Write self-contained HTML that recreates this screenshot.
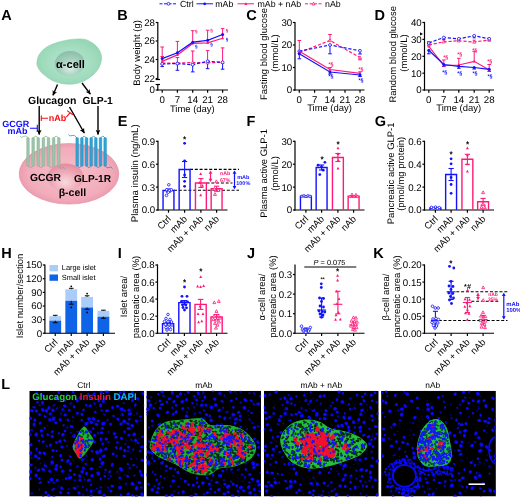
<!DOCTYPE html>
<html><head><meta charset="utf-8"><title>Figure</title>
<style>
html,body{margin:0;padding:0;background:#fff;}
svg{display:block;font-family:'Liberation Sans',Arial,sans-serif;text-rendering:geometricPrecision;}
</style></head><body>
<svg width="520" height="499" viewBox="0 0 520 499">
<rect width="520" height="499" fill="#fff"/>
<text x="1.2" y="19.5" font-size="14.5" font-weight="bold">A</text>
<text x="117.3" y="19.5" font-size="14.5" font-weight="bold">B</text>
<text x="246.3" y="19.5" font-size="14.5" font-weight="bold">C</text>
<text x="374.5" y="19.5" font-size="14.5" font-weight="bold">D</text>
<text x="117.7" y="125.5" font-size="14.5" font-weight="bold">E</text>
<text x="246.5" y="125.5" font-size="14.5" font-weight="bold">F</text>
<text x="374.8" y="125.5" font-size="14.5" font-weight="bold">G</text>
<text x="1.2" y="257.8" font-size="14.5" font-weight="bold">H</text>
<text x="117.8" y="257.8" font-size="14.5" font-weight="bold">I</text>
<text x="247" y="257.8" font-size="14.5" font-weight="bold">J</text>
<text x="373.2" y="257.8" font-size="14.5" font-weight="bold">K</text>
<text x="1.2" y="388.5" font-size="14.5" font-weight="bold">L</text>
<line x1="159.50" y1="3.80" x2="177.50" y2="3.80" stroke="#1212ff" stroke-width="1" stroke-dasharray="3 1.5"/>
<circle cx="168.50" cy="3.80" r="1.4" fill="#fff" stroke="#1212ff" stroke-width="0.8"/>
<text x="180" y="6.6" font-size="8.8">Ctrl</text>
<line x1="196.50" y1="3.80" x2="213.00" y2="3.80" stroke="#1212ff" stroke-width="1"/>
<circle cx="204.70" cy="3.80" r="1.4" fill="#1212ff"/>
<text x="215.2" y="6.6" font-size="8.8">mAb</text>
<line x1="237.50" y1="3.80" x2="254.00" y2="3.80" stroke="#ff1a78" stroke-width="1"/>
<polygon points="245.80,2.17 244.34,4.94 247.26,4.94" fill="#ff1a78"/>
<text x="257.5" y="6.6" font-size="8.8">mAb + nAb</text>
<line x1="305.00" y1="3.80" x2="321.50" y2="3.80" stroke="#ff1a78" stroke-width="1" stroke-dasharray="3 1.5"/>
<polygon points="313.50,2.17 312.04,4.94 314.96,4.94" fill="#fff" stroke="#ff1a78" stroke-width="0.8"/>
<text x="325" y="6.6" font-size="8.8">nAb</text>
<defs>
<radialGradient id="ga" cx="50%" cy="52%" r="58%"><stop offset="0" stop-color="#b8e5cf"/><stop offset="0.6" stop-color="#a3ddc0"/><stop offset="1" stop-color="#93d4b1"/></radialGradient>
<radialGradient id="gan" cx="50%" cy="68%" r="70%"><stop offset="0" stop-color="#dcefe7"/><stop offset="0.5" stop-color="#a6d0be"/><stop offset="1" stop-color="#86bda6"/></radialGradient>
<radialGradient id="gb" cx="50%" cy="50%" r="55%"><stop offset="0" stop-color="#f6bfca"/><stop offset="0.75" stop-color="#f2acbb"/><stop offset="1" stop-color="#e995aa"/></radialGradient>
<radialGradient id="gbn" cx="50%" cy="68%" r="68%"><stop offset="0" stop-color="#fad9df"/><stop offset="0.55" stop-color="#efa9b8"/><stop offset="1" stop-color="#e28b9f"/></radialGradient>
<marker id="ah" viewBox="0 0 10 10" refX="9" refY="5" markerUnits="userSpaceOnUse" markerWidth="5.6" markerHeight="5.2" orient="auto"><path d="M0,0.5 L10,5 L0,9.5 L2.5,5 z" fill="#000"/></marker>
</defs>
<path d="M36.9,63.1C37.0,60.8 37.5,57.3 39.2,54.6C40.9,51.9 43.3,49.1 46.9,46.9C50.5,44.7 56.2,42.8 60.8,41.5C65.4,40.2 70.5,39.5 74.6,39.2C78.7,38.9 82.1,38.6 85.4,39.5C88.7,40.4 92.2,42.6 94.6,44.6C97.0,46.6 98.8,49.1 100.0,51.5C101.2,53.9 101.8,56.4 101.5,59.2C101.2,62.0 100.2,65.7 98.5,68.5C96.8,71.3 94.5,73.9 91.5,76.2C88.5,78.5 84.6,81.0 80.8,82.3C77.0,83.6 72.9,84.3 68.5,84.2C64.1,84.1 58.7,83.1 54.6,81.5C50.5,79.9 46.5,76.8 43.8,74.6C41.1,72.4 39.6,70.4 38.5,68.5C37.4,66.6 36.8,65.4 36.9,63.1Z" fill="url(#ga)" stroke="#8ccfac" stroke-width="0.6"/>
<ellipse cx="69.6" cy="63.5" rx="15" ry="12.5" fill="url(#gan)" transform="rotate(-8 69.6 63.5)"/>
<text x="70.5" y="67.6" font-size="11" text-anchor="middle" font-weight="bold">α-cell</text>
<g stroke="#000" stroke-width="1.4" fill="none">
<line x1="57.5" y1="84.6" x2="53" y2="95.3" marker-end="url(#ah)"/>
<line x1="82" y1="83" x2="90.3" y2="94.2" marker-end="url(#ah)"/>
<line x1="39.2" y1="106" x2="39.2" y2="134.5" marker-end="url(#ah)"/>
<line x1="69.5" y1="107" x2="84.3" y2="133" marker-end="url(#ah)"/>
<line x1="98" y1="106" x2="98" y2="134.5" marker-end="url(#ah)"/>
</g>
<text x="28" y="103.8" font-size="10.5" font-weight="bold">Glucagon</text>
<text x="82.5" y="103.8" font-size="10.3" font-weight="bold">GLP-1</text>
<text x="48.7" y="121" font-size="9" font-weight="bold" fill="#fa0f16">nAb</text>
<g stroke="#fa0f16" stroke-width="1.1" fill="none"><path d="M41.3,115.6 V121 M41.3,118.3 H48"/><path d="M66.3,117.2 L70.2,112.6 M67.2,110.6 L72.8,114.8"/></g>
<text x="2.3" y="127.2" font-size="9" font-weight="bold" fill="#0c0cff">GCGR</text>
<text x="7.5" y="134.2" font-size="9" font-weight="bold" fill="#0c0cff">mAb</text>
<g stroke="#0c0cff" stroke-width="1.1" fill="none"><path d="M30,128.3 H37.3 M37.3,124.8 V132"/></g>
<ellipse cx="69" cy="173.8" rx="49.8" ry="30.3" fill="url(#gb)" stroke="#e693a8" stroke-width="0.7"/>
<ellipse cx="65.5" cy="177.3" rx="18" ry="13.8" fill="url(#gbn)"/>
<path d="M28.0,165.3 Q30.6,169.8 33.1,165.3 M33.1,138.5 Q35.7,134.0 38.3,138.5 M38.3,165.3 Q40.8,169.8 43.4,165.3 M43.4,138.5 Q46.0,134.0 48.5,138.5 M48.5,165.3 Q51.1,169.8 53.6,165.3 M53.6,138.5 Q56.2,134.0 58.8,138.5 " fill="none" stroke="#7aa98c" stroke-width="0.7"/>
<path d="M28.2,138 Q26,134.5 23.5,136.5 T20,136 M58.8,166 Q60,169.5 62,168 T65.5,169.5" fill="none" stroke="#7aa98c" stroke-width="0.7"/>
<rect x="26.65" y="137.5" width="2.7" height="28.8" rx="1.1" fill="#9cc4aa" stroke="#7aa98c" stroke-width="0.35"/>
<rect x="31.78" y="137.5" width="2.7" height="28.8" rx="1.1" fill="#9cc4aa" stroke="#7aa98c" stroke-width="0.35"/>
<rect x="36.91" y="137.5" width="2.7" height="28.8" rx="1.1" fill="#9cc4aa" stroke="#7aa98c" stroke-width="0.35"/>
<rect x="42.04" y="137.5" width="2.7" height="28.8" rx="1.1" fill="#9cc4aa" stroke="#7aa98c" stroke-width="0.35"/>
<rect x="47.17" y="137.5" width="2.7" height="28.8" rx="1.1" fill="#9cc4aa" stroke="#7aa98c" stroke-width="0.35"/>
<rect x="52.30" y="137.5" width="2.7" height="28.8" rx="1.1" fill="#9cc4aa" stroke="#7aa98c" stroke-width="0.35"/>
<rect x="57.43" y="137.5" width="2.7" height="28.8" rx="1.1" fill="#9cc4aa" stroke="#7aa98c" stroke-width="0.35"/>
<path d="M77.2,165.3 Q79.5,169.8 81.9,165.3 M81.9,138.5 Q84.2,134.0 86.5,138.5 M86.5,165.3 Q88.9,169.8 91.2,165.3 M91.2,138.5 Q93.5,134.0 95.8,138.5 M95.8,165.3 Q98.2,169.8 100.5,165.3 M100.5,138.5 Q102.8,134.0 105.2,138.5 " fill="none" stroke="#1b86b8" stroke-width="0.7"/>
<path d="M76.8,138 Q74.5,134 72,135.5 T68.5,134.5 M105.2,166 Q107,169 109,167.5 T112.5,168.5" fill="none" stroke="#1b86b8" stroke-width="0.7"/>
<rect x="75.85" y="137.5" width="2.7" height="28.8" rx="1.1" fill="#2fa3d6" stroke="#1b86b8" stroke-width="0.35"/>
<rect x="80.51" y="137.5" width="2.7" height="28.8" rx="1.1" fill="#2fa3d6" stroke="#1b86b8" stroke-width="0.35"/>
<rect x="85.17" y="137.5" width="2.7" height="28.8" rx="1.1" fill="#2fa3d6" stroke="#1b86b8" stroke-width="0.35"/>
<rect x="89.83" y="137.5" width="2.7" height="28.8" rx="1.1" fill="#2fa3d6" stroke="#1b86b8" stroke-width="0.35"/>
<rect x="94.49" y="137.5" width="2.7" height="28.8" rx="1.1" fill="#2fa3d6" stroke="#1b86b8" stroke-width="0.35"/>
<rect x="99.15" y="137.5" width="2.7" height="28.8" rx="1.1" fill="#2fa3d6" stroke="#1b86b8" stroke-width="0.35"/>
<rect x="103.81" y="137.5" width="2.7" height="28.8" rx="1.1" fill="#2fa3d6" stroke="#1b86b8" stroke-width="0.35"/>
<text x="30" y="181.3" font-size="10.3" font-weight="bold">GCGR</text>
<text x="74" y="182.3" font-size="10.1" font-weight="bold">GLP-1R</text>
<text x="58.7" y="196" font-size="10.5" font-weight="bold">β-cell</text>
<line x1="157.80" y1="21.90" x2="157.80" y2="79.50" stroke="#000" stroke-width="1.2"/>
<line x1="157.80" y1="84.50" x2="157.80" y2="90.60" stroke="#000" stroke-width="1.2"/>
<line x1="155.60" y1="79.50" x2="160.00" y2="79.50" stroke="#000" stroke-width="1.2"/>
<line x1="155.60" y1="84.50" x2="160.00" y2="84.50" stroke="#000" stroke-width="1.2"/>
<line x1="157.20" y1="90.00" x2="228.00" y2="90.00" stroke="#000" stroke-width="1.2"/>
<line x1="155.70" y1="22.50" x2="157.80" y2="22.50" stroke="#000" stroke-width="1.2"/>
<text x="155.00000000000003" y="25.9" font-size="9.7" text-anchor="end">28</text>
<line x1="155.70" y1="41.00" x2="157.80" y2="41.00" stroke="#000" stroke-width="1.2"/>
<text x="155.00000000000003" y="44.4" font-size="9.7" text-anchor="end">26</text>
<line x1="155.70" y1="59.50" x2="157.80" y2="59.50" stroke="#000" stroke-width="1.2"/>
<text x="155.00000000000003" y="62.9" font-size="9.7" text-anchor="end">24</text>
<line x1="155.70" y1="78.50" x2="157.80" y2="78.50" stroke="#000" stroke-width="1.2"/>
<text x="155.00000000000003" y="81.9" font-size="9.7" text-anchor="end">22</text>
<line x1="155.70" y1="90.00" x2="157.80" y2="90.00" stroke="#000" stroke-width="1.2"/>
<text x="155.00000000000003" y="93.4" font-size="9.7" text-anchor="end">0</text>
<line x1="162.20" y1="90.00" x2="162.20" y2="92.70" stroke="#000" stroke-width="1.2"/>
<text x="162.2" y="102.8" font-size="9.7" text-anchor="middle">0</text>
<line x1="177.40" y1="90.00" x2="177.40" y2="92.70" stroke="#000" stroke-width="1.2"/>
<text x="177.4" y="102.8" font-size="9.7" text-anchor="middle">7</text>
<line x1="192.70" y1="90.00" x2="192.70" y2="92.70" stroke="#000" stroke-width="1.2"/>
<text x="192.7" y="102.8" font-size="9.7" text-anchor="middle">14</text>
<line x1="207.60" y1="90.00" x2="207.60" y2="92.70" stroke="#000" stroke-width="1.2"/>
<text x="207.6" y="102.8" font-size="9.7" text-anchor="middle">21</text>
<line x1="222.60" y1="90.00" x2="222.60" y2="92.70" stroke="#000" stroke-width="1.2"/>
<text x="222.6" y="102.8" font-size="9.7" text-anchor="middle">28</text>
<text x="192.3" y="112.4" font-size="9.45" text-anchor="middle">Time (day)</text>
<text x="140.3" y="53" font-size="9.45" text-anchor="middle" transform="rotate(-90 140.3 53)">Body weight (g)</text>
<line x1="162.20" y1="63.20" x2="162.20" y2="56.50" stroke="#ff1a78" stroke-width="1"/>
<line x1="160.40" y1="56.50" x2="164.00" y2="56.50" stroke="#ff1a78" stroke-width="1"/>
<line x1="162.20" y1="63.90" x2="162.20" y2="66.60" stroke="#1212ff" stroke-width="1"/>
<line x1="160.40" y1="66.60" x2="164.00" y2="66.60" stroke="#1212ff" stroke-width="1"/>
<line x1="162.20" y1="61.40" x2="162.20" y2="47.00" stroke="#ff1a78" stroke-width="1"/>
<line x1="160.40" y1="47.00" x2="164.00" y2="47.00" stroke="#ff1a78" stroke-width="1"/>
<line x1="177.40" y1="63.00" x2="177.40" y2="57.50" stroke="#ff1a78" stroke-width="1"/>
<line x1="175.60" y1="57.50" x2="179.20" y2="57.50" stroke="#ff1a78" stroke-width="1"/>
<line x1="177.40" y1="63.60" x2="177.40" y2="70.30" stroke="#1212ff" stroke-width="1"/>
<line x1="175.60" y1="70.30" x2="179.20" y2="70.30" stroke="#1212ff" stroke-width="1"/>
<line x1="177.40" y1="54.90" x2="177.40" y2="41.40" stroke="#ff1a78" stroke-width="1"/>
<line x1="175.60" y1="41.40" x2="179.20" y2="41.40" stroke="#ff1a78" stroke-width="1"/>
<line x1="192.70" y1="62.50" x2="192.70" y2="51.00" stroke="#ff1a78" stroke-width="1"/>
<line x1="190.90" y1="51.00" x2="194.50" y2="51.00" stroke="#ff1a78" stroke-width="1"/>
<line x1="192.70" y1="64.70" x2="192.70" y2="71.90" stroke="#1212ff" stroke-width="1"/>
<line x1="190.90" y1="71.90" x2="194.50" y2="71.90" stroke="#1212ff" stroke-width="1"/>
<line x1="192.70" y1="43.40" x2="192.70" y2="30.70" stroke="#ff1a78" stroke-width="1"/>
<line x1="190.90" y1="30.70" x2="194.50" y2="30.70" stroke="#ff1a78" stroke-width="1"/>
<line x1="207.60" y1="62.80" x2="207.60" y2="50.60" stroke="#ff1a78" stroke-width="1"/>
<line x1="205.80" y1="50.60" x2="209.40" y2="50.60" stroke="#ff1a78" stroke-width="1"/>
<line x1="207.60" y1="61.20" x2="207.60" y2="68.70" stroke="#1212ff" stroke-width="1"/>
<line x1="205.80" y1="68.70" x2="209.40" y2="68.70" stroke="#1212ff" stroke-width="1"/>
<line x1="207.60" y1="42.80" x2="207.60" y2="30.20" stroke="#ff1a78" stroke-width="1"/>
<line x1="205.80" y1="30.20" x2="209.40" y2="30.20" stroke="#ff1a78" stroke-width="1"/>
<line x1="222.60" y1="62.30" x2="222.60" y2="47.90" stroke="#ff1a78" stroke-width="1"/>
<line x1="220.80" y1="47.90" x2="224.40" y2="47.90" stroke="#ff1a78" stroke-width="1"/>
<line x1="222.60" y1="62.30" x2="222.60" y2="69.20" stroke="#1212ff" stroke-width="1"/>
<line x1="220.80" y1="69.20" x2="224.40" y2="69.20" stroke="#1212ff" stroke-width="1"/>
<line x1="222.60" y1="38.20" x2="222.60" y2="28.60" stroke="#ff1a78" stroke-width="1"/>
<line x1="220.80" y1="28.60" x2="224.40" y2="28.60" stroke="#ff1a78" stroke-width="1"/>
<polyline points="162.20,63.20 177.40,63.00 192.70,62.50 207.60,62.80 222.60,62.30" fill="none" stroke="#ff1a78" stroke-width="1.2" stroke-dasharray="3.2 1.8"/>
<polyline points="162.20,63.90 177.40,63.60 192.70,64.70 207.60,61.20 222.60,62.30" fill="none" stroke="#1212ff" stroke-width="1.2" stroke-dasharray="3.2 1.8"/>
<polyline points="162.20,61.40 177.40,54.90 192.70,43.40 207.60,42.80 222.60,38.20" fill="none" stroke="#ff1a78" stroke-width="1.2"/>
<polyline points="162.20,58.60 177.40,52.70 192.70,42.20 207.60,40.30 222.60,34.50" fill="none" stroke="#1212ff" stroke-width="1.2"/>
<polygon points="162.20,61.58 160.74,64.34 163.66,64.34" fill="#fff" stroke="#ff1a78" stroke-width="0.8"/>
<polygon points="177.40,61.38 175.94,64.14 178.86,64.14" fill="#fff" stroke="#ff1a78" stroke-width="0.8"/>
<polygon points="192.70,60.88 191.24,63.64 194.16,63.64" fill="#fff" stroke="#ff1a78" stroke-width="0.8"/>
<polygon points="207.60,61.17 206.14,63.94 209.06,63.94" fill="#fff" stroke="#ff1a78" stroke-width="0.8"/>
<polygon points="222.60,60.67 221.14,63.44 224.06,63.44" fill="#fff" stroke="#ff1a78" stroke-width="0.8"/>
<circle cx="162.20" cy="63.90" r="1.4" fill="#fff" stroke="#1212ff" stroke-width="0.8"/>
<circle cx="177.40" cy="63.60" r="1.4" fill="#fff" stroke="#1212ff" stroke-width="0.8"/>
<circle cx="192.70" cy="64.70" r="1.4" fill="#fff" stroke="#1212ff" stroke-width="0.8"/>
<circle cx="207.60" cy="61.20" r="1.4" fill="#fff" stroke="#1212ff" stroke-width="0.8"/>
<circle cx="222.60" cy="62.30" r="1.4" fill="#fff" stroke="#1212ff" stroke-width="0.8"/>
<polygon points="162.20,59.77 160.74,62.54 163.66,62.54" fill="#ff1a78"/>
<polygon points="177.40,53.27 175.94,56.04 178.86,56.04" fill="#ff1a78"/>
<polygon points="192.70,41.77 191.24,44.54 194.16,44.54" fill="#ff1a78"/>
<polygon points="207.60,41.17 206.14,43.94 209.06,43.94" fill="#ff1a78"/>
<polygon points="222.60,36.58 221.14,39.34 224.06,39.34" fill="#ff1a78"/>
<circle cx="162.20" cy="58.60" r="1.5" fill="#1212ff"/>
<circle cx="177.40" cy="52.70" r="1.5" fill="#1212ff"/>
<circle cx="192.70" cy="42.20" r="1.5" fill="#1212ff"/>
<circle cx="207.60" cy="40.30" r="1.5" fill="#1212ff"/>
<circle cx="222.60" cy="34.50" r="1.5" fill="#1212ff"/>
<text x="196.4" y="32.8" font-size="4.7" text-anchor="middle" font-weight="bold" fill="#ff1a78">§</text>
<text x="211.5" y="32" font-size="4.7" text-anchor="middle" font-weight="bold" fill="#ff1a78">§</text>
<text x="227" y="31.5" font-size="4.7" text-anchor="middle" font-weight="bold" fill="#ff1a78">§</text>
<text x="196.4" y="48" font-size="4.7" text-anchor="middle" font-weight="bold" fill="#1212ff">§</text>
<text x="211.5" y="46.3" font-size="4.7" text-anchor="middle" font-weight="bold" fill="#1212ff">§</text>
<text x="227" y="40.5" font-size="4.7" text-anchor="middle" font-weight="bold" fill="#1212ff">§</text>
<line x1="295.00" y1="21.90" x2="295.00" y2="90.60" stroke="#000" stroke-width="1.2"/>
<line x1="294.40" y1="90.00" x2="364.50" y2="90.00" stroke="#000" stroke-width="1.2"/>
<line x1="292.90" y1="22.50" x2="295.00" y2="22.50" stroke="#000" stroke-width="1.2"/>
<text x="292.2" y="25.9" font-size="9.7" text-anchor="end">30</text>
<line x1="292.90" y1="45.00" x2="295.00" y2="45.00" stroke="#000" stroke-width="1.2"/>
<text x="292.2" y="48.4" font-size="9.7" text-anchor="end">20</text>
<line x1="292.90" y1="67.50" x2="295.00" y2="67.50" stroke="#000" stroke-width="1.2"/>
<text x="292.2" y="70.9" font-size="9.7" text-anchor="end">10</text>
<line x1="292.90" y1="90.00" x2="295.00" y2="90.00" stroke="#000" stroke-width="1.2"/>
<text x="292.2" y="93.4" font-size="9.7" text-anchor="end">0</text>
<line x1="299.30" y1="90.00" x2="299.30" y2="92.70" stroke="#000" stroke-width="1.2"/>
<text x="299.3" y="102.8" font-size="9.7" text-anchor="middle">0</text>
<line x1="314.60" y1="90.00" x2="314.60" y2="92.70" stroke="#000" stroke-width="1.2"/>
<text x="314.6" y="102.8" font-size="9.7" text-anchor="middle">7</text>
<line x1="330.00" y1="90.00" x2="330.00" y2="92.70" stroke="#000" stroke-width="1.2"/>
<text x="330" y="102.8" font-size="9.7" text-anchor="middle">14</text>
<line x1="345.00" y1="90.00" x2="345.00" y2="92.70" stroke="#000" stroke-width="1.2"/>
<text x="345" y="102.8" font-size="9.7" text-anchor="middle">21</text>
<line x1="360.00" y1="90.00" x2="360.00" y2="92.70" stroke="#000" stroke-width="1.2"/>
<text x="360" y="102.8" font-size="9.7" text-anchor="middle">28</text>
<text x="329.5" y="111.2" font-size="9.45" text-anchor="middle">Time (day)</text>
<text x="266.5" y="54" font-size="9.45" text-anchor="middle" transform="rotate(-90 266.5 54)">Fasting blood glucose</text>
<text x="278.3" y="53" font-size="9.45" text-anchor="middle" transform="rotate(-90 278.3 53)">(mmol/L)</text>
<line x1="299.30" y1="52.50" x2="299.30" y2="40.50" stroke="#ff1a78" stroke-width="1"/>
<line x1="297.50" y1="40.50" x2="301.10" y2="40.50" stroke="#ff1a78" stroke-width="1"/>
<line x1="330.00" y1="40.50" x2="330.00" y2="34.50" stroke="#ff1a78" stroke-width="1"/>
<line x1="328.20" y1="34.50" x2="331.80" y2="34.50" stroke="#ff1a78" stroke-width="1"/>
<line x1="360.00" y1="57.50" x2="360.00" y2="59.80" stroke="#ff1a78" stroke-width="1"/>
<line x1="358.20" y1="59.80" x2="361.80" y2="59.80" stroke="#ff1a78" stroke-width="1"/>
<line x1="299.30" y1="53.80" x2="299.30" y2="58.80" stroke="#1212ff" stroke-width="1"/>
<line x1="297.50" y1="58.80" x2="301.10" y2="58.80" stroke="#1212ff" stroke-width="1"/>
<line x1="330.00" y1="45.00" x2="330.00" y2="53.80" stroke="#1212ff" stroke-width="1"/>
<line x1="328.20" y1="53.80" x2="331.80" y2="53.80" stroke="#1212ff" stroke-width="1"/>
<line x1="360.00" y1="50.80" x2="360.00" y2="54.00" stroke="#1212ff" stroke-width="1"/>
<line x1="358.20" y1="54.00" x2="361.80" y2="54.00" stroke="#1212ff" stroke-width="1"/>
<line x1="330.00" y1="72.00" x2="330.00" y2="74.00" stroke="#1212ff" stroke-width="1"/>
<line x1="328.20" y1="74.00" x2="331.80" y2="74.00" stroke="#1212ff" stroke-width="1"/>
<line x1="360.00" y1="75.00" x2="360.00" y2="76.50" stroke="#1212ff" stroke-width="1"/>
<line x1="358.20" y1="76.50" x2="361.80" y2="76.50" stroke="#1212ff" stroke-width="1"/>
<line x1="330.00" y1="69.50" x2="330.00" y2="67.50" stroke="#ff1a78" stroke-width="1"/>
<line x1="328.20" y1="67.50" x2="331.80" y2="67.50" stroke="#ff1a78" stroke-width="1"/>
<line x1="360.00" y1="73.30" x2="360.00" y2="71.80" stroke="#ff1a78" stroke-width="1"/>
<line x1="358.20" y1="71.80" x2="361.80" y2="71.80" stroke="#ff1a78" stroke-width="1"/>
<polyline points="299.30,52.50 330.00,40.50 360.00,57.50" fill="none" stroke="#ff1a78" stroke-width="1.2" stroke-dasharray="3.2 1.8"/>
<polyline points="299.30,51.20 330.00,45.00 360.00,50.80" fill="none" stroke="#1212ff" stroke-width="1.2" stroke-dasharray="3.2 1.8"/>
<polyline points="299.30,51.30 330.00,69.50 360.00,73.30" fill="none" stroke="#ff1a78" stroke-width="1.2"/>
<polyline points="299.30,53.80 330.00,72.00 360.00,75.00" fill="none" stroke="#1212ff" stroke-width="1.2"/>
<polygon points="299.30,50.88 297.84,53.64 300.76,53.64" fill="#fff" stroke="#ff1a78" stroke-width="0.8"/>
<polygon points="330.00,38.88 328.54,41.64 331.46,41.64" fill="#fff" stroke="#ff1a78" stroke-width="0.8"/>
<polygon points="360.00,55.88 358.54,58.64 361.46,58.64" fill="#fff" stroke="#ff1a78" stroke-width="0.8"/>
<circle cx="299.30" cy="51.20" r="1.4" fill="#fff" stroke="#1212ff" stroke-width="0.8"/>
<circle cx="330.00" cy="45.00" r="1.4" fill="#fff" stroke="#1212ff" stroke-width="0.8"/>
<circle cx="360.00" cy="50.80" r="1.4" fill="#fff" stroke="#1212ff" stroke-width="0.8"/>
<polygon points="299.30,49.67 297.84,52.44 300.76,52.44" fill="#ff1a78"/>
<polygon points="330.00,67.88 328.54,70.64 331.46,70.64" fill="#ff1a78"/>
<polygon points="360.00,71.67 358.54,74.44 361.46,74.44" fill="#ff1a78"/>
<circle cx="299.30" cy="53.80" r="1.5" fill="#1212ff"/>
<circle cx="330.00" cy="72.00" r="1.5" fill="#1212ff"/>
<circle cx="360.00" cy="75.00" r="1.5" fill="#1212ff"/>
<text x="331" y="66.3" font-size="5.4" text-anchor="middle" font-weight="bold" fill="#ff1a78">*§</text>
<text x="361" y="70.5" font-size="5.4" text-anchor="middle" font-weight="bold" fill="#ff1a78">*§</text>
<text x="331" y="78" font-size="5.4" text-anchor="middle" font-weight="bold" fill="#1212ff">*§</text>
<text x="361" y="82.3" font-size="5.4" text-anchor="middle" font-weight="bold" fill="#1212ff">*§</text>
<line x1="424.50" y1="21.90" x2="424.50" y2="90.60" stroke="#000" stroke-width="1.2"/>
<line x1="423.90" y1="90.00" x2="494.00" y2="90.00" stroke="#000" stroke-width="1.2"/>
<line x1="422.40" y1="22.50" x2="424.50" y2="22.50" stroke="#000" stroke-width="1.2"/>
<text x="421.7" y="25.9" font-size="9.7" text-anchor="end">40</text>
<line x1="422.40" y1="39.40" x2="424.50" y2="39.40" stroke="#000" stroke-width="1.2"/>
<text x="421.7" y="42.8" font-size="9.7" text-anchor="end">30</text>
<line x1="422.40" y1="56.30" x2="424.50" y2="56.30" stroke="#000" stroke-width="1.2"/>
<text x="421.7" y="59.699999999999996" font-size="9.7" text-anchor="end">20</text>
<line x1="422.40" y1="73.20" x2="424.50" y2="73.20" stroke="#000" stroke-width="1.2"/>
<text x="421.7" y="76.60000000000001" font-size="9.7" text-anchor="end">10</text>
<line x1="422.40" y1="90.00" x2="424.50" y2="90.00" stroke="#000" stroke-width="1.2"/>
<text x="421.7" y="93.4" font-size="9.7" text-anchor="end">0</text>
<line x1="428.80" y1="90.00" x2="428.80" y2="92.70" stroke="#000" stroke-width="1.2"/>
<text x="428.8" y="102.8" font-size="9.7" text-anchor="middle">0</text>
<line x1="443.80" y1="90.00" x2="443.80" y2="92.70" stroke="#000" stroke-width="1.2"/>
<text x="443.8" y="102.8" font-size="9.7" text-anchor="middle">7</text>
<line x1="458.80" y1="90.00" x2="458.80" y2="92.70" stroke="#000" stroke-width="1.2"/>
<text x="458.8" y="102.8" font-size="9.7" text-anchor="middle">14</text>
<line x1="474.20" y1="90.00" x2="474.20" y2="92.70" stroke="#000" stroke-width="1.2"/>
<text x="474.2" y="102.8" font-size="9.7" text-anchor="middle">21</text>
<line x1="489.20" y1="90.00" x2="489.20" y2="92.70" stroke="#000" stroke-width="1.2"/>
<text x="489.2" y="102.8" font-size="9.7" text-anchor="middle">28</text>
<text x="458.7" y="111.2" font-size="9.45" text-anchor="middle">Time (day)</text>
<text x="395.8" y="54.2" font-size="9.45" text-anchor="middle" transform="rotate(-90 395.8 54.2)">Random blood glucose</text>
<text x="407.3" y="53" font-size="9.45" text-anchor="middle" transform="rotate(-90 407.3 53)">(mmol/L)</text>
<polygon points="420,32.3 423,33.9 420,35.5" fill="#000"/>
<line x1="428.80" y1="46.30" x2="428.80" y2="41.50" stroke="#ff1a78" stroke-width="1"/>
<line x1="427.00" y1="41.50" x2="430.60" y2="41.50" stroke="#ff1a78" stroke-width="1"/>
<line x1="428.80" y1="50.20" x2="428.80" y2="53.80" stroke="#1212ff" stroke-width="1"/>
<line x1="427.00" y1="53.80" x2="430.60" y2="53.80" stroke="#1212ff" stroke-width="1"/>
<line x1="428.80" y1="43.00" x2="428.80" y2="45.00" stroke="#1212ff" stroke-width="1"/>
<line x1="427.30" y1="45.00" x2="430.30" y2="45.00" stroke="#1212ff" stroke-width="1"/>
<line x1="428.80" y1="45.00" x2="428.80" y2="43.20" stroke="#ff1a78" stroke-width="1"/>
<line x1="427.30" y1="43.20" x2="430.30" y2="43.20" stroke="#ff1a78" stroke-width="1"/>
<line x1="443.80" y1="65.50" x2="443.80" y2="60.00" stroke="#ff1a78" stroke-width="1"/>
<line x1="442.00" y1="60.00" x2="445.60" y2="60.00" stroke="#ff1a78" stroke-width="1"/>
<line x1="443.80" y1="64.50" x2="443.80" y2="66.50" stroke="#1212ff" stroke-width="1"/>
<line x1="442.00" y1="66.50" x2="445.60" y2="66.50" stroke="#1212ff" stroke-width="1"/>
<line x1="443.80" y1="37.50" x2="443.80" y2="39.50" stroke="#1212ff" stroke-width="1"/>
<line x1="442.30" y1="39.50" x2="445.30" y2="39.50" stroke="#1212ff" stroke-width="1"/>
<line x1="443.80" y1="41.80" x2="443.80" y2="40.00" stroke="#ff1a78" stroke-width="1"/>
<line x1="442.30" y1="40.00" x2="445.30" y2="40.00" stroke="#ff1a78" stroke-width="1"/>
<line x1="458.80" y1="65.00" x2="458.80" y2="58.30" stroke="#ff1a78" stroke-width="1"/>
<line x1="457.00" y1="58.30" x2="460.60" y2="58.30" stroke="#ff1a78" stroke-width="1"/>
<line x1="458.80" y1="66.30" x2="458.80" y2="68.30" stroke="#1212ff" stroke-width="1"/>
<line x1="457.00" y1="68.30" x2="460.60" y2="68.30" stroke="#1212ff" stroke-width="1"/>
<line x1="458.80" y1="38.80" x2="458.80" y2="40.80" stroke="#1212ff" stroke-width="1"/>
<line x1="457.30" y1="40.80" x2="460.30" y2="40.80" stroke="#1212ff" stroke-width="1"/>
<line x1="458.80" y1="40.80" x2="458.80" y2="39.00" stroke="#ff1a78" stroke-width="1"/>
<line x1="457.30" y1="39.00" x2="460.30" y2="39.00" stroke="#ff1a78" stroke-width="1"/>
<line x1="474.20" y1="61.30" x2="474.20" y2="51.30" stroke="#ff1a78" stroke-width="1"/>
<line x1="472.40" y1="51.30" x2="476.00" y2="51.30" stroke="#ff1a78" stroke-width="1"/>
<line x1="474.20" y1="67.50" x2="474.20" y2="69.00" stroke="#1212ff" stroke-width="1"/>
<line x1="472.40" y1="69.00" x2="476.00" y2="69.00" stroke="#1212ff" stroke-width="1"/>
<line x1="474.20" y1="35.80" x2="474.20" y2="37.80" stroke="#1212ff" stroke-width="1"/>
<line x1="472.70" y1="37.80" x2="475.70" y2="37.80" stroke="#1212ff" stroke-width="1"/>
<line x1="474.20" y1="42.00" x2="474.20" y2="40.20" stroke="#ff1a78" stroke-width="1"/>
<line x1="472.70" y1="40.20" x2="475.70" y2="40.20" stroke="#ff1a78" stroke-width="1"/>
<line x1="489.20" y1="70.00" x2="489.20" y2="64.50" stroke="#ff1a78" stroke-width="1"/>
<line x1="487.40" y1="64.50" x2="491.00" y2="64.50" stroke="#ff1a78" stroke-width="1"/>
<line x1="489.20" y1="69.30" x2="489.20" y2="71.30" stroke="#1212ff" stroke-width="1"/>
<line x1="487.40" y1="71.30" x2="491.00" y2="71.30" stroke="#1212ff" stroke-width="1"/>
<line x1="489.20" y1="38.80" x2="489.20" y2="40.80" stroke="#1212ff" stroke-width="1"/>
<line x1="487.70" y1="40.80" x2="490.70" y2="40.80" stroke="#1212ff" stroke-width="1"/>
<line x1="489.20" y1="40.00" x2="489.20" y2="38.20" stroke="#ff1a78" stroke-width="1"/>
<line x1="487.70" y1="38.20" x2="490.70" y2="38.20" stroke="#ff1a78" stroke-width="1"/>
<polyline points="428.80,45.00 443.80,41.80 458.80,40.80 474.20,42.00 489.20,40.00" fill="none" stroke="#ff1a78" stroke-width="1.2" stroke-dasharray="3.2 1.8"/>
<polyline points="428.80,43.00 443.80,37.50 458.80,38.80 474.20,35.80 489.20,38.80" fill="none" stroke="#1212ff" stroke-width="1.2" stroke-dasharray="3.2 1.8"/>
<polyline points="428.80,46.30 443.80,65.50 458.80,65.00 474.20,61.30 489.20,70.00" fill="none" stroke="#ff1a78" stroke-width="1.2"/>
<polyline points="428.80,50.20 443.80,64.50 458.80,66.30 474.20,67.50 489.20,69.30" fill="none" stroke="#1212ff" stroke-width="1.2"/>
<polygon points="428.80,43.38 427.34,46.14 430.26,46.14" fill="#fff" stroke="#ff1a78" stroke-width="0.8"/>
<polygon points="443.80,40.17 442.34,42.94 445.26,42.94" fill="#fff" stroke="#ff1a78" stroke-width="0.8"/>
<polygon points="458.80,39.17 457.34,41.94 460.26,41.94" fill="#fff" stroke="#ff1a78" stroke-width="0.8"/>
<polygon points="474.20,40.38 472.74,43.14 475.66,43.14" fill="#fff" stroke="#ff1a78" stroke-width="0.8"/>
<polygon points="489.20,38.38 487.74,41.14 490.66,41.14" fill="#fff" stroke="#ff1a78" stroke-width="0.8"/>
<circle cx="428.80" cy="43.00" r="1.4" fill="#fff" stroke="#1212ff" stroke-width="0.8"/>
<circle cx="443.80" cy="37.50" r="1.4" fill="#fff" stroke="#1212ff" stroke-width="0.8"/>
<circle cx="458.80" cy="38.80" r="1.4" fill="#fff" stroke="#1212ff" stroke-width="0.8"/>
<circle cx="474.20" cy="35.80" r="1.4" fill="#fff" stroke="#1212ff" stroke-width="0.8"/>
<circle cx="489.20" cy="38.80" r="1.4" fill="#fff" stroke="#1212ff" stroke-width="0.8"/>
<polygon points="428.80,44.67 427.34,47.44 430.26,47.44" fill="#ff1a78"/>
<polygon points="443.80,63.88 442.34,66.64 445.26,66.64" fill="#ff1a78"/>
<polygon points="458.80,63.38 457.34,66.14 460.26,66.14" fill="#ff1a78"/>
<polygon points="474.20,59.67 472.74,62.44 475.66,62.44" fill="#ff1a78"/>
<polygon points="489.20,68.38 487.74,71.14 490.66,71.14" fill="#ff1a78"/>
<circle cx="428.80" cy="50.20" r="1.5" fill="#1212ff"/>
<circle cx="443.80" cy="64.50" r="1.5" fill="#1212ff"/>
<circle cx="458.80" cy="66.30" r="1.5" fill="#1212ff"/>
<circle cx="474.20" cy="67.50" r="1.5" fill="#1212ff"/>
<circle cx="489.20" cy="69.30" r="1.5" fill="#1212ff"/>
<text x="445.7" y="58.8" font-size="5.4" text-anchor="middle" font-weight="bold" fill="#ff1a78">*§</text>
<text x="459.7" y="56.3" font-size="5.4" text-anchor="middle" font-weight="bold" fill="#ff1a78">*§</text>
<text x="474.7" y="51.8" font-size="5.4" text-anchor="middle" font-weight="bold" fill="#ff1a78">*§</text>
<text x="489.7" y="62.5" font-size="5.4" text-anchor="middle" font-weight="bold" fill="#ff1a78">*§</text>
<text x="444.7" y="73.5" font-size="5.4" text-anchor="middle" font-weight="bold" fill="#1212ff">*§</text>
<text x="459.7" y="74.8" font-size="5.4" text-anchor="middle" font-weight="bold" fill="#1212ff">*§</text>
<text x="475" y="75" font-size="5.4" text-anchor="middle" font-weight="bold" fill="#1212ff">*§</text>
<text x="490" y="77.5" font-size="5.4" text-anchor="middle" font-weight="bold" fill="#1212ff">*§</text>
<line x1="158.00" y1="140.70" x2="158.00" y2="210.60" stroke="#000" stroke-width="1.2"/>
<line x1="157.40" y1="210.00" x2="227.50" y2="210.00" stroke="#000" stroke-width="1.2"/>
<line x1="155.90" y1="141.30" x2="158.00" y2="141.30" stroke="#000" stroke-width="1.2"/>
<text x="155.20000000000002" y="144.70000000000002" font-size="9.7" text-anchor="end">0.9</text>
<line x1="155.90" y1="164.20" x2="158.00" y2="164.20" stroke="#000" stroke-width="1.2"/>
<text x="155.20000000000002" y="167.6" font-size="9.7" text-anchor="end">0.6</text>
<line x1="155.90" y1="187.10" x2="158.00" y2="187.10" stroke="#000" stroke-width="1.2"/>
<text x="155.20000000000002" y="190.5" font-size="9.7" text-anchor="end">0.3</text>
<line x1="155.90" y1="210.00" x2="158.00" y2="210.00" stroke="#000" stroke-width="1.2"/>
<text x="155.20000000000002" y="213.4" font-size="9.7" text-anchor="end">0.0</text>
<line x1="168.50" y1="210.00" x2="168.50" y2="212.70" stroke="#000" stroke-width="1.2"/>
<line x1="184.60" y1="210.00" x2="184.60" y2="212.70" stroke="#000" stroke-width="1.2"/>
<line x1="200.90" y1="210.00" x2="200.90" y2="212.70" stroke="#000" stroke-width="1.2"/>
<line x1="216.60" y1="210.00" x2="216.60" y2="212.70" stroke="#000" stroke-width="1.2"/>
<text x="138" y="173.3" font-size="9.65" text-anchor="middle" transform="rotate(-90 138 173.3)">Plasma insulin (ng/mL)</text>
<line x1="190.00" y1="169.40" x2="239.00" y2="169.40" stroke="#000" stroke-width="1.1" stroke-dasharray="3 1.8"/>
<line x1="206.50" y1="183.00" x2="232.50" y2="183.00" stroke="#000" stroke-width="1.1" stroke-dasharray="3 1.8"/>
<line x1="174.00" y1="190.20" x2="239.00" y2="190.20" stroke="#000" stroke-width="1.1" stroke-dasharray="3 1.8"/>
<path d="M163.05,210 V190.50 H173.95 V210" fill="none" stroke="#1212ff" stroke-width="1.4"/>
<line x1="168.50" y1="189.00" x2="168.50" y2="192.00" stroke="#1212ff" stroke-width="1.1"/>
<line x1="165.90" y1="189.00" x2="171.10" y2="189.00" stroke="#1212ff" stroke-width="1.1"/>
<line x1="165.90" y1="192.00" x2="171.10" y2="192.00" stroke="#1212ff" stroke-width="1.1"/>
<path d="M179.15,210 V169.50 H190.05 V210" fill="none" stroke="#1212ff" stroke-width="1.4"/>
<line x1="184.60" y1="161.50" x2="184.60" y2="177.50" stroke="#1212ff" stroke-width="1.1"/>
<line x1="182.00" y1="161.50" x2="187.20" y2="161.50" stroke="#1212ff" stroke-width="1.1"/>
<line x1="182.00" y1="177.50" x2="187.20" y2="177.50" stroke="#1212ff" stroke-width="1.1"/>
<path d="M195.45,210 V183.00 H206.35 V210" fill="none" stroke="#ff1a78" stroke-width="1.4"/>
<line x1="200.90" y1="178.60" x2="200.90" y2="187.40" stroke="#ff1a78" stroke-width="1.1"/>
<line x1="198.30" y1="178.60" x2="203.50" y2="178.60" stroke="#ff1a78" stroke-width="1.1"/>
<line x1="198.30" y1="187.40" x2="203.50" y2="187.40" stroke="#ff1a78" stroke-width="1.1"/>
<path d="M211.15,210 V188.70 H222.05 V210" fill="none" stroke="#ff1a78" stroke-width="1.4"/>
<line x1="216.60" y1="186.20" x2="216.60" y2="191.20" stroke="#ff1a78" stroke-width="1.1"/>
<line x1="214.00" y1="186.20" x2="219.20" y2="186.20" stroke="#ff1a78" stroke-width="1.1"/>
<line x1="214.00" y1="191.20" x2="219.20" y2="191.20" stroke="#ff1a78" stroke-width="1.1"/>
<circle cx="168.80" cy="184.80" r="1.3" fill="#fff" stroke="#1212ff" stroke-width="0.8"/>
<circle cx="166.70" cy="189.80" r="1.3" fill="#fff" stroke="#1212ff" stroke-width="0.8"/>
<circle cx="169.30" cy="190.40" r="1.3" fill="#fff" stroke="#1212ff" stroke-width="0.8"/>
<circle cx="171.40" cy="189.80" r="1.3" fill="#fff" stroke="#1212ff" stroke-width="0.8"/>
<circle cx="168.30" cy="192.20" r="1.3" fill="#fff" stroke="#1212ff" stroke-width="0.8"/>
<circle cx="166.50" cy="195.40" r="1.3" fill="#fff" stroke="#1212ff" stroke-width="0.8"/>
<circle cx="184.60" cy="143.30" r="1.4" fill="#1212ff"/>
<circle cx="184.60" cy="160.80" r="1.4" fill="#1212ff"/>
<circle cx="184.60" cy="175.00" r="1.4" fill="#1212ff"/>
<circle cx="184.60" cy="181.30" r="1.4" fill="#1212ff"/>
<circle cx="184.60" cy="186.30" r="1.4" fill="#1212ff"/>
<polygon points="200.70,172.18 199.24,174.94 202.16,174.94" fill="#ff1a78"/>
<polygon points="199.50,180.88 198.04,183.64 200.96,183.64" fill="#ff1a78"/>
<polygon points="202.50,183.88 201.04,186.64 203.96,186.64" fill="#ff1a78"/>
<polygon points="200.70,193.38 199.24,196.14 202.16,196.14" fill="#ff1a78"/>
<polygon points="216.30,179.88 214.84,182.64 217.76,182.64" fill="#fff" stroke="#ff1a78" stroke-width="0.8"/>
<polygon points="214.50,187.38 213.04,190.14 215.96,190.14" fill="#fff" stroke="#ff1a78" stroke-width="0.8"/>
<polygon points="218.50,188.68 217.04,191.44 219.96,191.44" fill="#fff" stroke="#ff1a78" stroke-width="0.8"/>
<polygon points="215.00,192.68 213.54,195.44 216.46,195.44" fill="#fff" stroke="#ff1a78" stroke-width="0.8"/>
<text x="184.6" y="141.5" font-size="8.2" text-anchor="middle" font-weight="bold">*</text>
<line x1="210.50" y1="171.60" x2="210.50" y2="181.00" stroke="#ff1a78" stroke-width="1.2"/>
<polygon points="210.5,170.6 208.6,173.79999999999998 212.4,173.79999999999998" fill="#ff1a78"/>
<polygon points="210.5,182 208.6,178.8 212.4,178.8" fill="#ff1a78"/>
<line x1="234.50" y1="171.60" x2="234.50" y2="188.30" stroke="#1212ff" stroke-width="1.2"/>
<polygon points="234.5,170.6 232.6,173.79999999999998 236.4,173.79999999999998" fill="#1212ff"/>
<polygon points="234.5,189.3 232.6,186.10000000000002 236.4,186.10000000000002" fill="#1212ff"/>
<text x="225.2" y="175.2" font-size="5.3" text-anchor="middle" font-weight="bold" fill="#ff1a78">nAb</text>
<text x="225.2" y="181.5" font-size="5.3" text-anchor="middle" font-weight="bold" fill="#ff1a78">67%</text>
<text x="243.3" y="178.6" font-size="5.5" text-anchor="middle" font-weight="bold" fill="#1212ff">mAb</text>
<text x="243.3" y="184.9" font-size="5.5" text-anchor="middle" font-weight="bold" fill="#1212ff">100%</text>
<text x="171.6" y="219.6" font-size="9.45" text-anchor="end" transform="rotate(-45 171.6 219.6)">Ctrl</text>
<text x="187.7" y="219.6" font-size="9.45" text-anchor="end" transform="rotate(-45 187.7 219.6)">mAb</text>
<text x="204.0" y="219.6" font-size="9.45" text-anchor="end" transform="rotate(-45 204.0 219.6)">mAb + nAb</text>
<text x="219.7" y="219.6" font-size="9.45" text-anchor="end" transform="rotate(-45 219.7 219.6)">nAb</text>
<line x1="295.00" y1="140.70" x2="295.00" y2="210.60" stroke="#000" stroke-width="1.2"/>
<line x1="294.40" y1="210.00" x2="364.50" y2="210.00" stroke="#000" stroke-width="1.2"/>
<line x1="292.90" y1="141.30" x2="295.00" y2="141.30" stroke="#000" stroke-width="1.2"/>
<text x="292.2" y="144.70000000000002" font-size="9.7" text-anchor="end">30</text>
<line x1="292.90" y1="164.20" x2="295.00" y2="164.20" stroke="#000" stroke-width="1.2"/>
<text x="292.2" y="167.6" font-size="9.7" text-anchor="end">20</text>
<line x1="292.90" y1="187.10" x2="295.00" y2="187.10" stroke="#000" stroke-width="1.2"/>
<text x="292.2" y="190.5" font-size="9.7" text-anchor="end">10</text>
<line x1="292.90" y1="210.00" x2="295.00" y2="210.00" stroke="#000" stroke-width="1.2"/>
<text x="292.2" y="213.4" font-size="9.7" text-anchor="end">0</text>
<line x1="305.90" y1="210.00" x2="305.90" y2="212.70" stroke="#000" stroke-width="1.2"/>
<line x1="321.60" y1="210.00" x2="321.60" y2="212.70" stroke="#000" stroke-width="1.2"/>
<line x1="337.90" y1="210.00" x2="337.90" y2="212.70" stroke="#000" stroke-width="1.2"/>
<line x1="353.60" y1="210.00" x2="353.60" y2="212.70" stroke="#000" stroke-width="1.2"/>
<text x="266.8" y="173.3" font-size="9.45" text-anchor="middle" transform="rotate(-90 266.8 173.3)">Plasma active GLP-1</text>
<text x="278.3" y="173.5" font-size="9.45" text-anchor="middle" transform="rotate(-90 278.3 173.5)">(pmol/L)</text>
<path d="M300.45,210 V196.30 H311.35 V210" fill="none" stroke="#1212ff" stroke-width="1.4"/>
<line x1="305.90" y1="195.70" x2="305.90" y2="196.90" stroke="#1212ff" stroke-width="1.1"/>
<line x1="303.30" y1="195.70" x2="308.50" y2="195.70" stroke="#1212ff" stroke-width="1.1"/>
<line x1="303.30" y1="196.90" x2="308.50" y2="196.90" stroke="#1212ff" stroke-width="1.1"/>
<path d="M316.15,210 V167.50 H327.05 V210" fill="none" stroke="#1212ff" stroke-width="1.4"/>
<line x1="321.60" y1="165.00" x2="321.60" y2="170.00" stroke="#1212ff" stroke-width="1.1"/>
<line x1="319.00" y1="165.00" x2="324.20" y2="165.00" stroke="#1212ff" stroke-width="1.1"/>
<line x1="319.00" y1="170.00" x2="324.20" y2="170.00" stroke="#1212ff" stroke-width="1.1"/>
<path d="M332.45,210 V157.50 H343.35 V210" fill="none" stroke="#ff1a78" stroke-width="1.4"/>
<line x1="337.90" y1="153.50" x2="337.90" y2="161.50" stroke="#ff1a78" stroke-width="1.1"/>
<line x1="335.30" y1="153.50" x2="340.50" y2="153.50" stroke="#ff1a78" stroke-width="1.1"/>
<line x1="335.30" y1="161.50" x2="340.50" y2="161.50" stroke="#ff1a78" stroke-width="1.1"/>
<path d="M348.15,210 V196.30 H359.05 V210" fill="none" stroke="#ff1a78" stroke-width="1.4"/>
<line x1="353.60" y1="195.50" x2="353.60" y2="197.10" stroke="#ff1a78" stroke-width="1.1"/>
<line x1="351.00" y1="195.50" x2="356.20" y2="195.50" stroke="#ff1a78" stroke-width="1.1"/>
<line x1="351.00" y1="197.10" x2="356.20" y2="197.10" stroke="#ff1a78" stroke-width="1.1"/>
<circle cx="302.00" cy="196.20" r="1.2" fill="#fff" stroke="#1212ff" stroke-width="0.8"/>
<circle cx="304.00" cy="195.80" r="1.2" fill="#fff" stroke="#1212ff" stroke-width="0.8"/>
<circle cx="306.00" cy="196.50" r="1.2" fill="#fff" stroke="#1212ff" stroke-width="0.8"/>
<circle cx="308.00" cy="195.80" r="1.2" fill="#fff" stroke="#1212ff" stroke-width="0.8"/>
<circle cx="310.00" cy="196.30" r="1.2" fill="#fff" stroke="#1212ff" stroke-width="0.8"/>
<circle cx="318.10" cy="165.20" r="1.4" fill="#1212ff"/>
<circle cx="324.90" cy="162.30" r="1.4" fill="#1212ff"/>
<circle cx="321.50" cy="166.80" r="1.4" fill="#1212ff"/>
<circle cx="323.20" cy="170.20" r="1.4" fill="#1212ff"/>
<circle cx="319.80" cy="174.60" r="1.4" fill="#1212ff"/>
<polygon points="338.00,146.38 336.54,149.14 339.46,149.14" fill="#ff1a78"/>
<polygon points="338.00,152.18 336.54,154.94 339.46,154.94" fill="#ff1a78"/>
<polygon points="338.30,158.68 336.84,161.44 339.76,161.44" fill="#ff1a78"/>
<polygon points="338.00,166.68 336.54,169.44 339.46,169.44" fill="#ff1a78"/>
<polygon points="350.00,195.00 348.65,197.55 351.35,197.55" fill="#fff" stroke="#ff1a78" stroke-width="0.8"/>
<polygon points="352.00,193.00 350.65,195.55 353.35,195.55" fill="#fff" stroke="#ff1a78" stroke-width="0.8"/>
<polygon points="354.00,195.00 352.65,197.55 355.35,197.55" fill="#fff" stroke="#ff1a78" stroke-width="0.8"/>
<polygon points="356.00,193.30 354.65,195.85 357.35,195.85" fill="#fff" stroke="#ff1a78" stroke-width="0.8"/>
<polygon points="357.50,195.00 356.15,197.55 358.85,197.55" fill="#fff" stroke="#ff1a78" stroke-width="0.8"/>
<text x="322" y="161.8" font-size="8.2" text-anchor="middle" font-weight="bold">*</text>
<text x="338.2" y="146.5" font-size="8.2" text-anchor="middle" font-weight="bold">*</text>
<text x="309.0" y="219.6" font-size="9.45" text-anchor="end" transform="rotate(-45 309.0 219.6)">Ctrl</text>
<text x="324.7" y="219.6" font-size="9.45" text-anchor="end" transform="rotate(-45 324.7 219.6)">mAb</text>
<text x="341.0" y="219.6" font-size="9.45" text-anchor="end" transform="rotate(-45 341.0 219.6)">mAb + nAb</text>
<text x="356.7" y="219.6" font-size="9.45" text-anchor="end" transform="rotate(-45 356.7 219.6)">nAb</text>
<line x1="424.50" y1="140.70" x2="424.50" y2="210.60" stroke="#000" stroke-width="1.2"/>
<line x1="423.90" y1="210.00" x2="494.00" y2="210.00" stroke="#000" stroke-width="1.2"/>
<line x1="422.40" y1="141.30" x2="424.50" y2="141.30" stroke="#000" stroke-width="1.2"/>
<text x="421.7" y="144.70000000000002" font-size="9.7" text-anchor="end">0.6</text>
<line x1="422.40" y1="164.20" x2="424.50" y2="164.20" stroke="#000" stroke-width="1.2"/>
<text x="421.7" y="167.6" font-size="9.7" text-anchor="end">0.4</text>
<line x1="422.40" y1="187.10" x2="424.50" y2="187.10" stroke="#000" stroke-width="1.2"/>
<text x="421.7" y="190.5" font-size="9.7" text-anchor="end">0.2</text>
<line x1="422.40" y1="210.00" x2="424.50" y2="210.00" stroke="#000" stroke-width="1.2"/>
<text x="421.7" y="213.4" font-size="9.7" text-anchor="end">0.0</text>
<line x1="435.40" y1="210.00" x2="435.40" y2="212.70" stroke="#000" stroke-width="1.2"/>
<line x1="451.10" y1="210.00" x2="451.10" y2="212.70" stroke="#000" stroke-width="1.2"/>
<line x1="467.40" y1="210.00" x2="467.40" y2="212.70" stroke="#000" stroke-width="1.2"/>
<line x1="483.10" y1="210.00" x2="483.10" y2="212.70" stroke="#000" stroke-width="1.2"/>
<text x="393.7" y="173.4" font-size="9.45" text-anchor="middle" transform="rotate(-90 393.7 173.4)">Pancreatic active GLP-1</text>
<text x="404.4" y="173.8" font-size="9.45" text-anchor="middle" transform="rotate(-90 404.4 173.8)">(pmol/mg protein)</text>
<path d="M429.95,210 V208.00 H440.85 V210" fill="none" stroke="#1212ff" stroke-width="1.4"/>
<line x1="435.40" y1="207.50" x2="435.40" y2="208.50" stroke="#1212ff" stroke-width="1.1"/>
<line x1="432.80" y1="207.50" x2="438.00" y2="207.50" stroke="#1212ff" stroke-width="1.1"/>
<line x1="432.80" y1="208.50" x2="438.00" y2="208.50" stroke="#1212ff" stroke-width="1.1"/>
<path d="M445.65,210 V174.50 H456.55 V210" fill="none" stroke="#1212ff" stroke-width="1.4"/>
<line x1="451.10" y1="168.50" x2="451.10" y2="180.50" stroke="#1212ff" stroke-width="1.1"/>
<line x1="448.50" y1="168.50" x2="453.70" y2="168.50" stroke="#1212ff" stroke-width="1.1"/>
<line x1="448.50" y1="180.50" x2="453.70" y2="180.50" stroke="#1212ff" stroke-width="1.1"/>
<path d="M461.95,210 V159.30 H472.85 V210" fill="none" stroke="#ff1a78" stroke-width="1.4"/>
<line x1="467.40" y1="154.30" x2="467.40" y2="164.30" stroke="#ff1a78" stroke-width="1.1"/>
<line x1="464.80" y1="154.30" x2="470.00" y2="154.30" stroke="#ff1a78" stroke-width="1.1"/>
<line x1="464.80" y1="164.30" x2="470.00" y2="164.30" stroke="#ff1a78" stroke-width="1.1"/>
<path d="M477.65,210 V201.80 H488.55 V210" fill="none" stroke="#ff1a78" stroke-width="1.4"/>
<line x1="483.10" y1="198.40" x2="483.10" y2="205.20" stroke="#ff1a78" stroke-width="1.1"/>
<line x1="480.50" y1="198.40" x2="485.70" y2="198.40" stroke="#ff1a78" stroke-width="1.1"/>
<line x1="480.50" y1="205.20" x2="485.70" y2="205.20" stroke="#ff1a78" stroke-width="1.1"/>
<circle cx="431.50" cy="207.30" r="1.2" fill="#fff" stroke="#1212ff" stroke-width="0.8"/>
<circle cx="433.50" cy="208.30" r="1.2" fill="#fff" stroke="#1212ff" stroke-width="0.8"/>
<circle cx="435.50" cy="207.00" r="1.2" fill="#fff" stroke="#1212ff" stroke-width="0.8"/>
<circle cx="437.50" cy="208.50" r="1.2" fill="#fff" stroke="#1212ff" stroke-width="0.8"/>
<circle cx="439.30" cy="207.50" r="1.2" fill="#fff" stroke="#1212ff" stroke-width="0.8"/>
<circle cx="451.10" cy="158.80" r="1.4" fill="#1212ff"/>
<circle cx="451.10" cy="163.80" r="1.4" fill="#1212ff"/>
<circle cx="451.10" cy="177.50" r="1.4" fill="#1212ff"/>
<circle cx="451.10" cy="184.50" r="1.4" fill="#1212ff"/>
<circle cx="451.10" cy="193.30" r="1.4" fill="#1212ff"/>
<polygon points="467.40,146.38 465.94,149.14 468.86,149.14" fill="#ff1a78"/>
<polygon points="467.40,153.38 465.94,156.14 468.86,156.14" fill="#ff1a78"/>
<polygon points="467.40,162.38 465.94,165.14 468.86,165.14" fill="#ff1a78"/>
<polygon points="467.40,169.68 465.94,172.44 468.86,172.44" fill="#ff1a78"/>
<polygon points="483.10,190.88 481.64,193.64 484.56,193.64" fill="#fff" stroke="#ff1a78" stroke-width="0.8"/>
<polygon points="483.10,202.18 481.64,204.94 484.56,204.94" fill="#fff" stroke="#ff1a78" stroke-width="0.8"/>
<polygon points="481.50,205.68 480.04,208.44 482.96,208.44" fill="#fff" stroke="#ff1a78" stroke-width="0.8"/>
<polygon points="484.80,205.88 483.34,208.64 486.26,208.64" fill="#fff" stroke="#ff1a78" stroke-width="0.8"/>
<text x="451.2" y="156.5" font-size="8.2" text-anchor="middle" font-weight="bold">*</text>
<text x="467.5" y="146.5" font-size="8.2" text-anchor="middle" font-weight="bold">*</text>
<text x="438.5" y="219.6" font-size="9.45" text-anchor="end" transform="rotate(-45 438.5 219.6)">Ctrl</text>
<text x="454.2" y="219.6" font-size="9.45" text-anchor="end" transform="rotate(-45 454.2 219.6)">mAb</text>
<text x="470.5" y="219.6" font-size="9.45" text-anchor="end" transform="rotate(-45 470.5 219.6)">mAb + nAb</text>
<text x="486.2" y="219.6" font-size="9.45" text-anchor="end" transform="rotate(-45 486.2 219.6)">nAb</text>
<rect x="49.35" y="316.2" width="11.8" height="4.50" fill="#a9cdf8"/>
<rect x="49.35" y="320.7" width="11.8" height="12.55" fill="#0f63e6"/>
<rect x="65.35" y="289.3" width="11.8" height="11.50" fill="#a9cdf8"/>
<rect x="65.35" y="300.8" width="11.8" height="32.45" fill="#0f63e6"/>
<rect x="81.20" y="297" width="11.8" height="10.50" fill="#a9cdf8"/>
<rect x="81.20" y="307.5" width="11.8" height="25.75" fill="#0f63e6"/>
<rect x="97.50" y="310.8" width="11.8" height="5.90" fill="#a9cdf8"/>
<rect x="97.50" y="316.7" width="11.8" height="16.55" fill="#0f63e6"/>
<line x1="44.90" y1="264.40" x2="44.90" y2="333.85" stroke="#000" stroke-width="1.2"/>
<line x1="44.30" y1="333.25" x2="115.00" y2="333.25" stroke="#000" stroke-width="1.2"/>
<line x1="42.80" y1="265.00" x2="44.90" y2="265.00" stroke="#000" stroke-width="1.2"/>
<text x="42.099999999999994" y="268.4" font-size="9.7" text-anchor="end">150</text>
<line x1="42.80" y1="278.70" x2="44.90" y2="278.70" stroke="#000" stroke-width="1.2"/>
<text x="42.099999999999994" y="282.09999999999997" font-size="9.7" text-anchor="end">120</text>
<line x1="42.80" y1="292.40" x2="44.90" y2="292.40" stroke="#000" stroke-width="1.2"/>
<text x="42.099999999999994" y="295.79999999999995" font-size="9.7" text-anchor="end">90</text>
<line x1="42.80" y1="306.00" x2="44.90" y2="306.00" stroke="#000" stroke-width="1.2"/>
<text x="42.099999999999994" y="309.4" font-size="9.7" text-anchor="end">60</text>
<line x1="42.80" y1="319.60" x2="44.90" y2="319.60" stroke="#000" stroke-width="1.2"/>
<text x="42.099999999999994" y="323.0" font-size="9.7" text-anchor="end">30</text>
<line x1="42.80" y1="333.25" x2="44.90" y2="333.25" stroke="#000" stroke-width="1.2"/>
<text x="42.099999999999994" y="336.65" font-size="9.7" text-anchor="end">0</text>
<line x1="55.25" y1="333.25" x2="55.25" y2="335.95" stroke="#000" stroke-width="1.2"/>
<line x1="71.25" y1="333.25" x2="71.25" y2="335.95" stroke="#000" stroke-width="1.2"/>
<line x1="87.10" y1="333.25" x2="87.10" y2="335.95" stroke="#000" stroke-width="1.2"/>
<line x1="103.40" y1="333.25" x2="103.40" y2="335.95" stroke="#000" stroke-width="1.2"/>
<text x="23.3" y="296" font-size="9.45" text-anchor="middle" transform="rotate(-90 23.3 296)">Islet number/section</text>
<line x1="55.25" y1="320.70" x2="55.25" y2="322.70" stroke="#000" stroke-width="0.9"/>
<line x1="52.95" y1="322.70" x2="57.55" y2="322.70" stroke="#000" stroke-width="1.0"/>
<line x1="71.25" y1="300.80" x2="71.25" y2="304.20" stroke="#000" stroke-width="0.9"/>
<line x1="68.95" y1="304.20" x2="73.55" y2="304.20" stroke="#000" stroke-width="1.0"/>
<line x1="87.10" y1="307.50" x2="87.10" y2="309.30" stroke="#000" stroke-width="0.9"/>
<line x1="84.80" y1="309.30" x2="89.40" y2="309.30" stroke="#000" stroke-width="1.0"/>
<line x1="103.40" y1="316.70" x2="103.40" y2="318.30" stroke="#000" stroke-width="0.9"/>
<line x1="101.10" y1="318.30" x2="105.70" y2="318.30" stroke="#000" stroke-width="1.0"/>
<line x1="55.25" y1="316.20" x2="55.25" y2="315.30" stroke="#000" stroke-width="0.9"/>
<line x1="52.95" y1="315.30" x2="57.55" y2="315.30" stroke="#000" stroke-width="1.0"/>
<line x1="71.25" y1="289.30" x2="71.25" y2="288.30" stroke="#000" stroke-width="0.9"/>
<line x1="68.95" y1="288.30" x2="73.55" y2="288.30" stroke="#000" stroke-width="1.0"/>
<line x1="87.10" y1="297.00" x2="87.10" y2="295.80" stroke="#000" stroke-width="0.9"/>
<line x1="84.80" y1="295.80" x2="89.40" y2="295.80" stroke="#000" stroke-width="1.0"/>
<line x1="103.40" y1="310.80" x2="103.40" y2="310.20" stroke="#000" stroke-width="0.9"/>
<line x1="101.10" y1="310.20" x2="105.70" y2="310.20" stroke="#000" stroke-width="1.0"/>
<circle cx="71.25" cy="307.40" r="0.9" fill="#000"/>
<circle cx="71.25" cy="286.30" r="0.9" fill="#000"/>
<circle cx="87.10" cy="312.40" r="0.9" fill="#000"/>
<circle cx="87.10" cy="293.60" r="0.9" fill="#000"/>
<rect x="49.5" y="265" width="8.5" height="6.3" fill="#a9cdf8"/>
<rect x="49.5" y="274.5" width="8.5" height="6.3" fill="#0f63e6"/>
<text x="61.8" y="270.4" font-size="7.4">Large islet</text>
<text x="61.8" y="280" font-size="7.4">Small islet</text>
<text x="58.35" y="342.85" font-size="9.45" text-anchor="end" transform="rotate(-45 58.35 342.85)">Ctrl</text>
<text x="74.35" y="342.85" font-size="9.45" text-anchor="end" transform="rotate(-45 74.35 342.85)">mAb</text>
<text x="90.2" y="342.85" font-size="9.45" text-anchor="end" transform="rotate(-45 90.2 342.85)">mAb + nAb</text>
<text x="106.5" y="342.85" font-size="9.45" text-anchor="end" transform="rotate(-45 106.5 342.85)">nAb</text>
<line x1="157.50" y1="264.40" x2="157.50" y2="333.85" stroke="#000" stroke-width="1.2"/>
<line x1="156.90" y1="333.25" x2="227.50" y2="333.25" stroke="#000" stroke-width="1.2"/>
<line x1="155.40" y1="265.00" x2="157.50" y2="265.00" stroke="#000" stroke-width="1.2"/>
<text x="154.70000000000002" y="268.4" font-size="9.7" text-anchor="end">0.8</text>
<line x1="155.40" y1="282.10" x2="157.50" y2="282.10" stroke="#000" stroke-width="1.2"/>
<text x="154.70000000000002" y="285.5" font-size="9.7" text-anchor="end">0.6</text>
<line x1="155.40" y1="299.10" x2="157.50" y2="299.10" stroke="#000" stroke-width="1.2"/>
<text x="154.70000000000002" y="302.5" font-size="9.7" text-anchor="end">0.4</text>
<line x1="155.40" y1="316.20" x2="157.50" y2="316.20" stroke="#000" stroke-width="1.2"/>
<text x="154.70000000000002" y="319.59999999999997" font-size="9.7" text-anchor="end">0.2</text>
<line x1="155.40" y1="333.25" x2="157.50" y2="333.25" stroke="#000" stroke-width="1.2"/>
<text x="154.70000000000002" y="336.65" font-size="9.7" text-anchor="end">0.0</text>
<line x1="168.10" y1="333.25" x2="168.10" y2="335.95" stroke="#000" stroke-width="1.2"/>
<line x1="184.40" y1="333.25" x2="184.40" y2="335.95" stroke="#000" stroke-width="1.2"/>
<line x1="200.60" y1="333.25" x2="200.60" y2="335.95" stroke="#000" stroke-width="1.2"/>
<line x1="216.60" y1="333.25" x2="216.60" y2="335.95" stroke="#000" stroke-width="1.2"/>
<text x="126.8" y="296.5" font-size="9.45" text-anchor="middle" transform="rotate(-90 126.8 296.5)">Islet area/</text>
<text x="138.5" y="297" font-size="9.45" text-anchor="middle" transform="rotate(-90 138.5 297)">pancreatic area (%)</text>
<path d="M162.50,333.25 V323.80 H173.70 V333.25" fill="none" stroke="#1212ff" stroke-width="1.4"/>
<line x1="168.10" y1="322.50" x2="168.10" y2="325.10" stroke="#1212ff" stroke-width="1.1"/>
<line x1="165.30" y1="322.50" x2="170.90" y2="322.50" stroke="#1212ff" stroke-width="1.1"/>
<line x1="165.30" y1="325.10" x2="170.90" y2="325.10" stroke="#1212ff" stroke-width="1.1"/>
<path d="M178.80,333.25 V302.60 H190.00 V333.25" fill="none" stroke="#1212ff" stroke-width="1.4"/>
<line x1="184.40" y1="300.60" x2="184.40" y2="304.60" stroke="#1212ff" stroke-width="1.1"/>
<line x1="181.60" y1="300.60" x2="187.20" y2="300.60" stroke="#1212ff" stroke-width="1.1"/>
<line x1="181.60" y1="304.60" x2="187.20" y2="304.60" stroke="#1212ff" stroke-width="1.1"/>
<path d="M195.00,333.25 V304.40 H206.20 V333.25" fill="none" stroke="#ff1a78" stroke-width="1.4"/>
<line x1="200.60" y1="299.40" x2="200.60" y2="309.40" stroke="#ff1a78" stroke-width="1.1"/>
<line x1="197.80" y1="299.40" x2="203.40" y2="299.40" stroke="#ff1a78" stroke-width="1.1"/>
<line x1="197.80" y1="309.40" x2="203.40" y2="309.40" stroke="#ff1a78" stroke-width="1.1"/>
<path d="M211.00,333.25 V317.00 H222.20 V333.25" fill="none" stroke="#ff1a78" stroke-width="1.4"/>
<line x1="216.60" y1="314.50" x2="216.60" y2="319.50" stroke="#ff1a78" stroke-width="1.1"/>
<line x1="213.80" y1="314.50" x2="219.40" y2="314.50" stroke="#ff1a78" stroke-width="1.1"/>
<line x1="213.80" y1="319.50" x2="219.40" y2="319.50" stroke="#ff1a78" stroke-width="1.1"/>
<circle cx="168.00" cy="314.50" r="1.3" fill="#fff" stroke="#1212ff" stroke-width="0.8"/>
<circle cx="166.00" cy="318.50" r="1.3" fill="#fff" stroke="#1212ff" stroke-width="0.8"/>
<circle cx="170.00" cy="319.50" r="1.3" fill="#fff" stroke="#1212ff" stroke-width="0.8"/>
<circle cx="164.50" cy="321.50" r="1.3" fill="#fff" stroke="#1212ff" stroke-width="0.8"/>
<circle cx="168.00" cy="321.80" r="1.3" fill="#fff" stroke="#1212ff" stroke-width="0.8"/>
<circle cx="171.50" cy="322.00" r="1.3" fill="#fff" stroke="#1212ff" stroke-width="0.8"/>
<circle cx="165.50" cy="324.50" r="1.3" fill="#fff" stroke="#1212ff" stroke-width="0.8"/>
<circle cx="169.00" cy="324.80" r="1.3" fill="#fff" stroke="#1212ff" stroke-width="0.8"/>
<circle cx="172.00" cy="325.00" r="1.3" fill="#fff" stroke="#1212ff" stroke-width="0.8"/>
<circle cx="166.00" cy="327.50" r="1.3" fill="#fff" stroke="#1212ff" stroke-width="0.8"/>
<circle cx="169.50" cy="327.80" r="1.3" fill="#fff" stroke="#1212ff" stroke-width="0.8"/>
<circle cx="167.00" cy="330.00" r="1.3" fill="#fff" stroke="#1212ff" stroke-width="0.8"/>
<circle cx="170.50" cy="329.50" r="1.3" fill="#fff" stroke="#1212ff" stroke-width="0.8"/>
<circle cx="184.50" cy="287.00" r="1.4" fill="#1212ff"/>
<circle cx="182.00" cy="296.30" r="1.4" fill="#1212ff"/>
<circle cx="187.00" cy="296.30" r="1.4" fill="#1212ff"/>
<circle cx="181.50" cy="301.50" r="1.4" fill="#1212ff"/>
<circle cx="184.50" cy="302.50" r="1.4" fill="#1212ff"/>
<circle cx="187.50" cy="301.80" r="1.4" fill="#1212ff"/>
<circle cx="182.50" cy="304.80" r="1.4" fill="#1212ff"/>
<circle cx="185.80" cy="305.00" r="1.4" fill="#1212ff"/>
<circle cx="183.00" cy="307.50" r="1.4" fill="#1212ff"/>
<circle cx="186.50" cy="307.80" r="1.4" fill="#1212ff"/>
<circle cx="184.50" cy="310.00" r="1.4" fill="#1212ff"/>
<polygon points="200.70,275.18 199.24,277.94 202.16,277.94" fill="#ff1a78"/>
<polygon points="197.60,284.68 196.14,287.44 199.06,287.44" fill="#ff1a78"/>
<polygon points="200.60,285.18 199.14,287.94 202.06,287.94" fill="#ff1a78"/>
<polygon points="203.60,284.18 202.14,286.94 205.06,286.94" fill="#ff1a78"/>
<polygon points="200.00,304.68 198.54,307.44 201.46,307.44" fill="#ff1a78"/>
<polygon points="198.00,312.18 196.54,314.94 199.46,314.94" fill="#ff1a78"/>
<polygon points="203.00,312.18 201.54,314.94 204.46,314.94" fill="#ff1a78"/>
<polygon points="198.60,320.38 197.14,323.14 200.06,323.14" fill="#ff1a78"/>
<polygon points="201.80,319.38 200.34,322.14 203.26,322.14" fill="#ff1a78"/>
<polygon points="214.30,300.88 212.84,303.64 215.76,303.64" fill="#fff" stroke="#ff1a78" stroke-width="0.8"/>
<polygon points="218.80,299.68 217.34,302.44 220.26,302.44" fill="#fff" stroke="#ff1a78" stroke-width="0.8"/>
<polygon points="216.50,309.68 215.04,312.44 217.96,312.44" fill="#fff" stroke="#ff1a78" stroke-width="0.8"/>
<polygon points="214.00,314.38 212.54,317.14 215.46,317.14" fill="#fff" stroke="#ff1a78" stroke-width="0.8"/>
<polygon points="218.00,313.88 216.54,316.64 219.46,316.64" fill="#fff" stroke="#ff1a78" stroke-width="0.8"/>
<polygon points="220.00,316.38 218.54,319.14 221.46,319.14" fill="#fff" stroke="#ff1a78" stroke-width="0.8"/>
<polygon points="213.50,317.88 212.04,320.64 214.96,320.64" fill="#fff" stroke="#ff1a78" stroke-width="0.8"/>
<polygon points="216.50,318.38 215.04,321.14 217.96,321.14" fill="#fff" stroke="#ff1a78" stroke-width="0.8"/>
<polygon points="219.00,320.18 217.54,322.94 220.46,322.94" fill="#fff" stroke="#ff1a78" stroke-width="0.8"/>
<polygon points="215.00,321.68 213.54,324.44 216.46,324.44" fill="#fff" stroke="#ff1a78" stroke-width="0.8"/>
<polygon points="217.50,323.38 216.04,326.14 218.96,326.14" fill="#fff" stroke="#ff1a78" stroke-width="0.8"/>
<polygon points="216.00,326.38 214.54,329.14 217.46,329.14" fill="#fff" stroke="#ff1a78" stroke-width="0.8"/>
<text x="184.5" y="285" font-size="8.2" text-anchor="middle" font-weight="bold">*</text>
<text x="200.8" y="273.5" font-size="8.2" text-anchor="middle" font-weight="bold">*</text>
<text x="171.2" y="342.85" font-size="9.45" text-anchor="end" transform="rotate(-45 171.2 342.85)">Ctrl</text>
<text x="187.5" y="342.85" font-size="9.45" text-anchor="end" transform="rotate(-45 187.5 342.85)">mAb</text>
<text x="203.7" y="342.85" font-size="9.45" text-anchor="end" transform="rotate(-45 203.7 342.85)">mAb + nAb</text>
<text x="219.7" y="342.85" font-size="9.45" text-anchor="end" transform="rotate(-45 219.7 342.85)">nAb</text>
<line x1="295.00" y1="264.40" x2="295.00" y2="333.85" stroke="#000" stroke-width="1.2"/>
<line x1="294.40" y1="333.25" x2="364.50" y2="333.25" stroke="#000" stroke-width="1.2"/>
<line x1="292.90" y1="274.50" x2="295.00" y2="274.50" stroke="#000" stroke-width="1.2"/>
<text x="292.2" y="277.9" font-size="9.7" text-anchor="end">0.3</text>
<line x1="292.90" y1="294.10" x2="295.00" y2="294.10" stroke="#000" stroke-width="1.2"/>
<text x="292.2" y="297.5" font-size="9.7" text-anchor="end">0.2</text>
<line x1="292.90" y1="313.70" x2="295.00" y2="313.70" stroke="#000" stroke-width="1.2"/>
<text x="292.2" y="317.09999999999997" font-size="9.7" text-anchor="end">0.1</text>
<line x1="292.90" y1="333.25" x2="295.00" y2="333.25" stroke="#000" stroke-width="1.2"/>
<text x="292.2" y="336.65" font-size="9.7" text-anchor="end">0.0</text>
<line x1="305.90" y1="333.25" x2="305.90" y2="335.95" stroke="#000" stroke-width="1.2"/>
<line x1="321.60" y1="333.25" x2="321.60" y2="335.95" stroke="#000" stroke-width="1.2"/>
<line x1="337.90" y1="333.25" x2="337.90" y2="335.95" stroke="#000" stroke-width="1.2"/>
<line x1="353.60" y1="333.25" x2="353.60" y2="335.95" stroke="#000" stroke-width="1.2"/>
<text x="264.8" y="297" font-size="9.45" text-anchor="middle" transform="rotate(-90 264.8 297)">α-cell area/</text>
<text x="275.8" y="296.5" font-size="9.45" text-anchor="middle" transform="rotate(-90 275.8 296.5)">pancreatic area (%)</text>
<line x1="304.30" y1="267.00" x2="356.30" y2="267.00" stroke="#000" stroke-width="1.0"/>
<text x="329.5" y="264.8" font-size="7.4" text-anchor="middle"><tspan font-style="italic">P</tspan> = 0.075</text>
<line x1="305.90" y1="328.00" x2="305.90" y2="331.20" stroke="#1212ff" stroke-width="1.1"/>
<line x1="301.40" y1="329.60" x2="310.40" y2="329.60" stroke="#1212ff" stroke-width="1.1"/>
<line x1="303.90" y1="328.00" x2="307.90" y2="328.00" stroke="#1212ff" stroke-width="1.1"/>
<line x1="303.90" y1="331.20" x2="307.90" y2="331.20" stroke="#1212ff" stroke-width="1.1"/>
<circle cx="301.50" cy="326.20" r="1.3" fill="#fff" stroke="#1212ff" stroke-width="0.8"/>
<circle cx="310.30" cy="327.50" r="1.3" fill="#fff" stroke="#1212ff" stroke-width="0.8"/>
<circle cx="302.50" cy="329.30" r="1.3" fill="#fff" stroke="#1212ff" stroke-width="0.8"/>
<circle cx="304.30" cy="330.20" r="1.3" fill="#fff" stroke="#1212ff" stroke-width="0.8"/>
<circle cx="306.00" cy="329.60" r="1.3" fill="#fff" stroke="#1212ff" stroke-width="0.8"/>
<circle cx="307.80" cy="330.30" r="1.3" fill="#fff" stroke="#1212ff" stroke-width="0.8"/>
<circle cx="309.30" cy="329.50" r="1.3" fill="#fff" stroke="#1212ff" stroke-width="0.8"/>
<circle cx="303.40" cy="331.00" r="1.3" fill="#fff" stroke="#1212ff" stroke-width="0.8"/>
<circle cx="305.20" cy="331.30" r="1.3" fill="#fff" stroke="#1212ff" stroke-width="0.8"/>
<circle cx="307.00" cy="331.20" r="1.3" fill="#fff" stroke="#1212ff" stroke-width="0.8"/>
<circle cx="308.60" cy="331.00" r="1.3" fill="#fff" stroke="#1212ff" stroke-width="0.8"/>
<circle cx="305.80" cy="332.30" r="1.3" fill="#fff" stroke="#1212ff" stroke-width="0.8"/>
<line x1="321.60" y1="298.00" x2="321.60" y2="317.00" stroke="#1212ff" stroke-width="1.1"/>
<line x1="317.10" y1="310.00" x2="326.10" y2="310.00" stroke="#1212ff" stroke-width="1.1"/>
<line x1="319.10" y1="298.00" x2="324.10" y2="298.00" stroke="#1212ff" stroke-width="1.1"/>
<line x1="319.10" y1="317.00" x2="324.10" y2="317.00" stroke="#1212ff" stroke-width="1.1"/>
<circle cx="321.30" cy="283.80" r="1.4" fill="#1212ff"/>
<circle cx="321.30" cy="287.50" r="1.4" fill="#1212ff"/>
<circle cx="319.50" cy="298.00" r="1.4" fill="#1212ff"/>
<circle cx="323.50" cy="298.50" r="1.4" fill="#1212ff"/>
<circle cx="321.50" cy="301.50" r="1.4" fill="#1212ff"/>
<circle cx="320.00" cy="306.00" r="1.4" fill="#1212ff"/>
<circle cx="323.50" cy="307.00" r="1.4" fill="#1212ff"/>
<circle cx="319.00" cy="311.00" r="1.4" fill="#1212ff"/>
<circle cx="322.30" cy="311.50" r="1.4" fill="#1212ff"/>
<circle cx="324.80" cy="312.00" r="1.4" fill="#1212ff"/>
<circle cx="320.00" cy="314.00" r="1.4" fill="#1212ff"/>
<circle cx="323.00" cy="315.00" r="1.4" fill="#1212ff"/>
<circle cx="321.50" cy="317.30" r="1.4" fill="#1212ff"/>
<line x1="337.90" y1="291.30" x2="337.90" y2="313.80" stroke="#ff1a78" stroke-width="1.1"/>
<line x1="333.40" y1="304.30" x2="342.40" y2="304.30" stroke="#ff1a78" stroke-width="1.1"/>
<line x1="335.40" y1="291.30" x2="340.40" y2="291.30" stroke="#ff1a78" stroke-width="1.1"/>
<line x1="335.40" y1="313.80" x2="340.40" y2="313.80" stroke="#ff1a78" stroke-width="1.1"/>
<polygon points="337.60,273.88 336.14,276.64 339.06,276.64" fill="#ff1a78"/>
<polygon points="337.60,278.68 336.14,281.44 339.06,281.44" fill="#ff1a78"/>
<polygon points="336.50,289.68 335.04,292.44 337.96,292.44" fill="#ff1a78"/>
<polygon points="339.00,297.18 337.54,299.94 340.46,299.94" fill="#ff1a78"/>
<polygon points="337.00,302.18 335.54,304.94 338.46,304.94" fill="#ff1a78"/>
<polygon points="338.50,310.88 337.04,313.64 339.96,313.64" fill="#ff1a78"/>
<polygon points="336.00,313.38 334.54,316.14 337.46,316.14" fill="#ff1a78"/>
<polygon points="335.50,317.88 334.04,320.64 336.96,320.64" fill="#ff1a78"/>
<polygon points="340.30,317.68 338.84,320.44 341.76,320.44" fill="#ff1a78"/>
<line x1="353.60" y1="321.50" x2="353.60" y2="328.50" stroke="#ff1a78" stroke-width="1.1"/>
<line x1="349.10" y1="325.00" x2="358.10" y2="325.00" stroke="#ff1a78" stroke-width="1.1"/>
<line x1="351.60" y1="321.50" x2="355.60" y2="321.50" stroke="#ff1a78" stroke-width="1.1"/>
<line x1="351.60" y1="328.50" x2="355.60" y2="328.50" stroke="#ff1a78" stroke-width="1.1"/>
<polygon points="353.50,315.88 352.04,318.64 354.96,318.64" fill="#fff" stroke="#ff1a78" stroke-width="0.8"/>
<polygon points="356.00,316.38 354.54,319.14 357.46,319.14" fill="#fff" stroke="#ff1a78" stroke-width="0.8"/>
<polygon points="351.50,319.38 350.04,322.14 352.96,322.14" fill="#fff" stroke="#ff1a78" stroke-width="0.8"/>
<polygon points="354.50,319.88 353.04,322.64 355.96,322.64" fill="#fff" stroke="#ff1a78" stroke-width="0.8"/>
<polygon points="357.00,320.38 355.54,323.14 358.46,323.14" fill="#fff" stroke="#ff1a78" stroke-width="0.8"/>
<polygon points="352.50,322.38 351.04,325.14 353.96,325.14" fill="#fff" stroke="#ff1a78" stroke-width="0.8"/>
<polygon points="355.50,322.88 354.04,325.64 356.96,325.64" fill="#fff" stroke="#ff1a78" stroke-width="0.8"/>
<polygon points="351.00,324.38 349.54,327.14 352.46,327.14" fill="#fff" stroke="#ff1a78" stroke-width="0.8"/>
<polygon points="354.00,325.38 352.54,328.14 355.46,328.14" fill="#fff" stroke="#ff1a78" stroke-width="0.8"/>
<polygon points="356.50,325.88 355.04,328.64 357.96,328.64" fill="#fff" stroke="#ff1a78" stroke-width="0.8"/>
<polygon points="353.00,327.88 351.54,330.64 354.46,330.64" fill="#fff" stroke="#ff1a78" stroke-width="0.8"/>
<polygon points="355.00,328.38 353.54,331.14 356.46,331.14" fill="#fff" stroke="#ff1a78" stroke-width="0.8"/>
<text x="322.6" y="281" font-size="5.5" text-anchor="middle" font-weight="bold">**</text>
<text x="337.6" y="274" font-size="8.2" text-anchor="middle" font-weight="bold">*</text>
<text x="309.0" y="342.85" font-size="9.45" text-anchor="end" transform="rotate(-45 309.0 342.85)">Ctrl</text>
<text x="324.7" y="342.85" font-size="9.45" text-anchor="end" transform="rotate(-45 324.7 342.85)">mAb</text>
<text x="341.0" y="342.85" font-size="9.45" text-anchor="end" transform="rotate(-45 341.0 342.85)">mAb + nAb</text>
<text x="356.7" y="342.85" font-size="9.45" text-anchor="end" transform="rotate(-45 356.7 342.85)">nAb</text>
<line x1="424.50" y1="264.40" x2="424.50" y2="333.85" stroke="#000" stroke-width="1.2"/>
<line x1="423.90" y1="333.25" x2="494.00" y2="333.25" stroke="#000" stroke-width="1.2"/>
<line x1="422.40" y1="265.00" x2="424.50" y2="265.00" stroke="#000" stroke-width="1.2"/>
<text x="421.7" y="268.4" font-size="9.7" text-anchor="end">0.20</text>
<line x1="422.40" y1="282.10" x2="424.50" y2="282.10" stroke="#000" stroke-width="1.2"/>
<text x="421.7" y="285.5" font-size="9.7" text-anchor="end">0.15</text>
<line x1="422.40" y1="299.10" x2="424.50" y2="299.10" stroke="#000" stroke-width="1.2"/>
<text x="421.7" y="302.5" font-size="9.7" text-anchor="end">0.10</text>
<line x1="422.40" y1="316.20" x2="424.50" y2="316.20" stroke="#000" stroke-width="1.2"/>
<text x="421.7" y="319.59999999999997" font-size="9.7" text-anchor="end">0.05</text>
<line x1="422.40" y1="333.25" x2="424.50" y2="333.25" stroke="#000" stroke-width="1.2"/>
<text x="421.7" y="336.65" font-size="9.7" text-anchor="end">0.00</text>
<line x1="435.40" y1="333.25" x2="435.40" y2="335.95" stroke="#000" stroke-width="1.2"/>
<line x1="451.10" y1="333.25" x2="451.10" y2="335.95" stroke="#000" stroke-width="1.2"/>
<line x1="467.40" y1="333.25" x2="467.40" y2="335.95" stroke="#000" stroke-width="1.2"/>
<line x1="483.10" y1="333.25" x2="483.10" y2="335.95" stroke="#000" stroke-width="1.2"/>
<text x="388.7" y="297" font-size="9.45" text-anchor="middle" transform="rotate(-90 388.7 297)">β-cell area/</text>
<text x="399.7" y="296.5" font-size="9.45" text-anchor="middle" transform="rotate(-90 399.7 296.5)">pancreatic area (%)</text>
<line x1="456.30" y1="291.80" x2="507.50" y2="291.80" stroke="#000" stroke-width="1.1" stroke-dasharray="3 1.8"/>
<line x1="471.30" y1="301.30" x2="500.00" y2="301.30" stroke="#000" stroke-width="1.1" stroke-dasharray="3 1.8"/>
<line x1="438.80" y1="320.50" x2="507.50" y2="320.50" stroke="#000" stroke-width="1.1" stroke-dasharray="3 1.8"/>
<line x1="435.40" y1="311.30" x2="435.40" y2="326.50" stroke="#1212ff" stroke-width="1.1"/>
<line x1="430.90" y1="320.50" x2="439.90" y2="320.50" stroke="#1212ff" stroke-width="1.1"/>
<line x1="432.90" y1="311.30" x2="437.90" y2="311.30" stroke="#1212ff" stroke-width="1.1"/>
<line x1="432.90" y1="326.50" x2="437.90" y2="326.50" stroke="#1212ff" stroke-width="1.1"/>
<circle cx="432.50" cy="306.30" r="1.3" fill="#fff" stroke="#1212ff" stroke-width="0.8"/>
<circle cx="435.30" cy="308.00" r="1.3" fill="#fff" stroke="#1212ff" stroke-width="0.8"/>
<circle cx="438.20" cy="308.00" r="1.3" fill="#fff" stroke="#1212ff" stroke-width="0.8"/>
<circle cx="433.00" cy="319.00" r="1.3" fill="#fff" stroke="#1212ff" stroke-width="0.8"/>
<circle cx="436.00" cy="318.50" r="1.3" fill="#fff" stroke="#1212ff" stroke-width="0.8"/>
<circle cx="438.50" cy="319.50" r="1.3" fill="#fff" stroke="#1212ff" stroke-width="0.8"/>
<circle cx="432.00" cy="322.50" r="1.3" fill="#fff" stroke="#1212ff" stroke-width="0.8"/>
<circle cx="435.00" cy="322.00" r="1.3" fill="#fff" stroke="#1212ff" stroke-width="0.8"/>
<circle cx="437.80" cy="323.00" r="1.3" fill="#fff" stroke="#1212ff" stroke-width="0.8"/>
<circle cx="433.50" cy="325.50" r="1.3" fill="#fff" stroke="#1212ff" stroke-width="0.8"/>
<circle cx="436.50" cy="326.00" r="1.3" fill="#fff" stroke="#1212ff" stroke-width="0.8"/>
<circle cx="435.00" cy="328.00" r="1.3" fill="#fff" stroke="#1212ff" stroke-width="0.8"/>
<line x1="451.10" y1="281.30" x2="451.10" y2="299.50" stroke="#1212ff" stroke-width="1.1"/>
<line x1="446.60" y1="291.80" x2="455.60" y2="291.80" stroke="#1212ff" stroke-width="1.1"/>
<line x1="448.60" y1="281.30" x2="453.60" y2="281.30" stroke="#1212ff" stroke-width="1.1"/>
<line x1="448.60" y1="299.50" x2="453.60" y2="299.50" stroke="#1212ff" stroke-width="1.1"/>
<circle cx="449.50" cy="266.30" r="1.4" fill="#1212ff"/>
<circle cx="453.80" cy="268.00" r="1.4" fill="#1212ff"/>
<circle cx="451.00" cy="281.30" r="1.4" fill="#1212ff"/>
<circle cx="449.00" cy="286.00" r="1.4" fill="#1212ff"/>
<circle cx="453.00" cy="286.50" r="1.4" fill="#1212ff"/>
<circle cx="451.00" cy="289.50" r="1.4" fill="#1212ff"/>
<circle cx="448.80" cy="293.00" r="1.4" fill="#1212ff"/>
<circle cx="452.80" cy="293.50" r="1.4" fill="#1212ff"/>
<circle cx="450.50" cy="296.50" r="1.4" fill="#1212ff"/>
<circle cx="453.50" cy="298.00" r="1.4" fill="#1212ff"/>
<circle cx="449.50" cy="300.00" r="1.4" fill="#1212ff"/>
<circle cx="451.50" cy="303.50" r="1.4" fill="#1212ff"/>
<line x1="467.40" y1="297.50" x2="467.40" y2="312.50" stroke="#ff1a78" stroke-width="1.1"/>
<line x1="462.90" y1="302.50" x2="471.90" y2="302.50" stroke="#ff1a78" stroke-width="1.1"/>
<line x1="464.90" y1="297.50" x2="469.90" y2="297.50" stroke="#ff1a78" stroke-width="1.1"/>
<line x1="464.90" y1="312.50" x2="469.90" y2="312.50" stroke="#ff1a78" stroke-width="1.1"/>
<polygon points="467.50,288.38 466.04,291.14 468.96,291.14" fill="#ff1a78"/>
<polygon points="465.00,297.38 463.54,300.14 466.46,300.14" fill="#ff1a78"/>
<polygon points="469.50,297.88 468.04,300.64 470.96,300.64" fill="#ff1a78"/>
<polygon points="467.00,301.38 465.54,304.14 468.46,304.14" fill="#ff1a78"/>
<polygon points="464.80,304.88 463.34,307.64 466.26,307.64" fill="#ff1a78"/>
<polygon points="469.80,304.38 468.34,307.14 471.26,307.14" fill="#ff1a78"/>
<polygon points="467.50,307.88 466.04,310.64 468.96,310.64" fill="#ff1a78"/>
<polygon points="465.50,311.38 464.04,314.14 466.96,314.14" fill="#ff1a78"/>
<polygon points="469.00,311.88 467.54,314.64 470.46,314.64" fill="#ff1a78"/>
<polygon points="467.30,317.88 465.84,320.64 468.76,320.64" fill="#ff1a78"/>
<line x1="483.10" y1="315.50" x2="483.10" y2="324.00" stroke="#ff1a78" stroke-width="1.1"/>
<line x1="478.60" y1="319.50" x2="487.60" y2="319.50" stroke="#ff1a78" stroke-width="1.1"/>
<line x1="480.60" y1="315.50" x2="485.60" y2="315.50" stroke="#ff1a78" stroke-width="1.1"/>
<line x1="480.60" y1="324.00" x2="485.60" y2="324.00" stroke="#ff1a78" stroke-width="1.1"/>
<polygon points="483.00,310.88 481.54,313.64 484.46,313.64" fill="#fff" stroke="#ff1a78" stroke-width="0.8"/>
<polygon points="481.00,314.38 479.54,317.14 482.46,317.14" fill="#fff" stroke="#ff1a78" stroke-width="0.8"/>
<polygon points="485.30,314.88 483.84,317.64 486.76,317.64" fill="#fff" stroke="#ff1a78" stroke-width="0.8"/>
<polygon points="483.00,316.88 481.54,319.64 484.46,319.64" fill="#fff" stroke="#ff1a78" stroke-width="0.8"/>
<polygon points="480.50,318.88 479.04,321.64 481.96,321.64" fill="#fff" stroke="#ff1a78" stroke-width="0.8"/>
<polygon points="485.50,319.38 484.04,322.14 486.96,322.14" fill="#fff" stroke="#ff1a78" stroke-width="0.8"/>
<polygon points="482.00,321.88 480.54,324.64 483.46,324.64" fill="#fff" stroke="#ff1a78" stroke-width="0.8"/>
<polygon points="484.50,322.88 483.04,325.64 485.96,325.64" fill="#fff" stroke="#ff1a78" stroke-width="0.8"/>
<polygon points="481.50,325.38 480.04,328.14 482.96,328.14" fill="#fff" stroke="#ff1a78" stroke-width="0.8"/>
<polygon points="485.00,325.88 483.54,328.64 486.46,328.64" fill="#fff" stroke="#ff1a78" stroke-width="0.8"/>
<polygon points="483.20,285.88 481.74,288.64 484.66,288.64" fill="#fff" stroke="#ff1a78" stroke-width="0.8"/>
<polygon points="483.20,298.68 481.74,301.44 484.66,301.44" fill="#fff" stroke="#ff1a78" stroke-width="0.8"/>
<text x="450.8" y="265.5" font-size="8.2" text-anchor="middle" font-weight="bold">*</text>
<text x="467.5" y="288.6" font-size="7.2" text-anchor="middle" font-weight="bold">*#</text>
<line x1="478.00" y1="293.80" x2="478.00" y2="299.30" stroke="#ff1a78" stroke-width="1.2"/>
<polygon points="478,292.8 476.1,296.0 479.9,296.0" fill="#ff1a78"/>
<polygon points="478,300.3 476.1,297.1 479.9,297.1" fill="#ff1a78"/>
<line x1="503.80" y1="293.80" x2="503.80" y2="318.50" stroke="#1212ff" stroke-width="1.2"/>
<polygon points="503.8,292.8 501.90000000000003,296.0 505.7,296.0" fill="#1212ff"/>
<polygon points="503.8,319.5 501.90000000000003,316.3 505.7,316.3" fill="#1212ff"/>
<text x="493" y="296" font-size="5" text-anchor="middle" font-weight="bold" fill="#ff1a78">nAb</text>
<text x="493" y="301" font-size="5" text-anchor="middle" font-weight="bold" fill="#ff1a78">35%</text>
<text x="506.2" y="305.8" font-size="5.9" font-weight="bold" fill="#1212ff">mAb</text>
<text x="506.2" y="312.2" font-size="5.9" font-weight="bold" fill="#1212ff">100%</text>
<text x="438.5" y="342.85" font-size="9.45" text-anchor="end" transform="rotate(-45 438.5 342.85)">Ctrl</text>
<text x="454.2" y="342.85" font-size="9.45" text-anchor="end" transform="rotate(-45 454.2 342.85)">mAb</text>
<text x="470.5" y="342.85" font-size="9.45" text-anchor="end" transform="rotate(-45 470.5 342.85)">mAb + nAb</text>
<text x="486.2" y="342.85" font-size="9.45" text-anchor="end" transform="rotate(-45 486.2 342.85)">nAb</text>
<text x="83.8" y="388.4" font-size="8.4" text-anchor="middle">Ctrl</text>
<text x="203.8" y="388.4" font-size="8.4" text-anchor="middle">mAb</text>
<text x="321.3" y="388.4" font-size="8.4" text-anchor="middle">mAb + nAb</text>
<text x="432.8" y="388.4" font-size="8.4" text-anchor="middle">nAb</text>
<clipPath id="cp0"><rect x="29.3" y="390.8" width="114.8" height="105.69999999999999"/></clipPath>
<g clip-path="url(#cp0)">
<rect x="29.3" y="390.8" width="114.8" height="105.69999999999999" fill="#000"/>
<path d="M40.1 422.9l-0.2 0.7M91.1 484.9l-0.0 0.0M100.8 478.7l-0.2 0.5M102.8 443.6l-0.2 0.7M81.8 420.2l-0.2 0.0M88.2 393.9l0.1 1.3M37.0 392.6l-0.3 0.3M53.8 488.8l-0.9 0.9M140.0 470.9l0.3 1.1M44.8 465.5l1.2 0.5M124.6 431.6l0.0 0.3M63.0 409.3l-0.7 0.4M43.8 441.5l-1.1 0.2M133.8 464.9l-0.5 0.4M39.0 440.8l-0.1 0.0M129.3 434.9l-0.8 0.4M72.8 392.1l0.7 0.7M64.9 400.1l0.1 0.7M44.7 427.9l-0.2 0.1M120.8 494.8l0.5 0.6M104.5 476.1l0.7 0.2M83.8 409.7l-0.5 0.4M116.0 447.3l0.8 0.7M40.7 482.4l-0.9 0.4M31.1 444.1l-0.2 1.2M117.5 442.3l-0.2 0.1M137.9 442.9l0.1 0.1M95.1 412.0l0.4 0.1M91.8 495.4l-1.0 0.4M85.7 463.8l0.2 0.1M41.8 435.1l0.4 1.0M135.5 404.5l-0.4 1.1M33.4 407.2l1.3 0.3M70.1 456.3l0.7 0.5M54.3 496.3l-0.9 0.4M44.7 416.1l0.7 0.5M52.3 457.2l0.0 0.0M37.4 402.0l0.2 0.4M98.7 400.8l-0.1 0.3M109.8 471.3l-0.3 0.9M58.8 433.2l0.1 0.1M140.3 450.8l-0.3 0.5M105.5 469.8l0.1 0.1M141.0 416.6l-0.8 0.1M113.6 416.0l0.1 0.2M141.8 487.6l-0.9 0.0M91.5 398.5l-0.3 0.3M86.1 404.9l0.3 0.4M39.0 478.4l0.7 0.4M122.5 414.2l0.2 1.0M91.8 450.8l0.2 0.6M36.7 448.6l-0.0 1.2M67.7 419.7l0.4 0.8M127.3 476.0l0.6 0.5M60.3 466.5l0.7 0.9M64.4 440.2l0.7 0.9M70.6 463.4l-0.3 0.5M142.7 436.7l-0.5 0.1M129.5 418.9l-0.5 0.6M56.7 451.0l0.0 0.1M124.7 410.4l0.1 0.4M99.9 458.5l0.2 1.2M47.5 434.3l0.5 0.7M63.7 425.1l-0.2 0.3M127.9 464.0l0.0 0.2M48.7 481.9l-0.3 0.1M132.3 495.2l0.1 0.4M52.8 431.3l-0.9 0.6M93.4 428.2l-0.2 0.7M127.2 423.4l1.1 0.4M36.6 398.1l0.5 0.1" fill="none" stroke="#0808ff" stroke-width="2.2" stroke-linecap="round"/>
<path d="M135.4 440.0l0.4 0.9M50.5 444.9l-0.2 0.4M104.4 455.9l-1.2 0.4M36.1 410.9l0.8 0.1M79.9 479.8l0.0 0.5M110.6 424.1l0.0 0.4M36.2 475.0l-0.4 0.7M107.6 410.7l-1.3 0.1M77.6 413.3l-0.5 0.0M128.5 493.8l-0.7 0.4M143.9 392.9l-0.8 1.0M103.0 401.4l0.6 0.1M39.6 452.4l0.3 0.8M43.9 452.9l1.0 0.8M128.8 410.1l0.4 0.3M65.0 414.9l0.5 0.2M112.6 407.6l-0.1 0.1M41.2 394.9l0.7 0.4M56.7 465.3l-0.4 0.9M61.5 487.8l0.7 0.8M80.5 397.2l-0.7 0.8M61.7 446.9l0.6 0.2M141.9 460.2l1.1 0.1M92.0 468.7l-1.1 0.2M38.5 458.4l0.5 0.0M58.7 392.0l-0.1 0.7M131.7 425.4l1.0 0.4M52.1 436.3l0.4 0.5M96.2 424.3l0.7 0.3M110.9 491.2l0.1 0.0M66.1 478.4l-0.0 0.4M129.5 395.2l-0.2 0.2M120.2 392.8l0.0 0.1M117.6 419.0l0.5 0.4M91.3 490.9l-0.1 0.6M74.5 474.5l-0.1 0.1M82.5 459.6l-0.2 0.1M116.3 437.2l-0.7 0.1M124.7 450.2l0.2 0.8M89.3 480.0l-1.1 0.5M65.1 431.1l0.0 0.0M64.3 405.7l0.9 0.5M60.2 440.8l-0.6 0.7M124.0 455.9l0.6 0.3M128.5 447.2l0.1 0.0M46.1 410.3l0.7 1.0M49.1 407.5l-0.5 1.0M30.8 464.9l0.5 0.1M114.2 433.6l0.3 0.1M42.6 469.3l1.1 0.4M60.6 492.4l0.3 0.5M68.1 460.5l-0.5 1.0M90.5 432.0l-0.7 0.1M42.5 402.2l-0.0 1.2M30.5 418.1l0.1 0.4M62.1 460.0l-0.2 0.2M137.7 398.6l0.2 0.5M45.9 492.3l0.0 0.5M101.0 439.0l0.1 0.6M128.2 428.5l1.1 0.2M106.0 439.0l0.7 0.1M60.8 455.3l-0.1 0.5M101.4 391.8l0.1 0.1M121.4 438.1l0.2 0.4M74.1 406.7l0.0 0.3M62.7 471.0l-0.4 0.4M94.1 442.0l0.5 0.0M123.8 391.8l-0.0 0.0M112.5 464.2l-0.4 1.2M79.6 475.7l0.3 0.7M81.9 414.2l0.2 0.4M120.8 447.9l-0.3 0.7M49.6 471.0l0.4 0.5M132.5 399.8l-0.0 1.0M68.1 493.1l0.1 0.0M83.4 468.0l0.2 0.2M121.2 423.8l-0.4 0.3M50.5 413.8l-0.5 0.2M141.3 474.8l0.6 0.7M119.7 396.9l1.2 0.3M117.9 406.1l-0.4 0.2M29.5 477.6l0.6 0.9M38.8 469.9l-0.7 0.5M31.5 410.6l1.0 0.2M111.9 486.1l0.8 0.1M100.7 404.7l-0.2 1.2M39.6 414.7l-0.0 0.0M142.4 446.8l-1.0 0.2M119.8 478.0l-0.0 0.0M136.5 496.3l-0.4 0.4M94.4 393.6l-0.7 1.1M113.3 454.0l-0.1 0.0M57.4 480.1l-0.4 0.4M90.2 405.7l-0.3 0.3M132.5 392.5l0.1 0.6M55.6 422.6l0.4 0.2M98.1 420.9l-0.1 0.1M48.2 495.3l1.0 0.4M106.0 448.7l-0.4 0.6M56.4 442.5l0.1 0.1M42.4 409.6l0.7 1.0M34.2 424.0l-0.2 1.2M29.7 434.1l0.4 0.3M77.3 399.9l-0.1 1.1M71.1 426.4l1.1 0.4M69.2 410.2l0.0 0.0M34.7 420.0l0.1 0.5M81.2 430.6l-0.6 1.0M30.6 471.3l0.0 0.9M105.1 397.9l0.3 1.0M139.0 482.6l0.9 0.3M136.1 420.9l0.7 0.4M52.8 450.4l0.4 0.3M94.4 435.3l0.4 0.2M30.9 452.7l-0.2 0.6M60.1 419.5l0.3 0.7M101.8 432.7l-0.4 0.2M92.0 475.4l-0.2 0.6M70.5 470.5l-0.4 0.0M102.5 428.2l-0.2 0.2M78.7 492.6l0.6 0.7M86.6 473.3l-0.1 0.3M74.1 488.1l1.1 0.2" fill="none" stroke="#0808ff" stroke-width="2.8" stroke-linecap="round"/>
<path d="M98.1 473.0l0.3 0.9M52.1 462.1l0.2 0.8M53.8 418.1l-0.2 1.2M120.4 487.5l-0.6 0.2M49.9 419.6l0.0 0.3M92.4 459.8l-0.1 0.1M141.9 494.1l0.6 0.9M121.1 409.1l0.9 0.1M136.7 488.0l-0.2 0.7M56.0 469.1l0.1 0.2M70.4 477.6l-1.0 0.2M82.3 471.6l-0.1 0.1M74.2 435.9l-0.2 0.2M132.2 483.8l0.6 0.4M53.0 410.3l-0.1 0.1M102.7 462.9l-0.6 0.5M87.0 423.4l-1.1 0.4M104.3 495.4l-0.3 0.4M130.5 413.9l-0.9 0.1M120.7 468.9l0.7 0.9M134.3 434.2l-0.2 0.3M91.3 422.3l0.0 0.0M41.5 430.7l-0.0 0.3M93.6 418.7l0.2 0.3M124.0 421.3l0.6 0.3M89.0 418.7l0.2 0.3M56.4 398.0l0.4 0.5M51.7 479.4l-0.2 0.1M103.9 423.2l-1.0 0.5M36.3 434.2l-0.2 0.7M99.9 491.7l-0.5 0.5M101.0 450.1l-0.6 1.0M63.0 434.6l-0.3 0.2M106.2 391.2l1.2 0.2M96.9 452.0l0.4 0.9M35.6 456.0l0.4 0.4" fill="none" stroke="#0808ff" stroke-width="3.4" stroke-linecap="round"/>
<path d="M97.7 432.7l0.4 0.9M75.3 480.3l-0.6 0.1M83.3 494.4l-0.1 0.4M77.4 431.4l0.9 0.8M31.1 429.8l1.2 0.4M108.2 431.8l-0.0 0.1M77.6 486.4l-0.1 0.0M115.3 398.1l-0.0 0.2M39.9 405.4l-0.4 0.0M97.0 488.4l-0.1 0.0M31.7 458.0l-0.0 0.1M45.0 398.5l0.7 0.1M128.4 451.3l-0.9 0.0M130.3 467.8l-0.9 0.4M86.4 455.8l-0.0 0.1M68.6 489.1l-0.0 0.2M123.6 402.7l-0.0 0.5M60.9 413.4l0.0 0.3M73.2 445.8l-0.3 0.4M39.3 489.4l0.0 0.1M101.1 487.0l0.0 0.7M54.4 482.5l-0.7 0.1M108.1 487.6l0.4 0.2M46.4 445.4l0.5 0.8M32.5 493.3l-1.2 0.2M135.0 475.4l-1.2 0.2M100.9 466.7l-1.1 0.5M59.1 401.1l0.6 0.0M116.8 455.6l-0.3 0.9M126.0 483.4l-0.3 0.7M117.4 471.7l-0.1 0.0M133.3 448.9l-0.1 1.2M136.9 467.2l0.1 0.0M71.4 403.2l-1.1 0.5M71.0 432.6l0.0 0.0M77.8 466.1l-0.8 0.5M110.8 475.6l-0.0 0.8M57.5 408.0l-0.8 0.7M49.9 397.4l0.1 0.0M54.3 405.0l-1.0 0.8M108.7 441.8l-0.5 0.3M67.3 427.0l0.2 0.4M144.0 405.4l1.0 0.0M82.5 486.5l0.5 0.6M67.2 445.8l-0.0 0.4M35.6 467.5l-0.3 0.5M86.5 489.5l0.8 0.8M100.8 396.5l0.2 0.1M72.8 417.0l0.4 0.4M108.6 478.6l-0.3 0.3M131.1 439.7l0.6 0.6M136.7 413.3l0.5 0.5M101.2 410.0l0.8 0.8M43.0 496.3l0.3 0.2M131.1 458.7l0.3 0.3M107.8 419.6l-0.6 0.7M67.2 393.6l-0.6 0.4M103.9 414.4l1.0 0.2M84.6 479.6l0.2 0.2M94.5 402.9l0.3 1.2M125.3 443.8l0.2 0.4" fill="none" stroke="#0505c0" stroke-width="1.9" stroke-linecap="round"/>
<path d="M133.9 495.5h0M73.7 405.1h0M119.9 473.5h0M68.1 474.3h0M72.9 421.1h0M97.4 469.2h0M83.9 477.3h0M30.9 443.5h0M73.0 397.7h0M134.3 406.0h0M52.9 483.6h0M139.6 489.3h0M68.6 489.2h0M45.6 466.3h0M137.9 411.2h0M44.9 462.5h0M130.6 467.6h0M138.3 438.8h0M72.0 403.5h0M60.6 490.0h0M37.5 410.3h0M69.2 396.0h0M64.5 410.1h0M43.4 446.5h0M91.3 450.8h0M116.8 446.5h0M138.0 399.4h0M54.9 398.9h0M64.8 471.2h0M135.4 444.1h0M47.7 425.7h0M94.6 421.9h0M120.3 493.6h0M126.4 440.0h0M51.2 490.6h0M141.6 393.4h0M116.9 433.1h0M35.3 408.0h0M49.2 468.6h0M53.6 392.9h0M54.5 475.3h0M86.6 459.8h0M82.7 410.1h0M31.0 423.0h0M34.1 418.3h0M100.3 429.8h0M83.6 456.7h0M65.7 428.5h0M130.8 452.2h0M82.1 425.9h0M134.2 415.5h0M136.7 481.0h0M130.6 408.0h0M87.7 494.9h0M62.4 408.9h0M112.3 415.7h0M96.3 407.5h0M138.1 420.8h0M40.4 463.4h0M69.1 449.9h0M86.4 488.3h0M88.3 430.9h0M29.5 443.3h0M60.2 451.5h0M101.8 439.7h0M39.6 443.4h0M84.6 458.6h0M140.7 420.4h0M80.1 399.7h0M121.1 415.6h0M124.5 475.1h0M58.5 486.2h0M93.0 490.8h0M62.7 479.7h0M87.0 427.0h0M51.9 413.5h0M125.1 475.7h0M141.7 487.7h0M108.0 475.1h0M111.0 476.4h0M121.3 409.4h0M122.8 422.9h0M57.3 488.0h0M31.9 444.9h0M68.7 474.5h0M99.4 487.1h0M136.4 458.9h0M36.7 461.3h0M41.9 494.6h0M129.3 423.6h0M50.6 464.2h0M116.3 494.9h0M100.8 404.0h0M112.7 397.0h0M128.9 472.0h0M119.5 483.1h0M94.6 490.5h0M102.7 442.8h0M73.4 428.2h0M31.9 407.8h0M120.6 415.0h0M104.3 472.7h0M109.0 445.3h0M65.6 419.6h0M50.8 459.3h0M108.1 490.4h0" fill="none" stroke="#0606b0" stroke-width="1.2" stroke-linecap="round"/>
<clipPath id="ic0"><path d="M83.7,427.1C85.7,426.2 87.0,430.3 88.5,432.5C90.0,434.7 92.9,437.7 93.0,440.3C93.1,442.9 91.1,445.1 89.0,448.0C86.9,450.9 82.6,457.2 80.4,458.0C78.2,458.8 77.2,454.8 76.0,453.0C74.8,451.2 73.1,449.5 73.2,447.0C73.3,444.5 74.8,441.3 76.5,438.0C78.2,434.7 81.7,428.0 83.7,427.1Z"/></clipPath>
<path d="M83.7,427.1C85.7,426.2 87.0,430.3 88.5,432.5C90.0,434.7 92.9,437.7 93.0,440.3C93.1,442.9 91.1,445.1 89.0,448.0C86.9,450.9 82.6,457.2 80.4,458.0C78.2,458.8 77.2,454.8 76.0,453.0C74.8,451.2 73.1,449.5 73.2,447.0C73.3,444.5 74.8,441.3 76.5,438.0C78.2,434.7 81.7,428.0 83.7,427.1Z" fill="#1fb52e" stroke="#1fb52e" stroke-width="1.0"/>
<g clip-path="url(#ic0)">
<path d="M79.7 455.7l-0.2 0.6M79.8 435.7l0.7 0.9M83.5 442.2l0.1 0.7M83.8 441.7l-0.6 0.3M87.9 434.8l0.5 1.2M77.1 445.0l-1.2 0.1M78.0 437.2l0.3 1.0M80.2 443.4l-0.3 0.3M81.4 439.7l-0.9 1.1M77.9 441.7l-0.5 0.9M81.8 448.3l0.2 1.0M88.3 444.3l0.9 0.8M83.6 433.0l-0.2 1.5M76.2 444.1l0.5 0.9M78.6 449.3l0.6 0.0M87.6 437.0l-0.3 0.3M88.4 447.1l-0.1 0.3M87.2 441.2l0.5 1.4M81.8 430.4l1.1 0.8M87.0 440.6l0.9 0.2M75.7 440.3l-1.1 0.7M84.5 450.1l0.3 0.8M81.2 447.2l-0.7 0.9M86.7 446.1l-0.6 0.6M82.5 430.4l0.7 0.8M82.8 445.3l-0.2 0.8M77.6 453.8l-0.2 0.0M83.3 439.8l-0.4 0.3M81.1 454.5l-0.9 1.1M78.3 451.6l0.6 0.6M87.2 441.0l-0.1 0.7M80.4 440.6l0.8 0.5M82.2 436.9l-0.9 0.3" fill="none" stroke="#0a4a16" stroke-width="1.8" stroke-linecap="round"/>
<path d="M81.0 450.8l-0.3 0.9M77.4 454.0l1.3 0.2M76.9 445.0l1.3 0.3M76.4 448.3l0.7 0.6M80.5 450.4l-1.2 0.2M77.9 449.0l-1.5 1.0M78.4 450.1l-1.1 0.3M77.8 447.9l1.3 0.1M79.2 449.8l-1.1 0.3M79.2 445.0l0.4 0.4M80.7 444.5l1.4 0.8M79.9 445.6l-0.1 1.8M79.2 448.6l0.3 0.2M80.1 453.0l-0.3 0.2M77.6 455.5l0.5 0.3M77.5 454.6l-0.8 1.0M76.9 442.7l-0.9 0.7M78.8 441.7l-1.1 1.2M78.0 453.7l-0.8 1.6M84.4 456.6l-1.3 0.9" fill="none" stroke="#f2102c" stroke-width="3.2" stroke-linecap="round"/>
<path d="M75.9 445.3l-0.3 0.3M78.6 450.2l0.0 0.0M77.1 452.3l-0.7 1.1M78.8 450.8l0.8 1.1M79.2 447.3l-0.3 0.5M80.7 445.2l-0.3 0.6M74.4 451.5l-0.0 0.0M77.4 440.0l-0.1 0.4M82.0 438.8l0.1 0.1M81.1 452.8l0.7 0.7M80.7 438.3l0.5 1.3M75.4 442.3l-0.1 0.2" fill="none" stroke="#f2102c" stroke-width="2.2" stroke-linecap="round"/>
<path d="M85.7 447.2l-0.6 0.4M81.3 445.3l-0.1 0.0M85.3 444.3l-0.1 0.2M80.9 456.2l0.1 0.2M85.9 445.9l-0.1 0.0M86.2 447.0l-0.3 0.4M85.6 441.0l-0.3 0.6M77.7 440.6l0.1 0.2M80.6 432.1l-0.0 0.1M80.4 454.1l0.1 0.5M78.7 446.1l-0.2 0.5M86.0 431.6l-0.2 0.7M87.3 431.4l-0.2 0.1M89.1 445.4l0.3 0.3M82.1 440.6l0.3 0.3M74.7 443.2l0.3 0.3M88.9 439.8l0.6 0.2M80.7 450.2l-0.2 0.3M91.7 440.2l-0.0 0.2M78.9 435.9l-0.3 0.0M86.4 432.1l0.4 0.4" fill="none" stroke="#1216ff" stroke-width="2.3" stroke-linecap="round"/>
<path d="M76.9 442.7l0.3 0.2M85.2 443.9l-0.2 0.2M78.4 438.9l-0.2 0.4M85.2 449.8l-0.2 0.4M75.5 448.3l0.3 0.1M85.6 446.9l-0.1 0.2M82.5 442.8l-0.2 0.1M76.7 441.4l0.3 0.2M82.6 447.9l0.1 0.3M78.5 444.5l0.2 0.4" fill="none" stroke="#1216ff" stroke-width="1.5" stroke-linecap="round"/>
</g>
</g>
<clipPath id="cp1"><rect x="146.4" y="390.8" width="114.7" height="105.69999999999999"/></clipPath>
<g clip-path="url(#cp1)">
<rect x="146.4" y="390.8" width="114.7" height="105.69999999999999" fill="#000"/>
<path d="M240.9 427.2l-0.0 0.0M219.6 416.3l0.3 0.7M159.4 483.5l-0.6 0.5M251.6 412.8l-0.2 0.1M217.3 424.7l0.9 0.7M258.8 446.9l-0.4 0.7M202.6 400.8l0.1 0.0M155.3 474.5l0.0 0.0M176.0 404.9l0.0 0.7M160.8 476.2l0.1 0.2M250.9 400.4l0.6 0.4M210.9 489.0l-0.3 0.2M166.6 401.9l0.4 0.5M156.8 479.7l-0.3 0.3M215.3 492.2l-0.4 0.1M199.0 486.3l-0.4 0.7M249.4 482.3l0.0 0.1M213.1 475.0l0.2 0.6M206.6 477.4l0.9 0.7M260.0 491.4l0.4 0.0M221.9 401.3l0.8 0.2M224.5 484.1l0.9 0.3M197.1 477.7l-0.1 0.8M154.6 461.0l-0.2 0.1M231.8 469.4l-0.6 0.2M245.8 469.1l-0.0 1.0M146.5 474.6l-1.1 0.2M150.9 446.4l-0.2 1.3M153.6 408.1l0.3 0.0M158.2 393.9l0.4 0.6M194.2 396.1l-0.0 0.1M237.7 490.9l0.5 0.8M149.0 427.5l-0.1 0.0M243.2 490.5l1.0 0.7M209.8 415.7l-0.2 0.7M197.0 482.7l0.1 0.0M231.6 400.6l-0.7 0.4M240.3 419.9l-0.7 0.0M175.2 469.3l-0.1 0.2M254.8 438.6l-0.8 0.8M236.5 398.7l-0.2 0.1M148.6 483.9l-0.2 0.3M195.5 493.8l1.0 0.8M146.6 397.2l-0.0 0.0M260.9 396.0l-0.7 0.4M149.2 441.3l0.2 0.7M192.3 403.1l0.3 0.1M238.8 496.3l0.0 0.1" fill="none" stroke="#0808ff" stroke-width="2.2" stroke-linecap="round"/>
<path d="M162.4 462.3l-0.8 1.0M220.0 393.5l-0.5 0.0M224.1 493.8l0.7 0.2M201.0 418.6l1.2 0.2M204.9 397.0l-0.0 0.6M157.5 492.2l-0.5 0.2M207.6 492.5l-0.5 0.4M157.7 415.1l0.7 0.7M188.6 484.7l0.0 0.0M230.0 391.1l0.3 0.6M201.8 404.8l-0.3 0.7M249.7 474.4l0.2 0.2M241.4 487.1l-1.0 0.5M240.1 416.0l0.1 0.3M182.8 408.6l-0.2 0.2M160.0 400.9l0.0 0.0M169.2 398.9l0.4 0.0M258.2 454.8l0.1 0.3M182.6 401.4l-0.8 0.4M222.9 471.0l-0.1 0.1M213.1 391.1l-0.0 0.0M160.2 408.2l0.0 0.0M186.6 399.4l-0.1 0.5M166.0 495.6l1.0 0.6M152.2 421.0l0.1 0.0M235.3 423.3l-0.2 0.0M177.4 396.3l0.2 0.4M233.4 407.4l-0.0 0.0M257.5 464.5l-0.1 0.5M161.6 391.6l0.8 0.1M254.2 489.3l0.2 0.3M148.6 400.4l0.5 0.8M236.6 485.7l0.2 0.0M151.8 452.6l0.5 0.8M251.8 479.1l1.2 0.3M172.4 392.3l-0.2 1.0M185.3 481.1l-0.0 0.5M193.2 485.3l0.3 0.1M191.1 496.1l0.7 0.4M173.2 414.2l-0.0 0.1M209.3 483.9l0.1 0.0M239.0 412.2l-0.8 0.3M173.8 481.0l-0.9 0.1M152.8 437.5l0.5 0.7M258.6 404.0l-0.9 0.0M177.8 472.1l0.5 0.8M233.2 484.1l0.0 0.1M259.7 484.7l-0.9 0.3M216.4 482.4l0.8 0.0M148.2 451.7l0.8 0.8M167.7 412.0l-0.6 0.7M176.5 411.7l-0.6 0.5M174.1 401.4l-0.4 0.4M146.5 457.2l-0.1 0.1M171.1 468.3l-1.0 0.1M160.1 424.3l-1.1 0.5M257.6 441.6l0.4 1.2M180.6 393.7l-0.2 0.6M166.7 466.1l-0.4 0.2M183.5 491.7l-0.5 0.3M219.3 489.4l-0.8 0.4M224.8 417.9l-0.1 1.0M244.9 399.5l0.9 0.9M198.1 392.9l0.3 0.7M206.3 414.4l0.5 0.4M248.9 486.5l-0.6 1.0M188.2 391.9l0.0 0.6M254.6 427.5l-0.7 0.2M253.9 467.2l-0.3 0.4M205.8 405.1l0.1 0.3M236.5 418.7l-1.1 0.7M227.9 491.9l0.4 0.2M196.7 400.0l0.1 0.1M158.2 488.3l0.2 0.3M219.5 410.0l-0.6 0.5M162.6 404.4l-1.0 0.1" fill="none" stroke="#0808ff" stroke-width="2.8" stroke-linecap="round"/>
<path d="M244.2 407.7l0.5 0.2M253.0 462.9l0.4 0.9M211.4 407.2l0.1 0.1M152.2 489.7l0.0 0.2M219.7 475.6l0.8 0.1M150.5 404.8l-0.4 0.6M211.1 420.3l-0.1 0.3M186.8 416.3l-0.4 0.0M148.3 462.1l0.4 1.2M215.8 405.0l-0.1 0.1M228.6 486.2l-0.8 0.8M172.0 495.3l0.1 0.1M257.9 481.2l-0.1 0.0M232.5 496.0l0.4 0.3M214.7 399.1l0.2 0.0M250.5 492.8l-0.6 0.2M233.1 414.6l0.4 0.1M203.0 482.9l-0.2 0.1M147.5 409.0l0.2 0.2" fill="none" stroke="#0808ff" stroke-width="3.4" stroke-linecap="round"/>
<path d="M195.0 413.1l-0.2 0.9M178.5 492.4l0.1 1.0M155.7 403.2l-0.1 0.1M258.3 425.9l-0.4 0.5M194.5 407.4l-0.3 0.1M241.6 474.6l1.2 0.2M224.0 480.0l-0.2 0.3M224.6 395.5l-0.4 0.5M252.1 422.8l0.2 0.1M203.3 392.1l0.4 0.9M223.2 407.5l-0.2 0.5M238.8 469.5l-1.2 0.1M164.6 478.1l-0.6 0.4M166.8 470.7l-1.3 0.1M163.0 395.6l1.1 0.4M247.2 428.9l-0.3 0.5M249.3 419.3l0.5 0.6M159.3 457.8l-0.6 0.7M147.2 414.5l-0.0 0.1M253.6 403.9l0.3 0.7M203.9 410.0l0.5 1.0M227.6 411.7l-1.2 0.4M178.3 486.6l0.8 0.2M151.4 397.3l-0.5 0.1M154.2 485.9l0.6 0.6M199.4 412.5l0.7 0.2M170.4 486.0l0.2 0.1M241.1 402.3l-0.6 0.5M204.9 419.2l-0.7 1.0M230.6 481.4l1.0 0.5M260.2 472.9l0.3 0.3M187.2 412.3l-0.0 0.0M196.9 404.0l-0.0 0.0M152.3 457.5l-0.1 1.2M245.9 462.9l-0.2 0.9M248.1 410.6l-0.1 0.1M152.9 471.6l-0.1 0.5M253.8 393.0l0.8 0.8M255.8 494.6l-1.1 0.3M240.2 391.2l0.3 0.5M162.9 487.4l-0.6 0.2M152.7 425.8l-0.8 0.0M235.0 391.5l0.4 0.3M180.8 478.4l-0.0 0.0M230.4 417.6l-0.8 0.6M249.6 393.0l-0.5 0.3M221.1 424.0l0.9 0.1M173.1 475.7l0.7 0.2M174.4 491.4l0.0 0.0M187.9 407.8l0.6 0.5M227.2 469.1l-0.5 0.5M211.2 480.4l0.3 0.0M204.1 494.0l-0.4 0.4M172.0 407.3l0.3 1.0M245.0 476.6l-0.1 1.3" fill="none" stroke="#0505c0" stroke-width="1.9" stroke-linecap="round"/>
<path d="M184.4 394.4h0M221.2 394.5h0M232.9 494.8h0M197.0 394.8h0M230.8 421.9h0M248.0 471.6h0M255.7 484.8h0M197.1 399.7h0M157.0 401.5h0M159.3 458.4h0M160.8 481.7h0M151.2 463.7h0M237.7 482.0h0M194.6 398.9h0M238.2 477.8h0M227.1 398.0h0M257.0 426.8h0M258.5 490.4h0M232.1 416.8h0M167.7 477.3h0M260.5 430.4h0M256.0 441.4h0M257.7 443.1h0M220.4 392.9h0M195.5 400.4h0M220.3 475.4h0M252.5 402.1h0M241.6 396.9h0M153.6 433.0h0M221.4 485.9h0M239.4 426.9h0M199.4 397.9h0M149.7 407.7h0M159.9 414.2h0M220.2 400.9h0M182.7 493.9h0M200.8 397.1h0M148.1 411.9h0M249.4 407.7h0M211.0 486.5h0M243.0 481.2h0M242.8 481.7h0M213.3 485.5h0M236.6 393.7h0M211.0 492.5h0M248.4 415.6h0M165.4 421.5h0M202.5 393.7h0M185.0 400.4h0M219.7 484.8h0M242.2 488.8h0M204.2 417.3h0M146.4 412.4h0M208.1 479.3h0M160.9 468.6h0M193.8 391.3h0M146.4 447.1h0M209.4 404.6h0M252.0 439.7h0M233.3 392.8h0M259.5 427.1h0M149.4 455.5h0M191.6 489.9h0M223.8 487.2h0M155.1 425.5h0M182.3 411.0h0M259.4 488.2h0M186.1 472.0h0M232.7 472.4h0M210.3 417.5h0M193.7 493.7h0" fill="none" stroke="#0606b0" stroke-width="1.2" stroke-linecap="round"/>
<clipPath id="ic1"><path d="M150.5,443.5C151.2,440.1 153.4,433.5 156.0,430.0C158.6,426.5 161.3,424.0 166.0,422.3C170.7,420.6 178.0,420.6 184.0,420.0C190.0,419.4 197.4,418.1 201.8,419.0C206.2,419.9 206.2,424.5 210.7,425.6C215.2,426.7 223.0,424.7 228.6,425.6C234.2,426.5 239.7,427.9 244.2,431.2C248.7,434.5 254.3,441.2 255.4,445.7C256.5,450.2 254.3,454.6 251.0,458.0C247.7,461.4 240.5,464.1 235.3,465.8C230.1,467.5 224.2,466.5 219.7,468.0C215.2,469.5 213.3,473.9 208.5,474.7C203.7,475.4 196.2,474.4 190.6,472.5C185.0,470.6 180.2,466.2 175.0,463.6C169.8,461.0 163.3,459.1 159.4,456.9C155.5,454.7 153.1,452.4 151.6,450.2C150.1,448.0 149.8,446.9 150.5,443.5Z"/></clipPath>
<path d="M150.5,443.5C151.2,440.1 153.4,433.5 156.0,430.0C158.6,426.5 161.3,424.0 166.0,422.3C170.7,420.6 178.0,420.6 184.0,420.0C190.0,419.4 197.4,418.1 201.8,419.0C206.2,419.9 206.2,424.5 210.7,425.6C215.2,426.7 223.0,424.7 228.6,425.6C234.2,426.5 239.7,427.9 244.2,431.2C248.7,434.5 254.3,441.2 255.4,445.7C256.5,450.2 254.3,454.6 251.0,458.0C247.7,461.4 240.5,464.1 235.3,465.8C230.1,467.5 224.2,466.5 219.7,468.0C215.2,469.5 213.3,473.9 208.5,474.7C203.7,475.4 196.2,474.4 190.6,472.5C185.0,470.6 180.2,466.2 175.0,463.6C169.8,461.0 163.3,459.1 159.4,456.9C155.5,454.7 153.1,452.4 151.6,450.2C150.1,448.0 149.8,446.9 150.5,443.5Z" fill="#1fb030" stroke="#1fb030" stroke-width="1.0"/>
<g clip-path="url(#ic1)">
<path d="M182.5 433.3l0.1 0.3M197.0 422.9l-1.1 0.2M206.3 459.4l-0.7 0.7M194.3 424.6l0.0 0.0M208.3 463.4l-0.4 0.1M166.0 444.3l-0.7 0.0M230.4 439.7l0.0 0.1M154.6 448.8l1.0 0.5M168.7 441.1l-0.9 0.2M218.4 448.1l0.2 0.4M223.8 456.7l0.5 1.1M196.5 435.2l-0.2 0.1M169.1 445.3l-0.0 1.2M249.0 440.1l0.6 0.6M210.8 447.0l0.1 0.0M182.2 434.1l-1.2 0.4M201.6 423.1l0.6 0.0M235.5 453.4l-0.5 0.0M208.0 473.7l-1.2 0.7M203.2 430.4l-0.6 0.5M187.3 463.9l1.2 0.9M208.4 427.9l-0.2 0.1M199.7 464.8l-0.1 0.1M221.1 434.0l1.3 0.7M182.1 458.7l-0.1 0.0M176.3 431.9l0.2 0.2M237.9 454.4l-1.0 0.7M230.5 466.0l-0.1 0.5M201.7 440.7l0.2 0.0M173.6 438.7l-0.2 0.3M169.3 459.9l1.3 0.6M239.0 430.3l-1.2 0.1M155.7 438.5l-0.0 1.1M165.6 425.9l0.8 1.1M161.6 455.0l0.7 0.5M249.2 440.3l-0.2 0.2M168.7 455.8l0.1 0.1M157.6 430.5l0.4 0.9M252.1 452.0l0.6 1.2M201.3 470.5l-1.2 0.1M212.0 444.2l0.0 0.1M182.0 440.2l-0.6 0.5M204.6 467.1l-0.3 0.8M230.7 434.4l-1.3 0.2M166.4 426.1l-1.1 0.4M223.3 459.4l0.2 1.1M188.3 443.9l0.7 0.8M175.8 449.2l1.2 0.8M195.0 424.7l-0.2 0.8M228.8 430.6l0.3 0.2M228.1 437.4l-0.4 0.2M199.0 459.3l0.3 0.2M245.5 433.9l-0.0 0.3M162.9 448.7l-0.9 0.1M228.8 437.0l0.2 0.5M191.4 461.0l0.4 1.2M247.7 450.4l0.4 0.3M200.4 444.4l0.9 0.9M164.4 445.1l-0.3 0.1M165.1 438.7l-0.0 0.9M157.8 453.1l-0.9 1.1M187.2 423.9l0.5 0.1M240.9 459.9l-0.4 0.3M181.8 455.5l1.1 0.6M208.8 455.6l0.0 0.2M202.1 459.5l0.3 0.5M221.7 445.4l0.7 0.4M179.9 466.3l0.2 0.0M217.3 434.3l-0.8 0.0M220.5 429.2l0.5 1.2M173.2 434.9l0.4 1.1M226.4 433.1l0.7 1.3M230.9 446.4l-0.2 0.4M226.6 460.5l-0.5 0.8M239.3 437.9l-0.0 1.3M243.4 447.5l-1.4 0.1M218.9 456.5l-1.2 0.0M150.9 443.2l0.0 0.0M163.1 438.0l0.0 0.2M239.9 431.0l0.2 1.4M195.8 467.7l-0.9 0.2M241.7 437.7l0.1 0.1M222.8 463.1l1.4 0.5M201.6 420.0l0.4 0.1M230.4 433.7l-0.6 0.8M221.4 463.4l-1.1 0.1M190.8 452.0l-0.7 0.4M181.8 466.6l-0.5 0.5M218.1 461.5l1.2 0.2M180.8 420.8l0.2 0.0M200.9 448.6l0.1 0.4M169.8 432.1l-0.7 0.2M232.7 462.3l-0.3 0.4M204.3 425.7l0.4 0.2M205.7 437.3l-1.0 0.3M173.5 422.9l0.1 0.9M208.2 423.8l0.4 0.3M174.2 422.9l-0.3 1.0M214.1 470.7l1.4 0.5M205.8 424.5l0.3 0.1M218.6 448.9l-0.0 0.2M234.8 453.1l-0.6 0.0M234.2 442.7l0.5 0.7M249.2 455.6l-0.7 0.4M231.5 459.0l-0.2 0.8M230.1 427.3l0.2 0.1M235.6 441.4l0.0 0.6M209.6 459.3l-0.3 0.3M229.2 443.0l-0.0 0.8M235.0 437.1l-0.7 0.1M201.5 472.1l-0.9 1.0M160.6 452.7l-0.7 0.6M206.7 430.0l-0.0 0.0M162.8 426.3l-1.1 0.6M222.1 464.4l0.1 0.4M185.8 468.3l-1.0 0.6M212.1 453.8l0.5 0.9M203.5 430.0l-1.2 0.5M200.8 443.9l-0.1 0.2M167.9 425.4l1.0 0.8M208.9 452.0l-0.2 0.2M177.0 426.4l0.3 0.7M233.3 462.2l0.3 0.1M183.4 428.3l-0.7 0.7M203.7 444.8l0.3 1.1M171.7 426.4l0.0 0.2M243.4 440.3l-0.5 0.4M211.1 460.8l-0.0 0.7M208.5 461.3l-1.1 0.9M234.2 447.8l1.0 0.1M194.9 433.8l-0.1 1.0M243.1 452.5l-0.3 0.1M193.7 464.3l-1.0 0.3M217.8 464.2l-1.1 0.9M198.0 457.3l-0.9 0.9M156.5 437.8l-1.0 0.2M166.6 439.4l-1.1 0.1M229.0 456.7l-0.7 0.4M241.6 447.4l0.1 0.5M198.5 440.2l-0.8 0.3M236.9 462.7l-0.1 0.0M240.4 430.3l-0.9 0.5M178.1 459.4l-0.6 1.0M203.2 442.1l0.8 0.7M167.9 446.6l-1.1 0.2M251.1 453.1l-0.6 0.1M193.3 468.3l-0.1 0.4M195.5 457.8l0.1 0.3M203.7 430.7l0.5 0.5M153.8 437.0l0.9 0.6M193.5 451.6l1.2 0.1M227.8 437.0l1.0 0.6M211.4 465.4l-1.3 0.7M210.8 451.3l-0.1 0.4M219.5 458.5l0.6 1.2M166.4 443.7l0.2 0.1M169.1 427.6l1.0 0.2M203.1 425.7l0.0 1.4M217.8 457.6l0.4 1.0M176.3 433.9l0.9 1.1M153.0 444.0l0.1 1.4M239.0 440.0l-0.7 0.5M155.3 439.3l0.9 0.3M190.4 431.7l0.8 0.4M233.9 466.0l-0.1 0.0M226.7 432.2l-0.7 0.2M236.8 440.6l0.6 0.7M241.9 461.1l0.0 0.1M215.7 463.9l-0.7 1.3M218.6 425.6l-0.8 0.1M177.9 446.8l0.9 0.3M245.0 460.1l0.1 0.0M179.4 422.4l-0.8 0.9M215.6 460.3l0.6 0.5M243.0 448.0l-1.1 0.1M172.9 451.5l0.7 0.3M241.0 457.9l-0.1 0.1M220.9 428.1l0.0 0.0M213.5 467.1l-0.2 0.9M188.6 427.9l0.3 0.3M217.8 434.8l-0.5 0.5M203.8 458.0l-1.2 0.0M252.8 448.3l1.4 0.0M220.1 461.1l0.1 0.6M235.1 457.5l-0.7 0.6M162.8 450.4l-0.7 0.4M191.3 465.8l-1.4 0.4M213.1 464.1l0.3 0.6M252.2 447.3l0.1 0.0M187.7 467.2l0.7 0.1M245.0 461.0l-0.1 0.2M170.5 448.9l-0.1 0.2M231.2 464.6l-0.8 0.5M185.4 435.6l1.5 0.0M191.9 421.0l-0.1 0.2M178.6 452.3l0.8 0.1M185.6 427.3l-0.6 1.2M189.7 443.2l1.4 0.4M216.8 437.9l0.4 0.7M174.3 432.7l0.3 1.2M208.2 461.0l-0.3 1.0M209.3 462.9l-1.0 0.1M167.6 427.2l0.4 0.7M223.8 442.6l0.6 0.6M190.8 440.2l0.9 0.6M189.1 430.9l-0.6 0.6M177.3 431.2l-0.5 0.1M165.4 424.8l-0.2 0.1M182.4 458.6l0.0 0.5M170.2 444.7l0.7 0.3M177.3 423.0l0.8 0.6M166.7 453.5l0.2 0.1M212.3 460.1l0.3 0.8M190.9 447.4l-0.1 0.3M177.4 461.4l-0.6 0.0M215.6 441.2l-0.4 1.0M217.2 455.3l0.3 1.1M208.1 472.1l0.3 0.3M171.3 428.3l-0.6 0.2M186.9 424.0l-0.8 0.0M207.1 467.8l-0.1 0.9M183.2 431.3l-0.7 0.6M216.8 454.1l0.8 0.1M210.7 437.6l-0.9 0.6M186.1 438.9l0.1 0.0M201.0 448.2l-0.4 0.3M171.8 439.3l-0.7 1.0M166.2 457.8l0.1 0.1M200.3 457.5l0.9 1.2M248.6 441.1l0.1 0.5M171.4 455.6l1.0 0.5M201.3 453.0l-0.0 0.0M214.1 442.6l-0.0 0.0M199.4 459.0l-0.2 0.1M232.9 452.0l-0.1 0.3M244.2 440.5l0.0 1.0M244.8 460.7l0.9 0.7M192.4 433.2l-0.1 0.2M189.4 441.5l-0.4 1.1M193.4 430.1l-0.1 0.0M186.9 424.8l-0.6 0.6M248.1 443.1l-1.0 0.1M190.8 448.3l-0.7 0.8M176.9 456.8l0.2 0.5M226.7 430.1l-0.0 0.0M214.8 435.5l0.0 0.1M171.0 441.6l-0.1 0.3M155.3 436.8l-0.2 0.3M204.4 459.9l-0.2 0.4M224.5 456.7l-1.0 0.5M229.2 426.3l0.2 0.3M214.5 453.3l0.9 0.0M235.6 462.1l0.2 0.4M199.6 448.7l-0.2 0.6M240.5 446.6l-0.3 1.2M192.4 426.2l-1.5 0.1M182.8 466.1l-0.6 0.4M187.8 440.3l0.7 0.3M196.0 426.4l-0.5 0.5M196.2 420.7l-0.9 1.0M158.6 448.2l-0.1 0.0M169.1 458.4l0.1 1.4M178.7 433.3l0.0 0.0M189.8 443.1l-0.3 0.7M212.7 470.7l0.5 0.6M171.9 434.1l0.5 1.0M208.2 474.1l0.6 1.1M203.6 470.9l0.1 0.1M195.5 431.9l0.0 0.3M165.5 442.3l-0.4 0.1M196.6 443.5l-0.6 0.4M200.2 442.9l0.7 0.6M231.3 431.9l-0.5 0.5M206.4 448.3l-0.6 0.8M178.5 423.2l0.3 0.9M228.4 432.7l-0.0 0.1M218.2 450.9l-0.6 0.2M205.6 437.0l0.5 0.1M214.6 456.6l0.0 1.0M191.5 434.0l0.3 0.2M197.7 458.1l1.0 1.0M181.2 443.4l0.0 1.1M219.4 435.0l0.4 0.4M235.0 455.1l0.7 0.7M214.3 449.8l-0.3 0.6M220.5 457.2l0.8 0.3M224.4 437.0l0.2 0.4M229.8 458.2l0.1 0.8M199.4 425.1l0.3 0.1M226.8 467.0l0.1 0.2M185.3 430.9l0.1 0.6M177.4 423.4l-0.2 0.1M227.8 427.1l-0.1 0.3M184.2 444.9l-1.0 0.7M222.2 467.3l0.2 0.9M198.4 468.6l-0.6 0.1M152.4 447.7l0.5 0.2M231.8 438.8l0.0 0.4M166.3 438.0l-0.6 1.3M191.3 447.1l0.7 0.2M198.9 468.2l0.6 0.5M244.6 438.2l0.1 0.2M171.8 446.4l-0.7 0.3M194.9 469.4l-0.3 0.6M227.5 466.0l0.5 0.4M169.5 442.8l0.9 0.4M237.9 456.8l-0.5 1.2M215.3 431.6l0.8 0.2M239.1 445.4l-0.3 0.5M178.6 448.0l-0.7 0.0M205.2 451.4l-1.2 0.1M175.1 452.8l-0.4 0.4M184.3 460.6l-0.2 0.3M234.3 437.7l-0.6 0.8M180.7 444.1l0.1 0.7M239.5 449.5l0.0 0.0M169.4 445.0l-0.6 0.0M236.1 439.3l-0.5 0.2M238.4 463.2l0.5 1.0M193.9 429.1l-0.1 0.6M242.9 440.8l-0.9 0.4M151.4 446.4l-0.2 0.0M213.5 446.2l-0.4 0.8M167.1 433.6l0.8 0.8M245.2 459.6l-0.4 0.8M208.5 445.7l-0.1 0.7M239.2 448.4l0.9 0.4M167.4 460.2l1.3 0.4M162.5 443.1l-0.6 0.4M224.6 440.7l-0.3 0.9M182.9 434.6l-1.0 0.6M192.4 438.0l0.5 0.8M162.9 449.1l1.1 0.4M235.4 430.0l0.3 1.1M244.5 446.6l1.2 0.5M243.1 449.1l0.1 0.1M217.8 442.9l0.6 0.6M224.2 438.8l-0.6 0.0M227.1 446.6l0.6 0.9M180.8 446.4l0.2 0.2M195.5 463.6l1.0 0.3M197.7 455.4l-0.2 0.1M221.4 450.4l-0.6 0.1M176.1 426.3l-0.7 0.6M205.8 467.1l0.5 0.2M162.1 439.6l0.1 0.3M162.3 452.8l-0.3 0.1M182.0 464.3l-0.2 1.2M204.0 426.2l-1.0 0.5M160.0 438.3l-0.1 0.2M168.7 460.4l0.9 1.1M230.8 452.4l-0.3 1.5M168.5 457.6l-0.2 0.4M200.0 432.3l0.2 0.8M218.8 445.5l0.3 1.0M245.6 439.7l-0.1 0.0M231.7 440.5l-0.3 0.9M186.4 463.6l-0.1 0.1M203.6 468.3l1.0 0.9M203.1 422.0l0.7 1.1M183.5 436.7l-0.2 0.4M182.6 436.2l-1.4 0.0M209.5 439.8l-0.0 0.2M181.8 458.3l0.2 0.1M230.1 435.1l0.1 0.0M194.5 449.5l0.2 0.2M157.2 447.0l-0.1 0.4M157.9 442.0l-0.3 0.1M183.5 452.3l-0.6 1.0M163.7 444.0l-1.4 0.5M205.0 438.5l0.1 0.0M188.9 452.6l-1.1 0.5M211.6 441.9l0.1 0.2M219.1 426.5l-0.2 0.5M181.7 449.9l0.1 0.5M184.0 430.3l0.4 0.5M232.4 434.5l-0.7 0.5M224.2 428.1l-0.6 0.5M245.5 457.6l-0.6 1.3M232.1 449.9l0.6 0.5M187.7 437.3l0.6 1.1M158.5 428.4l0.9 0.8M194.8 424.5l-0.2 0.3M207.4 465.7l-0.2 1.3M184.8 438.5l1.0 1.1M193.4 458.2l-0.1 0.0M179.7 458.7l-0.2 0.2M242.0 443.5l-0.6 0.6M189.4 461.7l-0.8 0.1M200.9 451.5l0.9 0.1M235.3 456.4l-0.6 1.3M169.1 454.5l-0.6 0.0M182.5 420.3l-0.1 0.0M200.6 429.6l-0.1 0.6M187.3 426.6l0.8 0.3M191.1 440.7l-0.5 1.4M157.1 436.7l-0.7 0.3M173.3 440.6l-0.7 0.4M193.3 423.9l0.2 0.1M201.2 472.0l0.7 0.4M249.9 442.9l0.1 0.2M152.4 444.1l0.1 1.2M212.9 460.4l0.0 0.4M238.4 434.1l-0.1 0.1M171.8 456.4l1.3 0.8M194.0 437.7l-0.0 0.0M240.4 441.6l-0.6 0.3M241.7 432.6l-0.1 0.3M178.1 444.0l-0.4 0.5M207.2 459.8l0.8 0.3M243.0 459.0l1.3 0.4M196.3 472.4l-0.4 0.1M185.7 459.3l-0.8 0.3M170.6 444.5l-0.3 1.3M171.4 436.3l1.0 0.9M186.6 456.0l0.0 0.1M152.2 447.7l-0.2 0.3M218.6 458.1l0.2 0.5M168.4 433.8l-0.0 0.1M245.6 442.6l-0.3 0.3M175.5 426.1l-0.0 0.9M191.5 463.9l0.4 0.3M201.9 442.3l-0.1 0.2M205.8 458.4l0.7 1.2M182.0 432.9l-0.0 1.1M201.5 466.7l0.4 0.3M192.4 439.0l0.1 0.8M226.1 428.3l0.3 0.2M238.6 441.5l-0.1 0.4M156.9 440.2l-1.2 0.5M220.0 467.1l-0.2 0.3M186.9 441.3l0.4 1.0M218.0 445.9l-0.3 0.7M161.9 456.0l0.9 0.2M218.6 454.4l0.1 0.1M156.2 447.7l0.5 0.3M166.9 450.2l-1.5 0.2M175.4 450.6l-0.4 1.4M220.8 430.6l-1.1 0.5M231.8 437.5l-0.7 0.4M155.9 448.0l-1.0 1.1M241.0 441.5l0.2 0.2M177.4 447.5l-0.0 0.7M201.9 432.7l-0.6 1.2M177.7 448.0l-0.0 0.0M186.4 469.5l0.0 0.0M235.1 449.5l0.1 0.4M179.0 434.2l-0.1 1.0M151.9 448.9l0.3 0.5M198.1 432.6l-1.1 0.3M173.4 457.4l-0.3 0.2M157.5 434.0l-0.2 0.2M158.0 434.8l-0.6 0.1M217.8 427.3l0.0 0.0M173.7 428.8l-0.8 0.6M211.2 456.1l-0.5 0.0M220.8 450.1l-0.2 0.9M207.9 460.0l-0.4 1.1M178.9 459.8l1.2 0.4M241.2 430.4l0.4 0.1M208.6 463.1l1.0 0.7M154.6 447.1l-0.2 0.6M199.9 453.9l-0.2 0.1M213.1 464.4l0.9 0.3M238.8 462.0l1.1 0.6M192.3 443.8l-1.1 0.2M223.2 465.7l0.6 0.1M179.0 455.7l1.1 0.2M188.9 434.7l0.1 0.1M251.7 448.8l-1.0 0.6M221.2 466.1l0.1 0.1M217.5 450.0l0.5 0.0M181.8 451.5l0.3 0.1M187.3 458.0l-0.0 1.2M236.9 450.2l0.2 0.1M187.6 459.8l1.0 0.5M157.6 434.1l-0.3 1.1M237.3 464.3l-0.3 0.2M226.7 445.8l-0.0 0.5M189.0 462.4l0.2 1.4M157.9 442.0l-1.0 0.4M195.2 432.2l-1.0 0.6M209.6 471.8l0.0 0.7M182.6 442.2l0.5 0.5M200.2 467.7l1.3 0.6M250.9 448.7l0.9 0.6M179.1 453.7l-0.1 0.1M215.4 450.2l1.1 0.8M211.1 447.2l0.2 0.0M211.7 469.6l-0.2 0.0M232.7 434.5l-0.5 0.5M177.0 456.5l-1.0 0.1M216.1 440.6l0.9 0.8M234.5 435.7l0.6 0.3M199.5 470.8l0.0 1.3M170.1 445.3l-0.6 0.9M168.3 426.5l-0.0 0.0M222.9 466.2l0.5 1.1M195.1 472.1l-0.3 1.0M156.9 431.5l-0.4 0.1M196.6 471.4l0.2 0.1M223.4 466.9l-0.7 0.3M229.3 446.9l-0.9 0.5M215.8 469.8l-0.0 0.1M234.9 458.1l-0.9 1.1M243.4 459.9l-0.2 0.4M232.4 461.1l-0.7 0.4M165.2 446.0l-0.2 0.6M199.5 463.8l-0.4 0.1M179.6 428.7l0.3 0.3M228.7 437.8l-0.0 0.5M231.6 447.6l-1.1 0.1M216.7 457.5l-0.3 0.1M209.9 442.6l1.0 0.0M201.7 425.1l-0.9 0.2M187.3 460.9l-0.1 0.0M248.2 440.5l-0.3 0.9M236.3 434.0l-0.3 1.1M190.5 456.4l-0.8 0.9M199.5 440.5l-0.1 0.4M248.5 452.5l-0.5 0.1M247.6 445.3l1.0 0.2M220.3 449.1l0.6 0.3M209.0 466.2l-0.1 0.3M175.6 456.0l-0.4 0.1M228.5 453.5l-0.0 0.2M221.1 445.9l-0.5 0.1M204.1 466.6l-0.7 1.2M156.9 444.8l0.1 0.4M200.7 446.9l1.1 0.9M249.9 442.7l-0.6 0.2M210.0 429.5l0.1 0.6M240.8 449.1l0.2 0.6M154.8 450.4l-0.7 0.6M208.2 444.9l0.7 0.7M165.5 438.2l0.4 0.4M176.5 443.2l-0.8 1.0M198.2 433.9l-0.0 1.4M237.0 432.5l1.3 0.5M170.2 459.4l-0.0 0.0M192.7 462.3l-0.9 0.1M192.9 464.5l0.0 0.0M190.2 423.9l0.4 0.6M229.3 464.5l-0.2 1.2M164.5 454.4l0.7 0.1M200.7 431.5l-1.2 0.0M158.7 442.3l0.6 0.3M160.9 431.3l0.8 1.2M231.3 446.4l-0.9 0.9M174.0 437.5l0.3 1.0M214.8 434.1l-0.1 0.9M248.2 437.1l0.5 0.4M170.4 422.0l0.5 1.1M207.8 459.7l0.8 1.1M181.2 453.0l0.8 0.1M209.8 461.2l0.2 0.1M168.9 442.8l-1.3 0.8M236.0 429.7l0.0 0.0M200.1 436.4l0.1 0.1M210.2 448.9l0.9 0.8M244.5 458.3l0.3 1.2M171.7 461.0l0.3 0.9M174.4 421.9l-0.8 1.1M212.7 428.6l-0.5 0.1M211.2 455.3l-1.3 0.4M180.9 429.9l-0.4 0.9M224.6 442.9l-0.3 0.8M222.4 437.9l0.9 0.7M212.9 431.7l0.9 0.4M172.7 434.8l-1.4 0.5M244.8 433.9l-0.5 0.2M225.5 453.6l1.3 0.4M210.7 446.5l-0.0 1.0M230.8 458.3l-0.8 0.2M214.1 469.5l-0.4 0.4M243.8 431.4l-0.3 0.5M190.2 420.3l0.6 0.9M226.0 442.4l-0.1 0.4M248.8 449.1l-0.1 0.9M207.8 457.0l-0.0 0.0M204.7 438.0l-0.4 0.8M217.6 454.3l0.5 0.1M165.2 445.1l-0.3 1.2M219.9 466.7l0.1 0.6M207.1 434.7l-0.1 0.1M210.9 427.2l-1.1 0.1M199.1 447.8l0.7 0.1M192.0 471.4l0.3 0.0M229.1 440.7l0.0 0.7M232.7 452.5l0.4 0.5M199.1 421.3l0.0 0.0M200.1 423.2l-0.0 0.9M236.4 462.5l0.4 0.4M185.4 433.3l-0.0 0.0M239.9 460.0l0.1 1.4M207.1 461.7l0.6 1.1M183.5 444.9l0.6 0.3M193.5 460.5l-0.2 0.7M216.8 438.0l-0.5 0.2M245.2 445.2l0.3 0.5M187.4 429.7l-0.0 0.3M166.6 432.5l0.3 0.2M193.6 434.8l-1.1 0.3M222.7 446.8l0.9 0.6M167.7 432.0l0.1 0.6M201.1 427.3l-0.9 0.9M201.8 456.0l0.0 0.1M237.7 461.3l1.3 0.1M231.4 434.3l-0.1 0.2M185.6 463.7l0.5 0.0M233.5 456.2l0.4 0.2M206.7 434.2l0.4 0.0M152.5 449.0l-0.2 0.8M206.0 432.9l-0.9 0.6M173.3 462.6l-0.5 0.1M222.8 449.2l-0.5 0.0M206.9 435.2l-0.3 0.1M226.2 434.1l-1.0 0.7M187.9 451.9l-0.9 0.5M215.8 439.9l-0.7 0.0M229.4 465.4l0.0 0.3M216.2 436.0l0.8 0.2M231.4 441.1l0.4 0.1M182.3 420.5l0.7 1.0M224.7 453.6l0.0 0.2M205.8 469.8l-0.7 0.7M219.9 442.9l-0.3 0.2M212.4 468.8l0.1 0.0M171.8 424.2l-1.0 1.0M158.6 440.2l0.0 0.0M208.5 448.8l0.3 0.0M167.2 434.2l-1.0 0.6M237.5 439.5l0.2 0.1M245.7 434.2l-0.5 0.2M200.6 437.4l0.4 0.1M228.3 442.1l0.7 1.0M181.1 420.8l0.5 0.2M203.2 439.0l-0.3 0.0M234.0 438.9l1.4 0.3M207.4 441.6l0.0 0.1M171.5 433.3l-0.3 0.4M243.8 448.9l0.5 0.2M206.2 426.5l-0.8 0.6M219.6 449.7l0.2 0.1M186.2 445.9l-0.2 0.2M163.6 440.5l-1.1 0.2M218.6 460.0l-0.2 1.0M227.8 428.4l0.3 0.5M182.8 448.1l0.3 0.7M208.9 444.0l-0.3 0.0M190.2 432.2l0.0 0.3M177.4 436.8l-1.0 0.9M163.8 440.3l0.4 0.6M158.8 454.0l-0.1 1.3M218.2 443.8l-0.7 0.7M227.8 466.2l0.4 1.1M231.8 463.4l0.2 0.4" fill="none" stroke="#06300e" stroke-width="1.8" stroke-linecap="round"/>
<path d="M182.4 460.8l-0.1 0.0M237.7 445.6l1.1 0.3M188.9 436.7l-0.1 1.1M190.1 438.3l0.8 1.2M180.9 464.7l-0.2 0.8M183.2 457.9l0.6 1.1M234.0 439.8l0.7 0.5M204.1 469.9l-1.4 0.2M205.2 470.4l1.0 0.1M202.8 472.4l-0.3 0.2M203.4 464.7l0.3 0.3M204.0 467.2l0.4 0.7M206.1 466.1l1.7 0.4M198.3 446.5l-0.2 1.1M193.7 446.0l-0.7 0.8M193.9 445.4l-0.2 0.4M205.1 468.3l-0.2 1.0M203.4 466.7l0.6 0.7M173.2 441.6l-1.7 0.1M172.9 440.8l-0.1 0.5M200.6 454.7l1.1 0.7M197.7 452.7l1.2 0.3M199.8 453.7l0.6 0.0M178.0 455.9l0.8 0.3M178.6 455.8l0.4 0.3M214.3 433.7l-0.8 0.2M229.2 434.9l-0.5 0.5M228.0 435.5l-0.6 0.2M226.0 435.9l-0.5 1.1M199.3 450.7l-0.6 0.9M204.5 449.4l-0.8 0.4M199.3 449.5l-0.1 0.0M173.4 432.1l-0.5 1.7M171.7 434.0l-0.9 0.4M191.7 464.3l0.5 0.0M162.7 443.7l-0.5 0.5M160.1 441.9l-0.1 0.7M195.3 460.8l0.8 0.4M194.5 457.6l0.9 0.5M210.5 460.6l-0.6 0.9M157.8 438.6l0.2 0.3M158.1 435.3l0.3 0.8M157.8 438.3l0.0 0.2M241.1 435.1l1.2 0.6M201.8 458.7l0.2 0.1M199.9 460.0l-0.1 0.5M228.3 442.1l-0.9 0.6M223.5 439.1l1.0 0.4M188.5 438.9l-0.7 0.8M187.1 438.8l1.0 0.0M211.9 436.5l-0.8 0.3M213.5 435.5l-0.5 0.1M229.6 444.3l1.0 1.5M230.0 444.1l-0.7 0.2M222.6 461.1l0.1 0.0M209.2 447.1l-0.0 0.0M210.9 445.1l0.4 1.6M212.1 445.4l1.0 0.3M223.9 463.1l-0.4 0.8M179.7 459.6l0.4 0.8M191.9 430.2l-1.0 0.4M194.3 429.1l-0.0 0.0M191.4 429.6l0.3 0.6M192.4 429.3l1.1 0.9M181.2 438.5l0.4 0.2M181.3 434.5l0.4 0.1M198.6 470.0l-0.9 0.9M196.7 468.0l0.0 1.2M176.1 444.0l0.4 0.8M176.1 442.1l1.1 0.2M179.0 452.1l0.5 0.9M177.2 447.2l-0.3 1.3M227.8 454.3l0.1 1.4M194.5 432.3l-0.3 0.3M193.9 434.0l-1.5 0.6M191.0 431.8l0.5 0.2M238.6 452.3l-0.8 1.4M159.9 449.4l-0.1 0.2M158.3 447.2l-0.2 0.1M160.1 444.6l0.5 1.0M159.7 446.5l-0.3 0.4M192.5 430.2l1.0 0.3M190.7 428.4l-0.5 0.3M153.5 444.9l1.4 0.7M158.7 448.6l0.9 0.1M238.7 441.3l-0.1 0.6M159.1 446.7l-0.6 0.3M157.5 443.2l0.4 0.5M203.5 430.5l0.5 0.3M251.3 446.4l-1.0 0.6M203.2 429.8l-1.0 0.8M173.8 432.7l-1.0 1.0M161.2 433.9l0.4 1.0M177.7 457.5l0.7 0.2M175.6 456.2l0.8 0.8M245.2 452.7l-0.1 0.9M242.1 455.6l0.2 0.1M243.4 457.6l0.1 0.0M195.6 452.9l-0.6 0.7M210.7 449.0l-0.6 1.5M217.5 449.1l-0.8 1.4M210.5 450.1l-0.8 0.6M213.1 450.1l-0.5 1.2M160.2 445.0l-0.9 0.9M160.0 445.0l-1.1 0.9M158.4 446.8l-1.3 0.1M159.4 442.9l0.2 0.3M159.9 434.0l-0.0 1.2M207.7 429.1l0.7 0.2M209.2 429.2l-0.6 1.3M177.7 437.6l0.7 0.3M176.5 440.4l0.3 0.1M165.6 440.3l0.3 0.7M165.4 436.5l-0.5 0.1M165.7 438.0l-0.3 0.3M188.8 447.4l1.2 0.4M187.9 442.1l-0.5 1.5M186.4 445.1l-0.0 0.4M229.1 437.2l-1.4 0.2M226.9 435.3l0.8 1.0M227.1 434.7l-0.0 1.1M179.4 460.6l-0.8 0.4M180.6 464.0l0.0 0.0M182.5 461.6l-0.0 1.3M221.7 438.8l1.6 0.8M153.7 447.8l-1.5 0.7M154.1 449.7l0.2 0.1M181.7 450.4l-0.3 1.2M182.9 448.4l-0.3 0.3M192.5 423.9l-0.2 0.1M183.3 443.3l-0.1 0.6M182.2 447.0l0.5 0.4M230.8 439.8l-1.2 0.9M170.8 439.2l-0.9 0.2M171.3 441.2l-0.9 0.0M201.1 445.7l0.2 1.1M201.3 445.0l0.9 0.2M197.9 444.6l0.7 1.2M201.7 443.8l0.3 0.6M207.7 452.5l-1.3 0.9M206.8 455.2l0.6 0.1M202.5 453.8l0.4 0.5M239.6 454.8l0.3 0.8M212.0 460.9l1.0 0.9M240.6 440.6l-0.1 0.3M200.0 438.3l0.1 0.1M195.8 454.7l-0.4 1.0M161.1 449.1l-0.3 0.6M162.7 449.2l0.0 0.0M159.8 450.1l0.0 0.3M165.6 449.3l-0.2 0.3M235.1 433.7l0.1 0.0M205.9 445.2l1.5 0.6M179.8 432.8l0.7 0.4M176.6 432.9l-0.6 0.0M166.0 442.5l-0.2 0.5M167.0 437.6l-1.1 0.4M165.5 436.6l0.3 1.0M208.9 448.0l1.2 0.9M210.9 449.0l-0.2 1.4M240.8 446.3l-0.2 0.8M240.2 449.2l-0.5 0.2M241.2 450.7l-0.7 0.4M186.3 423.9l1.5 0.0M184.4 428.4l1.0 1.0M182.2 427.2l1.6 0.7M225.9 431.5l-0.6 0.9M182.0 447.6l-0.0 0.2M180.6 447.4l-1.3 1.0M236.5 437.9l-0.5 0.7M238.6 441.0l-0.8 0.7M237.2 438.0l0.3 0.5M238.7 442.3l0.4 0.3M184.2 435.5l0.6 1.0M185.1 433.6l-0.8 0.2M200.4 466.9l-1.7 0.4M173.5 430.9l0.4 0.4M171.9 433.4l-0.3 0.2M168.1 432.1l0.2 0.1M194.5 463.2l-1.2 1.3M178.4 431.4l0.1 0.1M174.0 432.8l-0.0 0.6M165.3 442.9l-1.2 0.1M163.1 440.8l-0.2 0.9M164.0 445.6l-0.8 0.1M163.5 443.6l0.9 1.1M232.5 461.8l-0.2 0.4M169.8 459.0l-0.1 0.0M195.1 467.7l1.4 0.4M197.5 469.2l1.3 0.7M225.9 438.3l0.2 1.1M227.4 436.8l0.7 0.5M224.3 438.8l-0.6 0.7M226.7 440.9l1.7 0.4M211.9 448.6l-0.9 0.1M213.6 448.5l0.6 1.0M172.3 440.1l-1.0 1.0M175.0 440.5l-0.0 0.0M170.7 439.4l0.6 1.4M172.5 439.7l-0.6 0.6M221.6 437.7l-0.4 0.8M224.2 436.4l0.0 0.0M200.2 433.1l-0.1 0.6M201.9 426.0l0.9 0.7M198.3 427.5l0.9 0.5M198.5 428.9l0.4 0.3" fill="none" stroke="#f2102c" stroke-width="3.2" stroke-linecap="round"/>
<path d="M182.2 459.4l0.4 1.2M237.8 448.7l-0.2 0.5M181.3 461.6l-0.2 0.0M235.1 442.3l-0.3 0.7M203.4 468.5l-0.2 0.7M205.1 466.2l0.8 0.1M196.8 443.0l-0.9 1.0M159.8 434.2l-0.2 0.6M161.7 430.2l0.0 0.0M159.8 430.8l0.2 0.1M206.8 469.4l0.1 0.0M176.0 437.8l0.1 0.1M197.2 455.0l0.0 0.0M215.8 435.4l0.9 0.5M214.8 433.7l0.2 0.3M174.0 433.9l-0.8 1.2M172.1 435.2l-0.4 0.4M192.4 463.9l0.9 0.7M187.0 463.4l0.2 0.1M190.6 465.8l-1.1 0.1M157.0 441.2l-0.0 0.1M196.0 460.7l0.4 0.4M212.9 463.4l1.3 0.2M157.8 438.6l0.7 0.6M240.6 433.8l-0.8 0.9M203.4 459.0l0.7 0.2M204.5 461.8l0.0 0.0M232.4 442.8l0.2 0.4M228.9 440.4l-1.2 0.6M224.3 461.5l-0.8 0.1M225.4 463.7l-0.7 1.1M207.9 441.6l-0.5 0.4M221.1 460.8l-0.2 0.4M179.1 463.0l-0.4 0.5M191.6 429.2l-0.6 0.4M175.1 441.2l-0.9 0.3M176.1 441.7l-0.4 0.6M177.4 450.4l0.1 0.2M177.3 450.1l0.7 0.2M230.2 458.3l1.1 0.0M230.2 455.9l0.8 1.0M226.4 451.9l-0.3 1.1M226.9 454.2l1.5 0.0M192.9 429.9l-0.1 0.8M238.8 452.6l1.4 0.5M188.9 429.8l0.2 0.2M191.8 427.2l-0.1 0.0M242.3 443.6l-0.6 1.2M162.8 447.3l-0.4 0.3M160.7 445.5l0.9 1.0M204.4 430.9l-1.0 0.2M249.3 447.4l-0.1 0.2M250.0 445.9l-1.1 0.2M203.7 431.2l0.2 0.2M202.7 430.0l0.3 0.7M177.0 429.8l0.5 0.3M176.3 430.0l-0.1 1.0M175.7 431.3l-0.9 0.6M159.9 433.3l-0.5 0.9M176.6 458.7l0.6 0.8M240.9 456.3l-0.1 0.2M196.1 451.1l-0.2 0.4M158.2 434.5l0.4 1.3M211.2 430.6l-0.6 0.1M192.7 456.1l-0.8 1.0M191.6 455.7l0.1 0.3M188.9 459.2l-0.7 0.6M164.6 440.8l0.3 0.9M187.3 447.4l0.3 0.8M185.8 447.4l-0.1 0.0M178.4 462.5l-0.6 0.3M219.5 439.4l-0.2 0.4M155.3 448.7l0.5 0.9M156.7 447.6l1.1 1.0M232.3 441.3l0.2 0.6M234.7 444.5l-0.0 0.8M191.5 427.0l-0.0 0.0M183.9 444.8l-0.0 0.1M229.9 440.9l-0.0 1.4M230.9 441.6l0.6 0.4M232.6 441.9l-0.4 0.3M168.7 440.5l-0.7 1.3M202.0 446.1l-0.9 0.4M200.3 446.7l0.2 0.0M201.1 450.8l-1.1 0.9M201.9 452.7l0.3 0.4M242.1 454.0l0.3 1.0M210.6 458.7l-0.3 0.0M241.4 443.2l0.4 1.1M200.0 439.2l0.8 1.0M198.0 436.7l-0.0 0.8M174.9 443.6l0.3 0.9M173.4 444.0l0.5 0.6M203.8 446.8l-0.9 0.1M203.4 446.3l-0.0 0.0M205.4 446.8l-0.8 0.4M203.1 447.0l0.2 0.6M194.7 454.7l-0.6 1.2M236.5 436.7l-0.9 1.0M205.5 445.4l0.9 0.2M173.9 433.3l0.8 0.0M180.0 435.2l-0.0 0.1M168.0 442.1l-1.2 0.3M162.1 437.8l1.1 1.0M159.1 443.0l-0.1 0.4M161.9 441.1l-0.6 0.3M209.7 448.0l-0.3 0.5M239.3 454.1l0.7 0.7M186.8 425.1l-0.3 0.4M225.5 433.7l-0.9 0.9M179.6 447.2l-0.1 0.2M178.5 447.1l-0.3 0.2M183.5 436.3l0.0 0.3M200.5 464.7l-0.0 0.0M197.8 468.3l0.5 1.4M198.1 464.2l-0.3 0.2M196.0 461.9l1.1 0.3M172.1 434.9l0.2 0.9M233.3 464.2l0.1 0.1M232.2 460.8l0.6 0.7M175.0 457.3l1.1 0.1M175.4 457.4l0.4 0.4M225.6 435.7l-0.3 1.5" fill="none" stroke="#f2102c" stroke-width="2.2" stroke-linecap="round"/>
<path d="M162.5 444.0l0.1 0.1M211.7 452.5l-0.5 0.5M185.7 465.1l-0.1 0.3M176.5 461.4l0.2 0.1M215.4 427.0l0.4 0.6M249.4 439.1l0.0 0.0M180.6 461.3l-0.6 0.3M207.8 446.2l-0.4 0.5M237.6 456.2l0.0 0.0M212.8 446.5l0.2 0.6M177.7 432.6l-0.7 0.2M158.0 448.9l0.5 0.3M235.8 457.2l0.2 0.7M215.0 451.0l0.4 0.4M172.9 435.6l0.5 0.1M186.6 465.5l-0.4 0.5M156.2 430.0l0.5 0.4M154.3 444.7l-0.1 0.1M203.1 455.0l-0.1 0.3M186.4 459.3l0.1 0.6M186.6 461.3l-0.5 0.1M229.2 450.0l0.5 0.3M211.8 435.0l-0.3 0.5M164.2 457.5l0.3 0.5M196.7 461.1l-0.1 0.2M163.3 452.9l-0.1 0.5M195.7 450.2l-0.1 0.1M223.9 443.7l-0.7 0.2M228.8 462.3l0.6 0.5M198.9 448.2l-0.5 0.2M165.8 441.6l-0.4 0.1M179.5 457.0l-0.1 0.1M196.8 467.4l0.2 0.1M219.5 440.3l-0.2 0.0M184.9 430.9l-0.7 0.0M230.2 455.1l0.6 0.2M231.1 440.1l-0.7 0.3M244.7 454.4l0.5 0.6M191.6 434.0l-0.3 0.6M170.8 453.1l-0.3 0.2M209.2 436.3l0.6 0.0M241.0 435.5l-0.0 0.5M174.6 454.9l0.1 0.7M157.4 450.2l0.3 0.4M179.5 445.2l-0.2 0.5M196.8 454.2l-0.4 0.3M215.9 464.7l0.1 0.0M174.6 446.2l0.5 0.3M223.4 435.5l-0.3 0.3M201.0 422.5l-0.5 0.4M233.2 457.7l0.5 0.6M215.4 466.9l-0.1 0.7M220.3 431.3l0.5 0.2M188.7 460.2l-0.1 0.6M204.7 449.0l-0.7 0.1M222.9 430.2l-0.1 0.1M238.7 456.9l-0.0 0.1M179.7 463.0l0.2 0.7M156.7 436.8l-0.7 0.4M185.6 468.9l-0.0 0.0M209.2 431.9l0.2 0.4M184.7 460.9l-0.3 0.0M237.7 440.9l0.4 0.2M228.5 437.4l-0.1 0.6M252.2 446.4l-0.1 0.1M223.0 464.5l0.1 0.1M203.0 460.2l-0.1 0.2M231.0 450.4l-0.2 0.3M188.1 452.8l-0.3 0.3M227.6 443.0l-0.3 0.1M230.9 449.1l0.5 0.0M214.6 437.1l0.4 0.6M203.2 468.5l0.0 0.0M222.0 449.3l-0.4 0.4M162.1 431.0l-0.1 0.1M185.4 441.4l-0.0 0.0M167.0 437.1l0.3 0.1M157.9 448.0l-0.5 0.3M181.0 425.3l0.1 0.4M159.7 442.8l0.5 0.2M162.8 449.3l-0.2 0.1M219.3 467.4l-0.1 0.0M221.4 464.5l-0.2 0.1M214.0 438.9l0.1 0.3M211.5 462.6l0.2 0.2M191.1 440.1l-0.0 0.2M182.0 448.1l0.2 0.1M229.0 444.4l-0.1 0.1M172.7 450.0l0.5 0.2M198.9 471.1l-0.4 0.3M224.7 451.9l-0.0 0.3M190.1 459.8l-0.1 0.2M165.1 423.5l0.3 0.6M166.1 456.0l-0.1 0.0M242.4 460.1l0.0 0.0M210.7 464.3l-0.6 0.2M209.2 438.4l0.6 0.5M209.7 430.3l-0.1 0.1M186.7 457.1l-0.5 0.3M182.9 444.1l-0.0 0.0M156.4 439.9l-0.7 0.2M214.6 438.3l-0.2 0.1M247.8 449.6l-0.2 0.1M222.4 464.3l-0.0 0.1M175.9 431.7l-0.0 0.1M210.8 462.4l-0.0 0.0M175.7 433.9l-0.4 0.3M237.9 463.5l-0.0 0.3M180.0 465.9l0.6 0.2M228.3 452.9l0.0 0.0M221.0 427.5l0.0 0.0M154.3 440.5l0.0 0.5M196.7 456.2l0.2 0.1M180.7 450.7l0.3 0.3M236.4 440.2l-0.2 0.3M166.0 427.4l-0.1 0.1M188.3 434.3l0.1 0.3M216.0 462.9l-0.0 0.1M208.9 463.9l-0.4 0.6M182.7 452.2l0.3 0.7M243.0 447.7l0.1 0.3M251.0 442.0l-0.8 0.2M245.7 436.7l-0.0 0.0M171.5 448.6l-0.0 0.1M177.3 432.6l0.2 0.5M238.7 429.8l0.5 0.5M188.1 437.2l0.3 0.4M229.9 436.2l0.4 0.6M168.4 440.6l-0.0 0.2M206.9 438.2l-0.6 0.3M185.6 437.8l-0.5 0.2M171.8 461.1l-0.3 0.1M220.5 459.7l-0.4 0.0M210.0 444.4l0.0 0.0M181.9 455.5l-0.7 0.3M211.2 435.7l0.1 0.3M190.7 441.2l0.1 0.0M253.2 443.1l0.6 0.3M226.0 431.6l0.4 0.1M241.9 438.5l-0.2 0.4M228.8 461.0l-0.2 0.3M228.2 456.2l0.1 0.7M232.0 441.8l0.3 0.6M226.7 438.9l0.2 0.0M230.1 464.0l-0.7 0.4M219.7 452.0l0.0 0.1M222.4 459.0l0.2 0.3M243.1 440.8l0.5 0.1M219.6 463.3l0.2 0.1M204.6 430.7l0.2 0.5M181.5 436.7l-0.1 0.3M201.9 448.2l0.1 0.1M173.5 451.7l-0.2 0.3M173.9 442.7l0.0 0.0M226.3 439.4l0.2 0.4M238.1 445.2l-0.0 0.0M222.6 426.2l-0.4 0.3M224.0 453.9l0.3 0.0M197.4 463.9l0.1 0.2M242.7 447.8l-0.2 0.1M206.5 431.3l0.3 0.0M188.1 423.5l0.4 0.5M230.2 439.5l0.6 0.2M212.6 434.8l-0.2 0.6M193.5 468.1l-0.5 0.2M208.3 449.1l-0.0 0.1M180.1 464.6l-0.2 0.2M232.7 436.4l-0.0 0.4M166.8 447.8l0.3 0.7M213.3 437.0l0.0 0.1M196.2 425.9l-0.0 0.3M201.8 425.9l-0.0 0.0M198.7 460.4l0.2 0.6M201.6 462.8l-0.2 0.0M176.7 437.5l-0.5 0.1M216.1 446.2l0.5 0.5M225.8 427.8l-0.3 0.2M203.9 422.9l-0.4 0.1M190.9 450.0l-0.1 0.4M222.1 461.7l-0.2 0.1M191.5 450.1l0.6 0.2M206.7 446.0l0.1 0.2M212.0 461.0l-0.2 0.4M233.5 438.7l0.3 0.5M229.3 441.1l0.3 0.7M152.7 439.9l-0.4 0.0M185.7 441.5l-0.3 0.1M174.1 448.5l-0.0 0.7M161.3 452.6l-0.0 0.0M180.7 441.2l-0.6 0.3M165.5 453.7l0.1 0.1M230.7 438.5l-0.5 0.2M223.6 440.7l0.4 0.5M227.0 444.5l-0.0 0.1M166.2 428.0l-0.0 0.1M200.9 454.0l-0.3 0.3M192.2 447.0l-0.1 0.2M186.2 457.4l0.1 0.1M174.9 423.8l0.6 0.4M224.2 460.8l0.1 0.0M224.3 431.0l0.1 0.0M184.9 432.9l-0.3 0.2M227.5 449.7l0.1 0.2M224.2 438.6l-0.1 0.8M242.0 452.9l0.6 0.4" fill="none" stroke="#1216ff" stroke-width="2.3" stroke-linecap="round"/>
<path d="M228.5 435.9l-0.1 0.4M194.1 467.2l0.1 0.0M183.8 439.7l0.2 0.2M216.7 460.1l-0.5 0.1M241.6 458.1l0.1 0.3M186.6 423.8l0.1 0.3M197.1 465.2l0.4 0.1M171.3 456.5l0.4 0.1M227.7 438.6l-0.1 0.5M237.6 445.2l0.2 0.1M194.1 421.4l0.4 0.1M235.8 448.7l-0.2 0.1M163.0 432.8l-0.1 0.2M242.1 445.4l0.1 0.1M229.3 440.4l0.3 0.2M221.8 458.9l-0.2 0.1M202.0 453.6l-0.2 0.3M219.0 444.6l-0.0 0.1M219.5 427.3l0.3 0.2M199.9 439.4l0.2 0.1M214.1 438.2l-0.1 0.1M171.2 437.9l-0.4 0.2M161.5 440.3l-0.0 0.0M203.8 459.9l0.2 0.1M194.9 432.3l-0.2 0.0M237.3 451.9l0.0 0.0M181.8 455.7l-0.0 0.2M232.4 430.2l-0.1 0.1M209.0 469.0l-0.3 0.2M206.0 442.0l-0.0 0.0M173.5 457.9l0.1 0.2M229.3 462.5l0.1 0.1M164.5 458.7l-0.2 0.3M202.8 424.0l0.1 0.2M227.3 436.8l-0.2 0.1M184.2 430.7l0.3 0.3M196.5 463.1l0.3 0.2M211.9 439.6l0.0 0.1M246.4 438.8l-0.3 0.3M197.3 440.8l0.1 0.1M168.2 430.2l-0.0 0.2M241.1 433.5l-0.0 0.2M199.7 442.3l-0.1 0.1M183.0 438.2l-0.2 0.2M187.9 440.4l0.0 0.1M164.1 429.3l0.3 0.2M198.4 441.9l0.2 0.1M174.0 427.2l-0.0 0.0M188.0 426.8l0.4 0.1M196.0 468.5l-0.0 0.1M195.1 456.7l-0.2 0.2M236.4 464.2l0.3 0.2M189.8 432.2l-0.1 0.3M172.1 436.4l0.2 0.2M167.5 452.1l-0.1 0.5M171.0 427.8l-0.2 0.1M171.6 439.6l-0.0 0.2M244.3 432.5l0.0 0.0M245.5 451.6l-0.0 0.0M239.0 445.8l0.1 0.2M204.9 439.5l0.4 0.2M186.2 438.3l0.0 0.0M229.9 436.7l-0.2 0.0M169.8 458.9l0.0 0.0M213.9 456.2l-0.5 0.1M202.9 443.2l0.3 0.1M192.0 439.3l0.0 0.1M176.4 458.1l-0.1 0.2M203.0 462.5l0.4 0.2M175.4 456.7l0.2 0.1M209.6 442.6l0.0 0.1M202.7 465.7l0.1 0.1M164.6 443.7l0.0 0.1M162.7 446.7l0.3 0.1M202.4 462.9l-0.1 0.1M224.3 431.8l-0.0 0.1M159.7 450.7l-0.0 0.0M209.6 456.0l0.4 0.1M197.7 442.9l0.1 0.0M248.5 440.0l0.1 0.1M207.7 429.2l-0.1 0.3M181.6 450.7l0.0 0.5M217.4 439.6l-0.3 0.0M251.8 443.6l0.1 0.2M206.3 442.1l0.2 0.4M223.7 458.9l0.4 0.3M216.7 439.2l0.1 0.1M209.1 442.4l-0.0 0.0M205.1 422.4l-0.1 0.4M254.5 448.0l-0.0 0.0M232.0 445.7l-0.3 0.3M225.1 451.3l-0.4 0.0M197.8 451.2l0.0 0.1M186.8 427.2l0.1 0.1M205.3 442.8l0.0 0.3M214.0 457.9l0.3 0.1M176.7 444.7l-0.5 0.1M207.1 446.0l0.0 0.0M161.5 440.4l0.2 0.0M186.7 467.4l0.1 0.4M188.7 443.1l-0.1 0.5M226.7 441.1l-0.0 0.0" fill="none" stroke="#1216ff" stroke-width="1.5" stroke-linecap="round"/>
</g>
</g>
<clipPath id="cp2"><rect x="263.9" y="390.8" width="114.8" height="105.69999999999999"/></clipPath>
<g clip-path="url(#cp2)">
<rect x="263.9" y="390.8" width="114.8" height="105.69999999999999" fill="#000"/>
<path d="M354.3 432.6l-0.1 0.4M263.9 406.7l0.2 1.3M372.2 400.6l-0.2 0.5M362.2 476.1l-0.2 0.6M277.8 473.9l-0.0 0.1M284.6 464.1l0.0 0.1M313.1 494.7l0.1 1.2M360.2 481.2l0.5 0.1M372.4 457.8l-0.1 0.4M310.9 400.6l-0.7 1.0M350.5 481.8l0.1 1.2M331.1 468.8l-0.1 0.4M268.9 482.1l-0.8 0.2M291.4 414.3l0.3 1.0M342.9 393.1l-0.1 0.3M285.3 480.9l0.7 0.6M273.7 413.0l0.0 1.0M296.4 396.2l-0.1 0.2M279.8 451.8l-0.2 0.3M365.6 393.7l-0.6 0.2M282.1 474.5l-0.2 0.3M376.9 433.8l-0.3 0.1M351.5 475.6l-0.9 0.4M349.0 404.4l0.0 0.0M290.3 420.4l0.0 0.1M350.3 488.9l0.1 0.2M264.3 460.9l0.2 0.5M350.0 409.2l-0.0 0.2M331.8 491.2l0.0 0.0M357.3 394.4l-0.5 1.1M355.5 459.1l0.0 1.0M375.4 438.2l-0.3 0.4M314.1 410.5l-0.8 0.3M329.2 496.3l-0.4 0.5M331.3 482.3l0.2 0.1M347.8 495.4l0.1 0.7M363.7 400.2l0.5 1.1M362.2 396.7l0.4 0.2M300.6 484.7l-0.1 0.3M370.3 407.1l0.7 0.9M377.6 413.4l-0.0 0.6M329.4 472.5l-0.4 0.4M295.6 414.2l1.3 0.2M278.4 436.3l-1.1 0.3M373.0 420.1l-0.7 0.6M319.8 418.9l-0.1 0.3M291.3 403.5l0.3 0.1M264.1 429.2l-0.4 0.4M305.9 399.9l-0.4 1.0M344.8 413.4l0.1 0.0M313.3 490.4l0.7 0.6M371.8 439.6l-0.5 0.3M361.4 403.8l-0.9 0.1M272.9 437.3l-0.1 0.3M364.0 434.8l-0.8 0.7M304.3 395.1l-0.2 0.5" fill="none" stroke="#0808ff" stroke-width="2.2" stroke-linecap="round"/>
<path d="M343.5 479.2l-0.7 1.0M331.9 415.0l-0.0 0.0M370.7 477.2l0.5 0.6M366.0 458.7l-0.5 0.1M272.7 473.1l-1.0 0.0M345.8 423.0l0.9 0.7M338.6 430.4l-0.7 1.0M270.7 429.9l0.2 0.3M299.3 490.0l-0.2 0.1M343.8 417.3l0.5 0.9M269.7 417.2l-0.3 0.1M349.2 430.7l-0.4 0.7M359.8 459.6l0.0 0.4M267.7 424.5l-0.6 0.6M339.8 486.0l0.6 0.0M371.5 395.0l-0.4 0.2M264.6 412.3l1.2 0.4M324.1 395.7l-0.2 0.1M296.7 492.7l-0.0 0.1M362.0 469.5l-1.2 0.3M293.4 463.6l-0.5 0.7M324.1 483.0l0.2 0.1M275.9 462.0l0.4 0.5M370.5 471.9l-0.1 1.3M348.8 426.8l-0.3 1.2M283.5 450.3l0.4 0.0M375.3 426.5l1.1 0.2M281.1 416.2l-0.1 0.2M377.8 460.7l-0.9 0.6M345.6 475.0l-0.4 0.3M319.9 472.5l-0.3 0.6M373.0 446.7l0.0 0.1M371.5 465.7l0.6 0.3M265.7 445.9l-0.2 0.6M266.1 418.6l0.4 0.2M321.7 495.6l0.6 1.0M358.8 419.3l-0.1 0.8M324.3 418.4l1.0 0.4M308.9 417.0l0.8 0.8M366.6 486.3l0.0 0.3M309.4 470.1l-0.1 0.2M337.0 399.7l-0.0 0.0M353.5 421.7l0.1 0.9M290.3 481.4l1.1 0.4M310.8 483.4l1.0 0.3M368.9 436.5l-0.7 0.5M287.2 488.3l-0.3 0.3M293.9 468.8l0.1 0.2M371.7 415.6l0.2 0.5M289.3 463.5l-0.4 0.8M266.9 490.5l-0.4 0.8M295.0 481.4l0.2 0.3M326.0 410.6l0.1 0.1M286.3 408.1l0.4 0.7M279.4 419.7l0.0 1.0M284.7 397.7l0.3 0.8M291.3 398.6l-0.4 0.4M276.8 391.4l-1.0 0.7M276.7 446.4l-0.2 0.0M265.8 486.1l1.2 0.4M287.2 401.7l0.2 0.4M267.1 471.9l0.3 0.6M273.4 449.2l0.1 0.4M364.3 422.1l-0.1 0.7M317.2 483.5l0.4 0.9M375.0 392.8l0.0 0.0M338.0 425.8l0.5 0.8M335.7 420.6l0.1 0.2M285.4 413.3l-0.5 0.5M360.5 431.3l-0.3 0.0M334.4 429.3l0.0 0.0M321.8 467.2l-0.0 0.1M362.6 409.9l-1.0 0.8M299.1 412.3l0.5 0.2M270.7 485.3l1.2 0.5M337.2 411.9l0.2 0.1M355.1 486.9l0.1 0.9M264.9 450.3l-0.6 0.3M272.3 455.3l0.1 0.0M345.3 486.1l-0.1 0.5M296.5 472.8l-0.3 1.2M375.6 480.0l-0.3 0.0M366.6 470.2l-0.3 0.4M377.3 494.4l-0.4 1.0M271.6 496.5l0.2 0.4" fill="none" stroke="#0808ff" stroke-width="2.8" stroke-linecap="round"/>
<path d="M291.0 486.1l-0.7 0.9M340.0 462.6l0.3 1.0M369.7 443.7l0.1 0.2M267.3 455.2l-0.1 0.1M309.7 492.4l-0.0 0.1M345.2 465.3l-1.1 0.7M360.9 414.4l-0.0 0.0M336.7 494.6l-0.3 0.9M301.9 415.6l-0.3 0.2M264.9 395.6l-0.9 0.4M339.0 391.2l0.1 0.3M360.6 427.4l-0.5 0.3M275.2 482.3l0.2 0.5M281.1 432.6l0.0 0.0M334.8 408.7l0.4 0.0M317.0 413.8l-0.2 1.2M325.2 414.3l-0.4 0.2M349.8 417.9l-0.5 0.3M320.2 396.2l-0.0 0.2M341.9 425.4l0.1 0.5M342.2 401.9l0.4 0.1" fill="none" stroke="#0808ff" stroke-width="3.4" stroke-linecap="round"/>
<path d="M321.3 403.2l-0.4 0.7M355.8 470.4l1.0 0.5M288.5 395.0l0.0 0.3M277.7 424.0l1.0 0.4M282.1 404.7l0.7 0.5M360.5 493.3l0.2 0.2M305.6 410.1l0.9 0.5M270.5 464.2l-0.2 0.9M304.7 419.9l0.1 0.0M338.8 473.5l-0.4 0.5M372.0 451.7l-0.9 0.1M335.2 489.1l-1.1 0.6M376.4 401.7l0.7 0.8M333.0 402.5l-0.8 0.5M270.8 459.1l0.1 0.0M365.4 481.9l0.1 0.1M323.6 491.2l-0.8 0.0M350.9 398.2l-1.0 0.6M310.6 392.3l0.5 0.2M342.9 468.5l0.4 0.7M355.1 426.7l-0.1 1.2M372.9 486.3l-0.7 1.1M273.6 407.5l0.5 0.4M274.5 478.4l0.4 0.0M270.0 394.0l-0.7 0.9M313.4 477.4l0.3 0.5M362.9 485.1l-0.1 1.1M301.5 407.8l0.0 1.1M366.5 495.5l0.2 0.6M338.2 416.3l-0.3 0.1M295.0 404.7l-0.2 0.9M314.1 420.6l-0.6 0.3M279.1 482.1l0.3 1.2M282.9 456.6l-0.7 0.8M356.7 478.7l-0.2 0.2M330.3 405.7l0.8 0.3M354.4 407.8l0.8 0.7M316.4 400.2l0.6 0.1M369.0 428.6l0.9 0.7M270.7 442.5l0.9 0.3M328.6 485.4l-1.1 0.5M280.7 398.4l0.6 1.1M369.3 480.8l0.3 0.4M283.5 423.6l0.0 0.0M308.4 404.0l0.3 0.0" fill="none" stroke="#0505c0" stroke-width="1.9" stroke-linecap="round"/>
<path d="M290.4 468.3h0M301.8 408.4h0M369.3 418.9h0M366.3 495.2h0M267.5 469.1h0M367.5 450.8h0M275.3 467.1h0M290.5 396.7h0M366.8 469.3h0M345.9 404.8h0M318.3 494.6h0M369.3 430.0h0M366.6 449.8h0M329.0 408.1h0M366.8 404.4h0M286.4 414.6h0M367.5 410.3h0M374.2 418.2h0M279.0 399.3h0M315.3 481.2h0M363.5 490.0h0M358.1 486.3h0M338.4 396.1h0M317.3 485.9h0M276.8 441.3h0M353.9 495.0h0M372.6 436.9h0M355.8 477.0h0M331.7 486.5h0M269.1 417.1h0M304.9 392.8h0M307.6 393.4h0M269.9 474.7h0M335.0 425.6h0M350.5 467.2h0M350.1 478.3h0M358.4 463.8h0M299.1 401.7h0M353.6 464.3h0M378.4 421.1h0M306.3 401.4h0M353.9 459.3h0M284.5 409.7h0M314.4 409.1h0M300.8 466.5h0M286.2 407.7h0M364.4 423.8h0M327.3 468.3h0M294.4 418.0h0M309.7 408.9h0M306.0 397.2h0M303.4 493.5h0M288.3 420.4h0M336.3 471.1h0M283.1 407.9h0M274.6 451.8h0M274.9 414.1h0M271.2 427.3h0M361.9 422.2h0M366.6 453.7h0M354.9 405.0h0M372.8 409.3h0M328.7 492.5h0M298.6 411.0h0M321.3 410.5h0M372.5 434.8h0M364.4 412.1h0M268.0 456.4h0M342.4 492.0h0M358.5 423.7h0M311.3 409.5h0M313.2 398.3h0M378.3 481.5h0M361.4 412.6h0M337.1 466.2h0M275.0 405.4h0M310.5 395.3h0M278.7 493.1h0M272.1 415.9h0M367.5 395.5h0M352.6 408.8h0M302.1 478.1h0M359.9 476.1h0M302.0 490.9h0M354.4 486.9h0" fill="none" stroke="#0606b0" stroke-width="1.2" stroke-linecap="round"/>
<clipPath id="ic2"><path d="M280.7,441.3C280.5,437.6 281.9,434.2 284.0,431.2C286.1,428.2 289.3,425.3 293.0,423.4C296.7,421.5 301.9,420.2 306.4,420.0C310.9,419.8 315.7,420.8 319.8,422.3C323.9,423.8 326.5,427.3 331.0,429.0C335.5,430.7 341.8,430.8 346.6,432.3C351.4,433.8 356.6,435.7 360.0,437.9C363.4,440.1 366.7,442.9 366.7,445.7C366.7,448.5 363.4,452.2 360.0,454.6C356.6,457.0 351.8,458.3 346.6,460.2C341.4,462.1 335.0,464.5 328.7,465.8C322.4,467.1 314.6,468.6 308.6,468.0C302.7,467.4 296.9,464.9 293.0,462.5C289.1,460.1 287.2,457.0 285.2,453.5C283.1,450.0 280.9,445.0 280.7,441.3Z"/></clipPath>
<path d="M280.7,441.3C280.5,437.6 281.9,434.2 284.0,431.2C286.1,428.2 289.3,425.3 293.0,423.4C296.7,421.5 301.9,420.2 306.4,420.0C310.9,419.8 315.7,420.8 319.8,422.3C323.9,423.8 326.5,427.3 331.0,429.0C335.5,430.7 341.8,430.8 346.6,432.3C351.4,433.8 356.6,435.7 360.0,437.9C363.4,440.1 366.7,442.9 366.7,445.7C366.7,448.5 363.4,452.2 360.0,454.6C356.6,457.0 351.8,458.3 346.6,460.2C341.4,462.1 335.0,464.5 328.7,465.8C322.4,467.1 314.6,468.6 308.6,468.0C302.7,467.4 296.9,464.9 293.0,462.5C289.1,460.1 287.2,457.0 285.2,453.5C283.1,450.0 280.9,445.0 280.7,441.3Z" fill="#25c03a" stroke="#25c03a" stroke-width="1.0"/>
<g clip-path="url(#ic2)">
<path d="M318.6 437.5l0.3 0.3M312.3 446.5l0.0 0.2M311.4 430.8l-0.4 0.5M307.0 458.4l-0.4 0.5M326.6 457.0l0.0 0.0M323.6 450.3l1.4 0.5M336.5 441.8l-0.4 0.2M357.0 455.4l-0.6 0.7M299.1 462.1l-1.4 0.4M318.0 463.1l0.7 0.7M359.9 452.0l1.2 0.8M290.1 455.3l-1.0 0.7M307.3 434.4l0.7 0.4M313.8 456.7l-0.5 0.1M309.2 425.8l-0.4 0.5M284.4 448.4l-0.9 0.6M341.2 431.6l-0.2 0.1M338.2 450.8l0.4 0.7M349.9 448.6l0.1 0.2M287.9 429.8l0.7 1.0M327.2 452.4l-0.3 0.0M348.3 455.8l-0.3 1.4M330.2 443.4l-0.6 0.6M333.2 439.0l-0.7 0.4M359.4 451.9l1.1 0.2M307.9 423.7l0.2 0.1M326.6 441.0l-0.8 1.2M315.1 460.5l0.0 0.3M305.3 438.0l-0.1 0.1M347.0 438.3l-0.1 0.4M312.1 451.0l0.3 0.8M308.5 439.2l0.7 0.2M308.2 454.2l0.7 1.0M346.9 451.4l0.3 1.4M303.4 452.3l0.2 0.2M346.4 434.8l0.5 1.1M288.8 457.1l-1.1 1.0M308.7 455.8l-0.2 0.6M341.1 453.4l-0.2 0.4M353.9 453.8l0.1 0.2M306.0 445.1l-0.0 0.4M361.6 449.2l0.0 0.2M353.3 450.3l0.1 0.5M327.5 451.0l0.3 0.5M335.0 443.5l1.1 0.6M293.2 455.1l0.2 0.2M313.3 437.3l1.1 0.5M324.9 460.7l0.2 0.1M288.1 430.2l-0.6 1.3M353.1 449.1l0.9 0.1M296.5 437.4l0.1 0.0M324.8 459.3l-1.0 0.8M298.5 424.2l0.2 0.1M304.0 447.8l0.5 1.4M312.2 452.7l-0.0 0.9M304.5 464.2l0.0 0.6M315.3 428.1l-0.7 1.1M295.5 445.1l1.0 0.3M310.5 442.4l0.0 1.2M297.7 450.6l-0.1 0.4M357.3 441.0l-0.9 0.0M336.0 434.9l-0.6 0.6M312.5 444.7l-0.6 0.1M300.6 425.6l1.0 0.7M287.1 428.6l-0.8 0.8M301.9 429.5l0.1 0.0M337.5 438.5l0.3 0.3M299.2 424.9l-0.2 0.1M328.3 448.9l0.9 0.1M364.4 448.0l-0.1 0.0M310.9 426.9l1.5 0.1M302.5 430.4l0.3 0.3M295.5 455.0l-0.2 0.9M332.1 443.7l-1.0 0.2M306.5 448.2l0.0 0.0M333.1 442.2l1.0 0.9M316.6 455.6l-0.1 0.9M294.6 427.5l1.0 0.8M325.3 455.8l0.7 0.8M303.6 421.3l0.8 0.2M304.5 439.8l0.1 0.2M313.1 441.8l0.7 1.3M358.0 440.4l0.0 0.0M314.8 453.3l-0.5 0.7M327.0 457.5l-0.5 0.4M305.7 457.5l0.3 0.4M305.5 466.4l-1.2 0.1M309.2 444.5l-0.5 0.5M341.9 432.6l1.3 0.4M315.3 439.7l0.1 0.1M310.7 426.6l0.7 0.6M313.4 422.3l-0.3 0.2M301.6 462.8l0.5 0.5M299.5 463.4l-0.2 0.4M355.0 446.8l0.9 0.9M300.3 433.0l0.4 0.1M311.3 462.9l-0.1 0.1M348.7 458.3l1.0 0.1M362.1 447.1l-0.1 0.1M295.9 456.0l0.6 1.3M300.3 460.6l-0.1 0.2M314.5 426.2l0.5 0.5M349.9 444.4l0.6 1.3M287.4 431.7l0.1 1.1M306.9 427.6l-0.3 0.0M300.7 430.8l-0.3 1.3M330.6 443.9l-0.4 0.5M323.1 445.3l0.3 1.2M312.2 443.6l0.0 0.0M335.8 448.8l0.5 1.0M302.9 441.7l0.3 1.0M352.6 452.9l-0.5 0.5M347.2 445.4l-0.5 0.7M301.0 464.1l-0.5 0.6M305.4 430.2l1.0 0.6M339.4 446.5l0.1 0.2M303.4 460.4l-0.0 0.2M298.2 462.7l-0.7 1.1M300.6 426.7l0.7 0.2M332.7 452.3l0.1 0.1M327.6 438.4l1.1 0.2M328.2 460.8l-0.0 0.0M288.4 436.4l-0.2 0.1M302.0 434.8l0.6 0.2M316.7 446.3l-0.4 0.5M335.6 458.4l0.2 0.1M305.2 458.8l0.1 0.1M288.0 441.5l0.6 0.8M348.6 451.4l1.2 0.3M313.7 452.9l0.2 0.3M365.0 444.0l0.0 0.5M339.8 438.3l-0.6 0.2M328.0 437.1l-1.0 0.5M292.9 434.1l-0.3 0.5M355.8 453.6l-1.0 0.6M286.8 452.5l0.4 0.6M353.6 441.9l0.0 0.4M304.8 461.8l0.3 0.1M313.4 453.1l-0.8 0.0M313.7 455.6l0.1 0.5M349.9 436.8l0.6 0.1M283.0 437.6l-0.9 0.8M327.4 431.8l0.8 0.3M353.4 438.9l0.2 0.4M307.8 432.3l-0.0 1.0M341.3 445.3l0.2 0.2M309.4 466.8l-0.5 0.2M330.9 438.7l-0.1 0.1M349.3 449.0l1.2 0.2M286.4 442.3l0.1 0.1M358.5 440.7l-0.2 0.5M353.9 451.9l-0.4 1.2M357.5 452.6l0.0 0.0M332.0 460.2l-0.7 0.3M339.5 438.7l-0.7 1.2M347.7 457.2l0.2 0.1M284.4 431.4l-0.4 0.2M340.9 439.7l0.7 1.2M283.5 437.1l-0.5 0.1M344.3 434.1l-1.3 0.7M295.6 433.8l-0.1 0.4M320.8 435.8l-0.0 0.5M341.6 433.3l0.4 0.7M295.8 460.1l0.4 0.7M304.1 442.8l-1.5 0.1M291.9 425.4l-0.2 0.2M319.2 437.8l-0.3 0.3M293.5 453.3l0.4 0.6M316.7 435.7l-1.5 0.1M320.2 429.6l0.5 1.1M317.1 443.4l-0.5 0.7M290.0 458.3l-0.0 0.5M300.1 454.7l-0.2 0.0M337.8 446.3l-1.1 0.1M295.6 425.2l-0.1 0.4M327.8 460.4l-0.7 0.5M316.2 425.6l0.2 0.4M316.9 441.2l-0.1 0.0M306.0 445.8l0.6 0.3M320.5 463.3l-0.3 0.8M321.0 423.6l-0.1 0.8M304.1 453.1l-0.0 0.2M292.2 451.0l1.3 0.4M347.8 450.5l-0.2 0.1M311.7 421.5l1.3 0.2M336.8 461.0l0.3 0.3M333.1 436.1l0.5 0.3M362.5 444.6l0.2 0.4M294.2 458.0l-0.3 0.0M301.7 447.9l0.1 1.0M351.3 452.1l0.0 0.2M311.9 453.9l0.7 0.1M295.8 458.4l-0.1 0.0M328.6 437.4l-0.3 0.8M285.0 451.1l0.0 0.8M315.2 458.8l0.0 0.0M321.9 441.4l-1.2 0.2M340.4 443.7l-0.2 0.1M347.4 445.3l-0.3 0.3M323.3 453.9l-0.1 0.0M300.8 444.8l0.2 0.4M350.3 435.3l0.0 0.0M340.8 435.4l0.1 0.1M305.9 422.3l-1.1 0.0M345.2 456.3l-0.4 0.0M291.8 441.4l0.6 0.4M347.2 433.3l-0.2 0.7M301.0 446.1l0.0 0.1M359.8 438.6l-0.0 0.0M302.5 444.8l-0.9 0.7M318.2 431.1l0.6 1.3M349.8 433.9l0.9 0.6M294.4 452.0l0.1 1.0M321.4 424.8l0.1 0.6M354.0 451.4l-0.0 1.5M309.3 448.3l0.1 0.4M315.5 425.4l-0.2 0.5M297.9 425.9l0.5 0.1M345.2 443.8l1.0 0.6M332.1 459.1l-0.0 0.1M293.9 459.0l-0.6 0.7M302.9 426.8l-0.5 0.1M303.9 453.2l-0.0 0.0M342.0 445.2l-0.1 0.7M339.1 434.6l-0.1 1.2M312.4 449.2l-1.1 0.2M302.7 450.7l-0.2 0.2M338.5 441.2l0.5 0.1M310.8 459.2l0.8 0.3M325.0 457.7l0.5 1.1M317.7 445.8l0.2 0.2M314.4 445.7l0.1 0.2M337.6 449.9l0.1 0.1M323.7 432.9l-0.1 0.0M298.2 446.1l-0.6 0.6M347.6 434.6l0.6 0.3M317.2 446.4l0.7 0.4M302.8 435.7l0.3 1.1M306.6 437.4l-0.8 1.0M346.3 441.2l-0.5 0.1M345.6 446.6l0.7 0.8M361.8 446.4l-0.1 0.0M356.5 445.9l0.5 1.1M316.7 425.6l-0.0 0.5M328.5 442.3l0.7 0.4M317.3 452.1l-0.2 0.8M353.7 447.7l-0.1 0.8M338.1 455.5l-1.0 0.0M326.9 448.8l-0.0 0.9M351.9 443.9l1.0 0.5M347.0 451.7l-0.8 0.8M312.0 445.0l-0.2 0.3M320.0 444.1l-0.3 0.7M324.5 463.7l-0.2 0.2M354.3 441.7l-0.1 0.2M310.5 426.9l0.7 0.4M354.4 442.1l0.4 0.4M337.9 433.8l-1.0 0.8M331.6 454.3l-0.3 1.3M334.7 439.8l-0.5 0.5M316.8 443.3l-0.5 0.0M302.4 434.4l-1.0 0.6M307.3 461.0l-1.3 0.3M341.6 435.0l-1.3 0.4M327.4 440.7l-0.2 0.4M324.3 466.1l-0.5 0.6M292.8 446.9l-0.2 1.0M284.2 448.7l-0.1 0.1M330.6 429.9l-0.4 1.0M301.8 459.4l-1.1 0.0M349.4 433.7l-1.2 0.6M316.7 454.7l-1.1 0.9M295.6 433.5l-0.1 0.6M322.7 453.9l0.0 0.9M304.0 457.0l-1.0 0.1M304.0 444.8l-0.5 0.0M287.8 437.3l-0.7 1.2M301.5 447.3l-0.4 1.1M315.0 451.4l-0.7 0.3M308.2 466.0l-0.3 1.5M355.9 453.7l0.3 0.2M300.1 424.1l1.1 0.2M362.1 448.3l0.7 1.3M304.9 440.6l-0.3 0.1M345.9 440.7l1.2 0.1M289.6 456.8l-0.2 0.1M326.4 442.4l-0.5 0.0M320.9 451.7l0.0 0.2M293.9 441.6l0.3 0.2M323.2 431.4l0.3 0.2M307.9 433.5l-0.9 0.2M297.7 434.3l0.5 0.1M307.7 451.6l-0.0 0.0M306.5 429.8l0.7 0.5M345.5 441.5l0.4 1.2M284.7 448.9l-0.2 0.4M346.3 452.2l0.6 0.8M307.5 444.5l0.3 1.4M341.9 432.3l0.4 1.0M308.8 434.2l-0.5 0.2M337.8 453.6l0.7 0.5M303.7 443.5l-0.8 0.3M290.3 426.2l-0.6 1.2M333.9 459.5l-0.1 0.9M311.0 453.5l0.8 0.4M315.1 467.2l-0.2 0.2M303.2 439.5l-0.3 0.2M337.0 459.1l-0.4 0.2M287.1 446.0l-0.5 0.3M323.2 438.8l0.4 0.3M335.9 449.7l-0.8 0.3M320.7 429.7l0.8 0.7M322.7 452.6l-0.2 0.1M286.0 444.4l0.8 0.8M364.1 445.9l0.2 0.1M284.5 442.3l0.2 0.9M348.5 439.1l-0.5 0.2M314.5 446.3l0.2 0.1M311.4 421.1l1.5 0.1M334.1 460.9l-0.4 0.9M285.8 439.0l0.6 0.4M351.0 439.8l0.9 0.5M301.7 457.7l-0.3 0.1M292.4 453.1l-0.8 0.1M355.9 451.6l-0.9 0.5M295.0 427.6l0.2 0.2M330.8 460.1l-0.3 0.0M294.0 431.3l-0.5 1.1M340.2 442.0l-0.3 1.0M332.7 429.7l0.3 0.2M341.2 432.8l-0.3 0.3M327.3 435.7l0.8 0.4M306.4 464.3l-0.5 0.4M303.5 428.4l-0.2 0.1M305.0 432.2l0.6 0.8M358.0 438.6l0.1 0.2M325.2 437.0l-0.6 0.3M338.6 458.1l-0.9 0.3M317.9 463.9l0.2 0.2M360.3 439.2l0.2 0.4M344.4 436.4l-1.0 0.3M324.0 440.0l-1.2 0.0M300.1 426.6l-0.2 0.4M313.3 458.8l-1.2 0.3M313.5 465.6l-0.3 0.0M310.5 440.0l0.0 0.0M327.2 459.6l-1.0 0.5M314.5 430.9l0.0 0.1M330.2 457.7l0.3 0.6M299.6 457.3l0.9 0.3M300.3 456.4l0.9 0.6M312.7 466.0l0.9 1.1M316.0 423.9l-0.8 0.2M328.5 457.0l1.1 0.6M313.1 450.6l0.9 0.0M319.8 463.2l-1.2 0.7M352.0 456.6l-0.5 0.4M320.6 463.1l-1.2 0.6M289.4 447.2l-0.2 1.0M301.6 439.2l0.3 0.7M304.6 442.3l-0.2 0.1M341.8 460.5l-0.7 0.1M336.0 457.6l-0.1 0.1M306.1 441.4l-0.1 1.1" fill="none" stroke="#06300e" stroke-width="1.8" stroke-linecap="round"/>
<path d="M325.9 440.7l0.1 0.1M323.4 451.0l-0.6 0.5M321.6 452.0l-1.5 0.9M319.3 450.3l1.4 0.0M322.9 453.3l0.7 1.0M327.3 435.5l-0.5 1.4M325.0 439.4l-0.2 0.3M323.1 436.7l0.4 0.4M312.7 434.1l0.3 0.4M331.3 437.6l0.2 0.3M332.3 437.0l0.0 0.4M327.9 434.6l0.7 0.0M332.0 448.3l0.0 0.1M328.3 455.1l-0.3 1.6M325.6 456.0l0.2 1.1M314.8 438.7l-0.5 0.8M316.0 438.0l0.2 1.0M319.3 438.2l0.1 1.6M312.4 444.2l0.8 0.1M326.1 441.6l0.4 1.4M333.9 455.1l-0.0 0.1M332.7 456.3l-1.5 0.2M332.0 455.9l-0.1 0.6M306.1 445.8l0.0 1.7M304.5 442.2l-0.7 0.2M305.2 444.6l-0.5 0.2M306.9 446.1l0.2 0.9M322.4 439.7l0.7 1.0M316.0 440.1l-0.2 1.5M322.7 440.8l-0.3 0.4M305.9 450.1l0.9 0.5M305.5 446.0l0.4 0.2M311.0 438.0l0.3 0.7M310.0 435.1l1.2 1.3M307.8 444.4l-0.1 0.8M307.9 444.8l-0.2 0.9M310.3 445.0l-0.3 0.0M309.8 444.5l1.0 1.1M311.9 459.0l0.1 0.2M307.6 457.5l-0.0 0.1M310.0 456.8l1.3 0.1M310.6 459.8l0.3 1.3M318.4 456.1l0.2 0.1M318.1 453.0l-0.2 0.4M308.5 443.6l-0.3 0.2M348.5 448.2l-0.3 0.1M308.0 439.9l-0.8 0.4M320.9 459.3l-1.2 1.2M303.2 450.9l-0.9 0.6M306.5 448.2l-1.1 0.7M317.5 451.7l0.9 0.9M314.1 452.8l-1.1 0.6M314.3 448.7l0.2 0.3M322.9 445.8l-0.3 0.2M323.1 443.8l0.3 0.5M322.5 442.1l0.9 0.0M310.3 444.1l0.5 1.5M315.3 449.4l0.4 1.4M325.4 443.2l-1.2 1.3M296.4 442.5l1.3 0.8M294.5 439.5l0.4 0.4M296.5 442.8l1.7 0.5M296.1 439.5l-0.4 0.1M313.5 436.6l-0.2 0.0M311.9 434.6l1.6 0.3M326.9 444.2l-1.0 0.5M327.4 446.2l-0.7 1.5M326.6 445.8l-1.3 0.2M309.8 451.4l0.1 0.1M320.4 444.1l0.9 0.3M318.1 442.8l1.3 1.2M333.8 451.1l0.8 0.9M332.2 451.0l-0.1 1.6M302.3 441.1l-0.9 0.0M302.7 440.7l0.6 0.0M302.9 441.5l0.7 0.6M319.9 452.4l-0.8 0.3M320.2 451.7l-0.0 0.7M311.7 447.8l0.9 0.3M313.0 448.1l-1.0 0.7M321.2 441.9l1.1 0.2M311.7 444.7l0.1 0.1M321.3 432.7l-0.4 0.2M324.3 435.6l1.6 0.4M322.8 432.4l0.2 0.8M321.3 438.2l-0.2 0.6M318.8 437.7l1.0 1.0M318.4 439.0l-1.0 1.4M343.4 448.2l-0.0 0.0M345.2 444.6l-0.1 1.7M325.8 446.1l-0.2 1.0M324.2 447.6l-0.1 0.4M310.0 445.5l-1.3 0.2M312.0 447.6l-0.2 0.2M309.8 446.7l0.3 0.2M310.7 448.3l0.9 0.3M317.1 427.9l1.0 0.6M317.2 429.3l0.0 1.3M323.3 439.4l0.4 0.6M306.9 451.3l-0.7 0.8M307.1 450.0l-0.1 0.0M327.4 452.9l-0.1 0.5M326.3 450.3l0.3 1.5M327.2 454.1l-0.8 0.4M324.2 450.0l1.2 0.2M328.4 450.5l-0.9 1.0M311.5 443.6l-0.9 0.5M308.5 443.3l0.3 0.4M333.8 434.8l0.4 0.4M331.7 438.6l0.1 0.2M310.9 438.2l-0.2 1.1M308.5 441.6l-0.3 0.4M326.8 453.5l-0.1 0.1M313.4 441.4l-0.3 0.8M313.9 441.4l0.2 0.6M310.1 444.2l1.2 1.0M318.9 449.4l-0.8 0.4M307.0 446.2l-0.0 1.0M305.5 438.0l-1.1 0.1M306.5 435.6l1.5 0.2M308.3 435.5l0.0 0.1M322.0 443.7l-0.6 0.5M321.4 434.4l0.1 0.1M324.7 440.0l0.6 0.1M320.9 439.2l-0.8 1.2M302.1 458.7l0.3 0.2M315.1 439.4l0.9 1.0M312.8 437.3l-0.4 0.7M313.1 451.3l-0.1 0.4M319.2 448.1l1.1 0.5M322.2 447.9l0.0 0.1M319.1 451.5l-0.3 0.4M318.8 453.9l-0.3 0.6M318.9 442.5l-0.6 0.6M317.1 442.7l-1.1 0.3" fill="none" stroke="#f2102c" stroke-width="3.2" stroke-linecap="round"/>
<path d="M322.4 443.0l0.0 0.0M311.2 437.2l-0.0 0.1M312.7 436.0l0.0 0.3M312.6 436.7l-0.4 0.1M326.9 434.6l0.3 1.3M330.4 448.9l0.6 0.4M322.9 450.0l0.4 0.1M324.0 452.3l-0.5 0.1M314.5 448.1l0.7 1.1M312.1 447.2l0.4 0.6M312.3 449.1l0.1 0.5M312.8 442.8l0.3 0.3M324.2 443.8l0.1 0.6M323.1 443.2l-0.3 0.3M323.7 443.7l0.3 0.3M329.8 453.6l0.8 1.0M320.1 439.5l1.3 0.1M303.1 447.6l0.9 1.1M308.8 443.7l1.0 0.1M347.7 449.1l-0.0 0.8M347.8 450.2l-1.4 0.2M308.7 438.5l-0.3 0.1M319.5 457.6l0.8 1.1M305.3 453.6l0.2 1.0M303.9 453.2l-0.0 0.9M318.0 448.4l-0.7 1.0M324.3 442.0l0.0 0.1M314.0 447.1l1.0 0.8M326.1 442.3l-0.9 0.1M311.9 439.0l0.1 0.5M324.8 444.2l-0.2 0.7M310.2 455.2l0.0 0.1M320.2 440.6l0.6 0.8M331.8 449.9l0.5 1.0M305.5 433.4l0.7 1.0M305.9 434.1l-0.1 0.2M301.2 438.9l-0.6 0.1M317.9 446.6l-0.6 0.1M312.9 442.3l-1.3 0.0M319.6 439.5l-0.1 1.2M343.2 446.3l-0.7 0.8M344.1 448.0l0.6 1.3M306.1 447.3l-0.8 0.7M311.7 446.7l-0.3 0.3M325.9 438.9l1.4 0.4M322.1 443.6l0.2 0.3M321.2 440.2l-0.9 0.3M305.9 452.4l0.6 0.1M328.4 451.4l1.4 0.3M328.3 444.6l0.4 0.1M336.8 445.0l-0.4 0.8M332.4 448.6l0.5 0.3M310.7 443.0l0.3 0.9M311.7 443.9l0.7 0.0M333.8 437.4l-0.4 1.0M332.4 436.2l-0.3 0.9M327.5 455.5l0.3 0.4M312.0 443.3l-0.4 0.3M319.0 444.5l-0.4 0.8M319.1 444.0l-0.2 0.0M324.2 445.5l-0.1 0.3M305.0 447.1l-0.1 0.2M310.1 437.5l-0.1 0.5M320.8 442.3l0.9 0.6M317.5 433.8l0.3 0.8M322.2 432.8l-0.1 0.2M324.5 442.1l-0.8 0.4M320.9 442.7l0.0 0.0M305.8 457.9l0.6 0.1M313.9 441.6l-0.3 1.0M314.6 436.0l0.2 0.6M311.9 450.7l-0.7 0.9M312.4 448.8l-1.2 0.5M318.8 450.0l0.5 0.8M316.9 450.8l-0.0 0.7M324.7 441.7l-1.4 0.2" fill="none" stroke="#f2102c" stroke-width="2.2" stroke-linecap="round"/>
<path d="M327.7 458.3l-0.1 0.6M314.1 450.9l0.4 0.5M315.6 452.6l-0.0 0.0M298.6 457.8l-0.4 0.2M309.4 465.3l-0.2 0.0M329.8 430.8l0.2 0.7M301.8 438.8l-0.1 0.4M299.9 449.3l-0.0 0.0M294.2 442.5l0.3 0.1M316.6 423.7l0.3 0.2M299.0 450.3l-0.7 0.2M315.2 461.7l0.6 0.3M313.0 441.2l-0.1 0.0M310.1 429.1l-0.3 0.8M310.6 426.9l-0.3 0.6M306.2 443.4l0.5 0.6M363.0 446.7l0.1 0.0M352.5 440.2l0.1 0.1M305.4 464.8l-0.2 0.5M342.5 439.7l-0.3 0.5M324.1 463.8l0.1 0.8M351.8 442.7l0.1 0.2M284.6 441.1l-0.0 0.1M284.0 445.2l-0.4 0.4M292.3 458.6l0.2 0.0M347.5 453.3l-0.0 0.0M364.0 445.8l0.1 0.1M305.2 428.5l-0.1 0.8M306.5 443.9l-0.0 0.0M313.3 441.3l0.5 0.3M288.0 433.0l0.4 0.6M312.4 442.2l-0.1 0.2M303.4 437.8l0.5 0.2M308.1 461.1l0.7 0.3M349.6 446.0l0.0 0.0M332.7 440.8l-0.1 0.0M298.0 457.8l0.6 0.3M296.0 423.9l-0.4 0.0M332.9 446.3l0.1 0.2M297.1 429.2l0.0 0.0M338.3 460.6l0.5 0.5M316.0 434.5l-0.0 0.1M322.4 429.0l0.7 0.4M319.2 450.8l0.1 0.1M312.4 430.1l-0.0 0.0M333.9 445.1l-0.1 0.3M326.5 433.6l0.1 0.2M354.3 451.5l-0.5 0.5M292.3 451.9l0.0 0.0M291.9 435.4l-0.1 0.1M306.0 463.9l-0.2 0.8M285.8 446.5l0.4 0.4M362.4 444.8l-0.7 0.2M353.2 449.1l-0.1 0.1M327.7 438.1l-0.0 0.1M305.3 465.3l0.0 0.1M327.8 440.3l-0.0 0.6M324.1 457.4l0.2 0.4M341.6 438.7l-0.7 0.2M349.3 457.4l-0.1 0.5M310.7 424.4l0.2 0.3M333.9 451.5l-0.5 0.4M322.9 428.5l0.1 0.2M310.9 431.5l-0.0 0.0M346.6 452.2l0.2 0.0M334.7 442.8l0.4 0.4M343.1 436.8l0.1 0.4M336.0 433.6l0.4 0.3M318.6 461.0l0.1 0.4M310.8 460.4l0.0 0.1M297.5 429.0l0.1 0.1M288.3 430.5l-0.3 0.3M307.5 436.6l0.0 0.4M345.6 441.4l-0.4 0.4M341.9 455.4l-0.6 0.2M323.6 448.0l-0.1 0.6M320.3 465.8l0.2 0.0M329.3 444.0l-0.2 0.1M289.2 427.5l-0.5 0.2M335.5 433.8l-0.3 0.7M328.2 428.3l-0.5 0.5M293.8 430.5l-0.1 0.0M308.8 465.6l0.1 0.4M298.8 450.4l-0.4 0.2M298.4 463.0l0.2 0.0M340.6 431.9l0.0 0.0M291.6 428.6l-0.0 0.2M296.6 458.0l0.3 0.1M335.0 459.0l-0.4 0.1M288.1 447.4l0.1 0.1M345.9 433.1l0.2 0.2M302.4 455.4l-0.0 0.1M347.1 459.0l-0.4 0.1M348.0 450.4l-0.2 0.3M322.3 431.0l-0.6 0.2M313.6 461.0l0.0 0.2M313.7 449.4l0.4 0.1M348.1 445.2l0.0 0.6M284.0 433.4l-0.1 0.2M326.3 456.6l0.2 0.0M296.8 457.2l0.0 0.0M354.1 448.4l0.1 0.4M318.7 455.7l-0.1 0.1M313.5 422.3l-0.3 0.1M319.2 433.4l0.0 0.6M356.8 446.7l-0.0 0.0M305.7 460.4l-0.4 0.4M297.4 446.2l0.1 0.2M332.5 442.8l-0.3 0.0M301.1 447.1l0.4 0.2M298.4 434.3l-0.1 0.1M296.7 450.4l0.1 0.1" fill="none" stroke="#1216ff" stroke-width="2.3" stroke-linecap="round"/>
<path d="M305.6 465.6l0.1 0.1M304.0 423.3l-0.1 0.3M319.7 456.0l-0.2 0.3M322.5 449.9l0.0 0.3M319.2 462.5l0.4 0.1M297.6 448.7l0.0 0.1M326.2 463.3l0.1 0.0M341.9 445.8l0.3 0.4M333.4 447.1l-0.5 0.0M317.6 438.4l0.1 0.1M308.4 451.2l0.1 0.0M330.3 452.9l-0.1 0.2M342.2 438.1l0.3 0.3M294.0 436.6l-0.0 0.4M327.8 445.3l-0.3 0.1M299.6 439.1l0.2 0.5M294.0 435.9l0.0 0.2M325.6 446.4l0.2 0.2M330.4 443.4l-0.1 0.3M314.4 449.2l0.0 0.0M311.5 447.5l-0.2 0.2M292.0 456.0l0.4 0.0M292.3 446.7l-0.2 0.2M314.8 446.2l0.1 0.1M308.9 465.0l-0.3 0.1M321.8 465.3l-0.0 0.5M329.9 441.1l0.0 0.1M288.6 453.9l-0.2 0.2M306.2 466.3l0.3 0.3M295.6 446.9l-0.0 0.0M296.1 454.2l-0.0 0.0M311.2 457.7l0.2 0.1M358.3 448.2l-0.0 0.0M300.7 435.1l0.4 0.1M323.4 451.0l0.2 0.1M292.5 456.7l-0.1 0.1M317.0 454.2l-0.0 0.0M339.0 436.7l0.1 0.1M309.1 455.8l0.1 0.1M320.8 454.9l0.3 0.2M285.7 448.8l-0.0 0.0M305.3 445.7l-0.0 0.1M305.6 455.9l0.4 0.2M314.2 450.1l-0.0 0.1M308.9 453.6l-0.1 0.0M335.4 444.3l0.3 0.1M310.4 437.3l0.2 0.1M346.1 457.9l0.2 0.4M307.5 436.3l0.2 0.2M309.7 454.2l-0.3 0.2M347.7 451.7l-0.1 0.2M320.6 462.2l0.1 0.3M302.5 445.2l-0.1 0.1M295.2 439.4l-0.0 0.0M319.0 451.4l0.2 0.0M286.6 436.6l0.1 0.0" fill="none" stroke="#1216ff" stroke-width="1.5" stroke-linecap="round"/>
</g>
</g>
<clipPath id="cp3"><rect x="381.1" y="390.8" width="114.8" height="105.69999999999999"/></clipPath>
<g clip-path="url(#cp3)">
<rect x="381.1" y="390.8" width="114.8" height="105.69999999999999" fill="#000"/>
<path d="M437.3 472.6l0.1 0.3M488.9 418.4l0.9 0.1M412.4 447.8l0.5 0.5M489.6 473.5l0.0 0.1M458.9 473.3l-0.0 0.1M480.5 414.7l0.4 0.9M392.9 495.7l0.2 0.9M384.8 434.8l-0.1 0.3M399.5 448.3l-0.2 1.1M495.9 419.1l-0.8 0.7M484.4 490.9l-0.7 0.6M472.9 413.2l0.3 0.1M439.0 482.7l1.0 0.3M466.7 486.8l0.3 0.6M456.7 419.6l-0.5 0.7M438.9 418.0l-0.6 0.0M480.1 488.3l0.2 0.1M473.1 400.5l0.3 0.7M445.5 481.3l-0.5 0.3M483.5 483.0l-0.3 0.5M402.8 459.4l-0.5 0.4M468.2 403.2l1.2 0.2M445.0 407.4l0.1 0.2M385.1 471.8l0.1 0.1M478.0 458.4l-0.0 0.9M454.1 464.0l-0.0 0.0M464.4 469.5l0.2 0.3M406.7 456.1l0.5 1.1M451.8 475.5l0.5 0.9M400.1 462.6l-0.6 0.7M385.9 390.9l0.3 0.9M484.6 400.3l-1.0 0.6M494.1 490.9l0.3 0.6M460.1 431.9l-0.3 0.4M458.7 423.7l0.7 0.0M492.8 408.7l-0.4 1.1M475.1 465.1l-0.5 0.3M404.0 489.1l-1.0 0.3M484.1 430.6l0.2 0.1M490.2 450.0l-0.2 0.0M433.9 479.7l0.0 0.5" fill="none" stroke="#0808ff" stroke-width="2.2" stroke-linecap="round"/>
<path d="M475.4 477.2l0.3 1.3M381.9 400.6l0.7 0.3M391.8 445.9l-0.7 0.2M418.3 486.4l0.6 0.8M408.2 490.7l-0.3 0.1M415.3 417.3l-1.1 0.6M402.7 442.2l0.5 0.5M389.5 479.5l-0.1 0.0M463.3 477.9l-1.0 0.3M495.0 460.1l0.4 0.3M452.3 468.7l-0.3 0.9M463.7 392.0l-0.4 0.1M454.6 435.4l-0.4 0.4M485.7 405.5l0.4 1.2M462.8 401.0l0.5 0.0M385.9 402.2l0.2 0.9M484.7 421.2l1.0 0.2M407.6 443.8l-0.0 0.1M491.0 457.4l-0.0 0.1M467.3 408.5l0.1 0.0M413.7 452.9l0.3 0.6M476.2 432.8l-0.7 1.0M455.4 393.7l-0.5 0.7M460.6 413.1l-0.0 0.0M459.8 492.9l0.6 0.4M488.4 422.6l0.7 0.2M405.2 462.7l0.5 0.1M450.1 432.6l-0.7 1.0M458.6 450.4l0.8 0.2M387.7 486.5l-0.2 0.3M464.4 435.4l-0.0 0.9M396.4 441.7l-0.0 0.0M471.2 462.5l-0.2 0.1M419.6 479.3l0.3 0.8M433.3 493.8l-0.4 0.7M465.9 423.4l0.3 0.3M486.3 446.6l0.9 0.8M404.9 405.4l0.5 1.1M429.9 421.1l0.6 0.4M438.4 397.4l0.2 0.1M411.4 401.1l0.5 0.2M423.1 463.5l-0.5 0.0M417.6 408.1l0.1 0.0M396.6 404.5l-0.0 0.3M478.8 400.9l-0.7 0.8M459.6 480.2l-0.1 0.2M431.8 407.4l0.2 0.5M461.0 454.1l-0.4 0.3M492.6 397.9l0.7 0.6M414.4 490.7l-0.3 0.9M470.5 471.6l-0.4 0.2M427.3 482.5l-0.1 0.1M461.9 441.9l0.0 0.0M429.0 494.6l0.4 0.4M412.1 496.2l-0.2 0.2M421.6 430.7l-0.5 0.1M381.6 392.8l-0.1 0.1M478.8 437.7l0.3 0.4M462.3 424.6l-0.9 0.3M417.2 397.9l0.1 0.5M472.2 487.6l-0.4 1.1M417.0 448.6l-0.1 0.0M404.0 437.1l0.1 0.3M427.5 416.4l0.4 1.2M395.3 395.3l0.0 0.2M383.6 429.1l0.1 0.1" fill="none" stroke="#0808ff" stroke-width="2.8" stroke-linecap="round"/>
<path d="M407.4 394.0l-0.4 0.1M407.5 495.6l-1.3 0.2M452.1 485.1l-0.6 0.8M454.9 496.3l-0.1 0.2M479.0 420.4l0.3 0.0M456.0 442.1l0.4 0.2M382.3 456.0l-0.8 0.2M460.7 445.7l0.3 0.3M389.8 411.1l0.0 0.1M465.3 430.6l-0.3 0.4M472.0 445.6l0.1 0.2M428.1 409.3l0.3 0.2M394.6 424.5l-0.5 0.2M394.1 469.6l-0.3 0.5M490.3 490.1l0.0 1.0M432.1 413.5l-0.0 0.0M402.2 409.0l-0.5 0.2M481.2 444.1l0.2 1.0M480.6 450.6l-0.8 0.6M477.6 393.5l0.6 0.5M495.7 427.2l0.7 0.2M401.8 414.3l-0.3 0.6M383.4 439.6l-0.1 0.3M492.8 430.1l-0.0 0.2M495.6 455.8l0.9 0.3M427.6 404.5l0.1 0.3M403.3 493.2l-0.7 0.6M414.8 457.4l-0.6 0.3M479.7 475.6l0.0 0.2" fill="none" stroke="#0808ff" stroke-width="3.4" stroke-linecap="round"/>
<path d="M394.6 434.1l-0.2 0.8M459.7 404.4l0.3 0.4M387.5 396.0l-0.2 0.0M415.1 468.7l0.1 0.1M399.6 420.3l1.0 0.2M457.1 407.7l0.4 0.3M479.8 462.2l-0.2 0.1M391.2 427.2l0.3 0.6M444.8 485.4l-0.3 0.8M451.6 418.1l-0.2 0.1M455.1 480.0l0.0 0.0M440.4 412.1l0.4 0.5M461.9 486.4l1.0 0.6M413.5 434.4l0.2 0.7M422.6 485.9l-0.1 0.2M443.9 472.4l-0.1 0.5M476.9 472.5l-0.4 0.9M475.0 441.8l0.1 0.3M425.4 478.5l0.8 0.7M382.6 412.8l-0.1 0.1M468.7 391.1l0.4 1.2M398.1 410.2l0.6 0.6M489.8 466.1l-0.6 0.7M464.6 397.5l0.9 0.4M433.8 474.3l1.0 0.3M391.2 490.9l-0.2 0.9M404.2 391.9l0.6 0.7M443.9 401.6l0.3 0.6M450.6 480.5l1.3 0.2M397.1 466.4l0.7 0.4M413.2 422.8l0.1 0.2M389.0 438.5l-0.1 0.1M445.8 422.0l0.4 1.0M424.3 491.4l0.5 0.7M486.1 460.0l0.8 0.2M442.8 395.8l-0.2 0.6M458.2 427.6l-0.7 0.8M405.5 451.7l-0.2 0.4M391.3 463.8l-1.0 0.3M394.6 455.1l-0.9 0.4M429.7 488.9l-0.1 0.2M452.7 455.7l-0.5 0.1M385.0 416.7l0.1 0.0" fill="none" stroke="#0505c0" stroke-width="1.9" stroke-linecap="round"/>
<path d="M397.1 393.7h0M399.7 423.8h0M397.7 431.4h0M396.1 397.1h0M445.2 409.3h0M476.8 410.5h0M469.1 442.3h0M472.5 460.0h0M439.1 473.8h0M484.5 463.9h0M402.9 394.3h0M488.5 488.7h0M427.7 488.4h0M491.8 419.9h0M461.8 444.1h0M383.9 400.3h0M466.7 449.5h0M427.1 400.7h0M394.7 405.3h0M458.7 455.0h0M409.4 435.4h0M467.2 443.3h0M416.0 448.5h0M462.4 460.2h0M400.5 488.8h0M419.9 477.3h0M461.8 435.5h0M459.3 412.1h0M450.8 404.4h0M479.0 472.7h0M460.2 473.2h0M486.6 432.9h0M465.6 491.2h0M479.9 487.3h0M478.2 409.1h0M487.5 426.2h0M468.6 416.6h0M461.9 430.7h0M481.0 395.9h0M401.2 446.3h0M410.6 429.9h0M491.1 468.1h0M422.5 493.6h0M490.6 418.7h0M422.4 419.4h0M492.9 440.9h0M382.3 474.2h0M489.8 446.8h0M474.3 486.5h0M396.3 463.3h0M478.0 464.3h0M415.9 490.9h0M414.2 435.0h0M383.5 403.1h0M415.3 392.9h0M395.2 411.1h0M481.0 496.3h0M450.3 414.6h0M467.2 457.9h0M460.1 480.1h0M428.1 486.0h0M417.1 489.6h0M459.5 391.1h0M478.3 406.7h0M399.6 456.3h0M476.2 437.8h0M479.6 477.8h0M416.0 472.3h0M469.7 446.5h0M454.9 450.5h0M391.8 439.3h0M469.7 397.7h0M411.8 438.1h0M421.4 417.1h0M470.5 465.5h0M391.4 473.1h0M384.7 402.3h0M444.4 469.6h0M407.9 489.4h0M478.9 476.5h0M410.2 422.1h0M460.8 459.9h0M460.2 484.8h0M478.5 408.6h0M381.2 451.7h0M467.2 401.1h0M477.9 457.3h0M486.7 420.7h0M430.5 403.3h0M487.3 455.2h0M469.5 417.3h0M461.8 494.9h0M495.0 461.5h0M436.1 488.6h0M423.0 409.8h0M412.9 451.2h0M382.5 454.2h0M456.7 495.9h0M406.8 401.4h0" fill="none" stroke="#0606b0" stroke-width="1.2" stroke-linecap="round"/>
<g fill="none" stroke="#0808ff"><ellipse cx="404.4" cy="475.8" rx="11.6" ry="11" stroke-width="1.8"/><ellipse cx="404.4" cy="475.8" rx="15.5" ry="14.5" stroke-width="1.2" stroke-dasharray="2 1.5"/><path d="M418,467 q8,6 16,2 t18,-1" stroke-width="2" stroke-dasharray="3 1.2"/><path d="M420,472 q8,5 16,1 t12,2" stroke-width="1.6" stroke-dasharray="2.5 1.5"/><path d="M385,470 q5,-6 12,-8" stroke-width="1.5" stroke-dasharray="2.5 1.5"/><path d="M497,436 q-9,3 -8,16 q1,10 8,13" stroke-width="1.6"/></g>
<path d="M397.9 488.2l-1.1 0.5M407.0 488.4l-0.4 0.5M400.8 489.2l-0.8 0.2M388.0 481.5l-0.1 0.8M394.4 463.4l0.9 0.3M412.7 488.1l-0.5 0.4M399.3 459.9l0.7 0.3M416.5 486.2l-0.1 0.3M420.2 469.1l0.5 0.3M399.0 492.6l0.6 0.4M417.7 466.0l0.9 0.2M404.2 458.9l-0.9 0.6M404.9 490.2l-0.4 0.4M392.9 486.0l0.2 0.2M414.5 486.5l-0.4 0.3M409.7 459.4l1.2 0.5M399.7 461.5l0.4 0.3M411.1 491.0l-0.1 1.0M408.2 493.1l1.3 0.5M408.9 459.5l-1.2 0.7M390.9 478.5l-0.8 0.5M410.9 488.6l0.5 0.5M388.2 474.6l0.2 0.1M414.9 467.0l-0.8 0.8M396.3 463.1l-0.1 0.5M385.7 474.7l0.3 0.8M392.0 486.0l-0.3 0.2M390.0 486.2l1.2 0.6M396.1 488.4l0.9 0.2M419.5 478.9l1.1 0.2M399.2 492.1l0.1 0.5M405.5 459.9l0.0 0.0M414.3 463.2l-0.1 1.3M390.9 469.5l-1.3 0.0M417.3 477.1l-0.1 0.3M391.9 464.0l1.0 1.0M411.2 489.6l0.8 0.6M398.6 492.2l0.2 0.3M401.0 463.0l0.6 1.1M395.9 490.4l-0.0 0.1M409.7 463.2l1.0 0.9M394.3 462.4l0.2 0.7M406.5 462.6l0.1 0.5M410.6 491.2l0.5 1.0M391.2 487.4l-1.2 0.1M413.9 463.2l-0.5 1.3M393.5 466.3l0.2 0.9M411.9 461.8l-0.1 0.1M416.6 487.8l0.1 0.2M415.5 466.5l0.7 0.2M420.5 478.2l0.1 0.1M420.1 480.5l-0.3 0.8M399.2 487.8l-0.0 0.1M415.6 487.1l-0.3 0.2M402.1 493.0l0.0 0.0M408.7 488.8l0.5 0.2M411.9 491.1l0.2 0.0M396.3 460.5l-0.2 1.1M397.4 462.6l0.0 0.0M417.7 483.3l0.6 1.1M404.9 460.7l-0.8 0.1M417.5 476.9l-1.2 0.6M400.0 463.1l0.7 0.1M416.8 480.4l-0.3 0.5M417.9 481.4l-0.4 0.3M413.6 490.7l-0.1 0.1M418.6 485.1l-1.2 0.7M389.6 474.2l-0.3 0.0M418.3 486.1l0.8 0.3M417.2 478.3l0.0 1.5M435.8 471.6l-0.0 0.5M434.2 466.7l0.2 0.2M426.8 470.5l-0.8 0.3M446.4 466.4l1.3 0.1M433.9 473.9l-0.3 0.1M444.0 467.4l0.7 0.9M421.2 471.4l0.3 0.9M448.0 468.7l0.9 0.3M428.2 475.4l0.1 0.0M447.4 471.3l-0.3 1.2M444.4 473.1l0.1 0.1M433.2 475.8l0.8 0.3M446.9 469.2l0.2 0.0M419.3 473.7l1.1 0.1M434.6 466.3l1.0 0.8M437.1 471.3l-0.2 0.3M423.1 468.3l0.4 0.0M446.7 466.5l-0.9 0.3M437.8 474.3l0.2 0.5M420.2 471.7l-0.2 0.2M434.1 468.7l-0.5 0.0M438.9 469.5l0.2 0.2M423.7 470.0l1.2 0.4M429.1 469.9l-0.4 0.9M444.5 467.4l-0.8 0.8M450.2 473.4l0.0 0.0M448.1 466.7l-0.3 0.1M450.9 469.1l-0.1 0.4M428.5 468.4l1.0 1.0M448.3 467.5l-1.5 0.2M423.0 472.5l0.4 0.1M441.6 475.0l0.1 0.0M438.0 470.6l0.0 0.5M449.1 474.4l-0.0 0.0M433.5 468.9l0.3 0.6M436.7 471.6l-0.5 0.6M450.6 470.8l0.4 0.1M429.1 467.0l-0.1 0.3M442.5 472.1l0.7 0.7M446.6 473.9l-1.0 0.5M440.3 473.3l-0.6 1.0M435.0 467.1l-0.1 0.0M451.0 473.2l0.1 0.3M451.7 474.4l0.9 1.0M431.8 472.3l0.5 0.1" fill="none" stroke="#0808ff" stroke-width="1.6" stroke-linecap="round"/>
<clipPath id="ic3"><path d="M417.8,454.6C417.4,451.8 417.1,447.6 417.8,443.5C418.6,439.4 420.3,433.7 422.3,430.0C424.3,426.3 427.2,422.9 430.0,421.2C432.8,419.5 436.4,419.1 439.0,420.0C441.6,420.9 444.0,423.5 445.7,426.7C447.4,429.9 448.1,434.4 449.0,439.0C449.9,443.6 451.5,450.5 451.3,454.6C451.1,458.7 450.4,461.7 448.0,463.6C445.6,465.5 440.5,465.4 436.8,465.8C433.1,466.2 428.4,466.7 425.6,465.8C422.8,464.9 421.3,462.1 420.0,460.2C418.7,458.3 418.2,457.4 417.8,454.6Z"/></clipPath>
<path d="M417.8,454.6C417.4,451.8 417.1,447.6 417.8,443.5C418.6,439.4 420.3,433.7 422.3,430.0C424.3,426.3 427.2,422.9 430.0,421.2C432.8,419.5 436.4,419.1 439.0,420.0C441.6,420.9 444.0,423.5 445.7,426.7C447.4,429.9 448.1,434.4 449.0,439.0C449.9,443.6 451.5,450.5 451.3,454.6C451.1,458.7 450.4,461.7 448.0,463.6C445.6,465.5 440.5,465.4 436.8,465.8C433.1,466.2 428.4,466.7 425.6,465.8C422.8,464.9 421.3,462.1 420.0,460.2C418.7,458.3 418.2,457.4 417.8,454.6Z" fill="#20bc48" stroke="#20bc48" stroke-width="1.0"/>
<g clip-path="url(#ic3)">
<path d="M440.1 464.3l-0.2 0.0M418.8 442.3l0.1 0.2M435.8 424.8l0.5 0.2M443.0 460.7l-0.5 0.4M436.8 456.0l0.3 0.5M424.9 430.9l-0.8 0.6M423.9 457.1l0.7 0.2M441.8 458.5l0.1 0.8M418.8 451.9l-0.5 1.4M427.5 454.9l-0.1 0.4M441.9 460.6l0.0 0.0M439.5 455.8l0.2 0.3M441.9 459.1l0.0 0.0M440.2 421.2l0.3 0.2M439.2 440.4l1.2 0.8M434.7 430.8l-0.2 0.0M445.0 429.6l0.4 0.6M429.6 459.2l-0.4 0.4M435.6 435.8l-0.1 1.3M431.7 456.2l-0.0 0.0M419.0 450.2l-0.1 0.0M419.3 453.9l-0.3 0.8M430.2 457.3l0.1 0.7M444.5 433.7l-1.0 0.2M426.7 435.2l-0.0 0.9M440.3 437.8l0.9 0.0M435.6 448.5l-0.1 0.1M436.9 428.6l-0.5 0.5M429.7 443.2l0.1 0.2M440.6 446.1l-0.1 0.3M448.5 451.9l1.1 0.4M442.5 428.9l-0.6 1.2M427.1 440.9l0.4 0.3M424.3 433.5l0.4 0.0M419.4 453.1l0.5 0.3M431.6 421.3l0.8 0.5M433.4 464.3l0.4 1.3M444.3 454.3l-0.3 0.1M437.0 453.8l0.2 1.2M447.6 448.1l0.1 0.1M435.8 459.6l0.2 0.5M421.8 457.6l-0.6 0.1M434.4 435.1l-0.3 0.0M439.9 431.9l0.3 0.1M426.5 432.0l-1.3 0.3M442.7 458.5l-1.3 0.4M424.8 428.6l-0.2 0.4M432.1 447.9l0.7 0.5M418.8 447.5l-0.9 0.3M428.9 437.9l0.4 0.3M422.3 442.2l0.4 0.0M447.9 440.8l-0.6 0.1M428.4 460.2l-0.5 0.8M448.6 449.9l-0.7 0.0M428.9 424.8l-0.4 0.6M426.4 437.8l0.7 0.4M438.6 454.1l0.7 0.5M440.1 459.0l-0.0 0.1M433.6 457.6l0.1 0.4M419.6 450.5l0.4 1.0M418.7 453.1l0.1 0.0M435.9 453.5l-1.0 0.1M440.3 441.1l1.0 0.0M434.0 459.0l0.3 0.3M422.7 448.6l0.0 0.3M449.6 450.5l1.3 0.4M449.3 453.3l-0.0 0.5M419.6 458.7l-0.7 0.0M425.3 461.5l0.3 0.9M433.2 458.0l0.1 0.6M421.5 459.7l-1.2 0.9M427.7 441.3l0.5 0.9M440.7 455.8l0.7 0.3M443.5 449.9l-0.1 0.0M445.9 432.2l-0.6 0.0M435.7 446.0l0.0 0.0M423.2 459.6l-0.5 0.8M437.6 425.5l0.5 0.4M436.8 447.0l0.8 1.0M426.8 461.4l-0.7 0.8M426.2 455.9l-0.7 1.2M424.4 435.0l1.3 0.2M438.7 431.9l-0.6 0.3M429.4 462.3l-0.3 0.0M432.3 448.1l-0.4 0.5M421.2 459.3l-0.1 0.2M434.3 430.7l-1.0 0.4M436.7 435.5l0.3 0.4M426.1 440.0l-0.1 0.0M425.0 456.3l1.2 0.2M422.9 434.3l-0.7 1.1M432.7 453.4l0.0 0.7M439.8 444.5l-0.8 0.6M424.1 449.6l-0.2 0.0M440.8 426.6l-0.3 0.8M427.0 430.1l0.5 0.4M425.6 460.0l-1.4 0.2M436.2 458.3l-0.1 0.3M432.0 463.8l-0.8 0.4M446.6 434.0l0.1 0.2M432.3 444.4l-0.2 0.1M420.8 451.5l0.7 0.3M430.1 422.1l-0.5 0.2M428.1 442.8l0.4 0.6M425.6 432.9l-0.8 0.7M426.7 460.3l-0.3 1.2M444.0 452.7l-0.7 0.4M432.9 459.2l-0.4 0.5M424.3 442.6l-0.0 0.0M429.6 438.2l-0.6 1.3M433.5 435.2l-0.5 0.0M431.0 450.3l-0.9 1.1M449.5 453.8l1.4 0.0M436.4 455.1l0.4 0.4M434.9 443.8l0.1 0.5M440.6 428.3l-0.1 0.1M445.9 439.4l-0.2 0.1M421.6 445.8l-1.3 0.4M440.2 460.1l-0.3 1.2M429.4 442.2l0.1 0.1M443.3 425.0l-0.1 0.2M442.7 458.5l-0.0 0.1M437.7 459.5l0.1 1.4M441.9 432.6l0.5 0.7M446.7 440.4l0.4 0.6M434.9 422.5l0.4 1.4M442.4 453.4l-0.5 0.3M431.6 435.9l0.1 0.1M443.7 446.8l-0.2 0.8M429.2 452.9l0.5 0.3M420.4 435.9l-0.1 0.0M424.0 432.7l0.4 0.9M437.0 422.5l-0.0 0.0M421.0 442.7l1.2 0.7M434.8 433.8l0.2 0.2M440.9 447.7l0.3 0.2M438.4 457.5l-0.0 0.0M436.3 450.3l0.5 1.1M446.9 453.5l-1.0 0.5M435.4 436.6l-0.0 0.8M430.5 462.7l-0.0 0.0M427.0 440.7l-0.4 0.6M437.9 433.2l-0.5 0.8M423.8 438.8l-0.3 0.3M428.9 464.8l0.1 0.7" fill="none" stroke="#0a4a30" stroke-width="1.8" stroke-linecap="round"/>
<path d="M439.4 443.5l0.0 0.1M425.3 455.7l0.2 0.2M430.4 441.8l-0.0 0.0M429.7 438.8l0.5 0.1M432.3 435.9l1.2 0.7M427.2 447.0l0.2 1.8M425.5 449.8l0.7 0.0M419.3 448.5l0.0 0.0M419.3 449.1l0.3 0.3M438.9 446.6l0.3 0.4M432.7 424.7l0.3 0.6M431.3 427.0l0.1 0.1" fill="none" stroke="#f2102c" stroke-width="3.2" stroke-linecap="round"/>
<path d="M421.6 450.3l-0.2 0.7M418.7 451.7l0.1 0.5M441.1 442.6l1.2 0.6M442.7 443.6l0.8 1.3M426.4 458.3l-0.8 0.3M430.2 439.2l0.0 0.1M427.6 451.0l-0.2 0.9M432.3 448.9l-0.1 0.1M432.0 448.8l-1.2 0.3M438.9 448.5l-0.8 0.3M431.9 425.8l0.2 1.4" fill="none" stroke="#f2102c" stroke-width="2.2" stroke-linecap="round"/>
<path d="M433.8 432.5l-0.2 0.0M443.8 457.0l0.7 0.1M443.2 448.1l-0.4 0.0M424.3 458.4l-0.2 0.4M420.5 458.2l-0.1 0.1M432.3 436.7l0.3 0.0M439.9 455.8l-0.5 0.3M429.5 427.0l0.1 0.1M438.7 433.4l-0.6 0.2M421.3 434.4l0.3 0.5M431.9 431.3l0.3 0.1M426.0 454.1l0.1 0.1M440.6 425.5l0.5 0.3M425.3 442.1l-0.3 0.1M442.9 439.3l0.0 0.0M430.4 425.3l0.1 0.1M426.1 453.2l0.2 0.6M444.4 461.0l-0.6 0.0M425.2 441.4l-0.2 0.1M432.7 425.2l0.1 0.1M444.3 438.7l0.1 0.6M425.7 445.2l-0.3 0.7M446.3 457.0l0.0 0.0M437.2 436.1l0.1 0.2M426.9 428.9l-0.1 0.1M422.4 447.3l0.5 0.0M424.3 443.3l-0.1 0.1M425.8 447.2l-0.3 0.3M418.5 441.8l0.0 0.4M428.1 426.3l-0.0 0.5M438.2 456.8l-0.0 0.0M443.0 445.7l0.1 0.1M444.0 463.1l-0.0 0.1M428.4 445.2l0.1 0.3M430.9 454.9l-0.1 0.2M436.7 458.8l0.3 0.0M432.4 438.2l0.2 0.5M436.1 459.4l0.4 0.5M432.3 456.9l0.4 0.2M449.5 447.7l0.1 0.6M434.7 432.0l0.4 0.6M449.2 454.9l0.3 0.1M420.2 453.8l0.8 0.2M448.4 458.2l0.0 0.6M435.6 421.3l-0.4 0.6M438.0 436.9l0.8 0.1M448.1 436.3l0.0 0.7M418.2 444.8l0.0 0.1M428.3 459.0l-0.2 0.3M442.3 455.0l0.6 0.3M418.0 443.3l0.0 0.0M432.8 458.4l0.8 0.1M431.5 431.4l-0.4 0.1M446.9 458.2l-0.3 0.4M438.5 446.9l0.8 0.1M420.8 447.1l-0.3 0.5M440.3 462.3l0.5 0.4M420.9 441.9l-0.7 0.1M444.9 447.0l-0.2 0.1M447.6 435.2l-0.2 0.7M434.0 451.3l-0.1 0.3M437.0 442.2l0.0 0.0M421.8 454.8l0.5 0.5M434.1 427.7l0.1 0.8M422.5 441.1l0.7 0.4M433.8 456.6l0.2 0.7M428.0 440.4l-0.4 0.0M445.8 435.6l-0.1 0.3M423.8 432.3l0.0 0.0M431.1 429.3l0.4 0.3M420.1 439.2l-0.5 0.4M425.1 459.2l-0.3 0.0M434.5 463.4l-0.3 0.1M428.7 448.2l0.0 0.3M438.5 463.0l-0.1 0.2M444.3 427.7l-0.6 0.1M447.0 462.1l0.0 0.1M423.0 435.1l0.1 0.0M444.4 443.5l0.3 0.2M440.8 450.5l0.0 0.5M446.0 433.8l-0.5 0.1M420.4 436.3l0.1 0.3M429.9 437.3l0.5 0.1M429.7 440.1l0.2 0.2M435.3 428.0l-0.3 0.3M421.6 437.1l0.4 0.3M421.4 441.0l-0.6 0.4M426.9 456.7l0.2 0.0M442.4 427.3l0.1 0.1M426.0 460.3l0.1 0.1M417.9 444.1l-0.0 0.1M443.3 424.5l-0.2 0.5M447.2 434.9l0.5 0.3M431.8 428.2l0.1 0.1M441.4 458.0l-0.0 0.1M439.9 434.2l-0.1 0.1M430.8 441.5l0.2 0.4M450.4 453.4l-0.2 0.1M424.6 445.0l-0.0 0.0M450.4 455.8l0.3 0.3M432.9 438.4l0.1 0.1M439.9 458.6l-0.7 0.0M432.4 445.2l-0.5 0.2M420.2 459.0l-0.6 0.3M423.1 434.7l-0.3 0.4M424.0 443.2l0.3 0.0M422.6 432.5l-0.2 0.3M420.2 448.9l0.1 0.1M423.4 455.3l-0.4 0.5M431.0 432.2l-0.5 0.3M418.4 450.5l-0.5 0.3M422.8 438.7l0.2 0.4M423.2 460.3l-0.3 0.1M434.7 429.4l0.4 0.2M439.5 454.4l-0.0 0.2M444.5 453.4l-0.4 0.6M443.2 448.5l-0.0 0.0M434.8 435.8l-0.5 0.5M428.3 429.7l0.0 0.0M442.9 449.0l-0.0 0.3M434.6 425.4l0.5 0.0M436.2 452.0l-0.2 0.4M429.5 427.8l-0.2 0.4M438.0 452.8l-0.6 0.5M428.8 425.0l-0.4 0.2M430.4 451.3l-0.1 0.7M423.3 441.9l0.6 0.3M430.8 425.2l0.2 0.3M419.8 455.8l0.4 0.1M436.7 433.0l-0.3 0.2M436.4 441.6l-0.2 0.5M442.1 463.3l-0.1 0.3M440.9 456.4l-0.2 0.0" fill="none" stroke="#1216ff" stroke-width="2.3" stroke-linecap="round"/>
<path d="M428.9 441.9l0.1 0.4M427.6 459.6l-0.3 0.2M441.8 463.5l0.1 0.4M431.0 428.5l-0.2 0.2M436.4 458.5l-0.3 0.2M434.9 438.6l0.0 0.0M421.1 442.3l-0.2 0.3M429.6 433.4l0.0 0.1M445.2 441.9l-0.3 0.4M447.0 448.9l-0.0 0.5M423.7 438.6l0.0 0.3M441.5 434.4l-0.0 0.0M444.4 443.7l0.2 0.1M428.3 454.5l-0.2 0.1M434.8 439.6l0.2 0.0M423.9 435.0l-0.1 0.1M443.3 436.1l-0.0 0.1M439.6 448.2l-0.0 0.0M425.6 463.0l-0.0 0.4M445.0 446.3l0.0 0.4M450.7 454.6l-0.1 0.2M446.8 455.4l0.5 0.0M429.2 450.4l-0.2 0.1M419.4 450.5l-0.2 0.3M442.9 441.2l0.1 0.3M433.1 428.4l0.1 0.3M431.6 429.3l0.1 0.1M434.3 423.6l0.2 0.1M447.8 457.7l0.0 0.0M422.2 439.8l0.4 0.0M442.1 445.9l0.1 0.1M423.6 461.8l0.0 0.0M447.6 443.4l-0.1 0.2M444.0 428.5l0.2 0.0M440.7 460.3l0.0 0.1M423.0 432.3l0.3 0.2M443.6 451.1l-0.4 0.3M440.2 458.6l-0.0 0.0M443.9 433.6l-0.2 0.2M430.3 446.2l-0.0 0.1M425.6 442.9l-0.0 0.2M442.1 424.3l-0.3 0.1M448.4 443.3l-0.0 0.1M436.7 462.5l0.1 0.3M427.4 427.9l-0.3 0.1M442.1 432.8l0.1 0.1M442.7 438.4l-0.1 0.0M444.9 437.9l-0.1 0.1M444.0 438.8l0.1 0.0M420.1 440.2l-0.1 0.0M434.1 457.4l0.2 0.3M420.9 447.7l0.1 0.0M423.8 450.3l0.0 0.1M428.2 452.4l0.2 0.4M439.8 459.7l0.0 0.4M425.7 440.2l0.2 0.4M435.6 451.9l-0.1 0.2M434.4 449.7l-0.2 0.3M427.9 441.3l-0.4 0.2M428.5 433.3l0.0 0.0M441.3 447.5l-0.1 0.0M447.5 438.1l0.0 0.2M426.3 440.6l-0.0 0.0M432.8 460.5l-0.1 0.0M446.1 454.7l-0.0 0.2M421.8 441.2l0.0 0.0" fill="none" stroke="#1216ff" stroke-width="1.5" stroke-linecap="round"/>
</g>
</g>
<text x="32.3" y="400.2" font-size="9.7" font-weight="bold"><tspan fill="#20d030">Glucagon</tspan> <tspan fill="#f01430">Insulin</tspan> <tspan fill="#0cbcee">DAPI</tspan></text>
<rect x="468.6" y="483.4" width="16.3" height="1.6" fill="#fff4f8"/>
</svg>
</body></html>
